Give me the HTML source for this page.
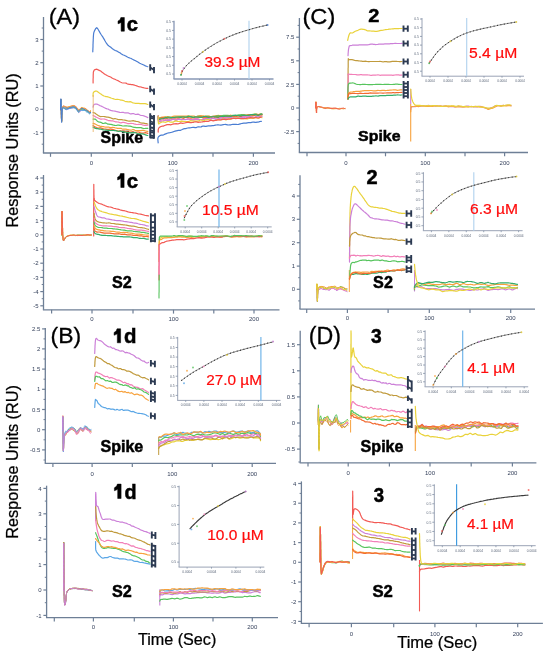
<!DOCTYPE html>
<html><head><meta charset="utf-8"><title>SPR</title>
<style>html,body{margin:0;padding:0;background:#fff;}body{width:550px;height:658px;overflow:hidden;}svg{display:block;filter:blur(0.3px);}</style>
</head><body>
<svg width="550" height="658" viewBox="0 0 550 658" font-family="'Liberation Sans', sans-serif">
<rect width="550" height="658" fill="#fff"/>
<text transform="translate(17.50,227.51) rotate(-90) scale(0.9895,1)" font-size="16.52" fill="#000" stroke="#000" stroke-width="0.25">Response Units (RU)</text>
<text transform="translate(18.10,538.80) rotate(-90) scale(1.0025,1)" font-size="16.23" fill="#000" stroke="#000" stroke-width="0.25">Response Units (RU)</text>
<text transform="translate(137.88,645.20) scale(0.9971,1)" font-size="16.23" font-weight="normal" fill="#000" stroke="#000" stroke-width="0.25">Time (Sec)</text>
<text transform="translate(397.17,648.40) scale(1.0075,1)" font-size="16.38" font-weight="normal" fill="#000" stroke="#000" stroke-width="0.25">Time (Sec)</text>
<text transform="translate(48.69,23.70) scale(1.0250,1)" font-size="22.90" font-weight="normal" fill="#000" stroke="#000" stroke-width="0.3">(A)</text>
<text transform="translate(302.48,23.50) scale(1.0807,1)" font-size="21.86" font-weight="normal" fill="#000" stroke="#000" stroke-width="0.3">(C)</text>
<text transform="translate(50.62,343.40) scale(1.0162,1)" font-size="22.61" font-weight="normal" fill="#000" stroke="#000" stroke-width="0.3">(B)</text>
<text transform="translate(308.81,344.20) scale(1.0080,1)" font-size="23.04" font-weight="normal" fill="#000" stroke="#000" stroke-width="0.3">(D)</text>
<line x1="43.5" y1="17" x2="43.5" y2="153" stroke="#6e7f96" stroke-width="1.3"/>
<line x1="42.9" y1="153" x2="275" y2="153" stroke="#6e7f96" stroke-width="1.3"/>
<line x1="40.3" y1="39.5" x2="43.5" y2="39.5" stroke="#6e7f96" stroke-width="1.2"/>
<text x="38.5" y="41.6" font-size="6" fill="#36425c" font-weight="normal" text-anchor="end">3</text>
<line x1="40.3" y1="62.7" x2="43.5" y2="62.7" stroke="#6e7f96" stroke-width="1.2"/>
<text x="38.5" y="64.8" font-size="6" fill="#36425c" font-weight="normal" text-anchor="end">2</text>
<line x1="40.3" y1="86" x2="43.5" y2="86" stroke="#6e7f96" stroke-width="1.2"/>
<text x="38.5" y="88.1" font-size="6" fill="#36425c" font-weight="normal" text-anchor="end">1</text>
<line x1="40.3" y1="109.3" x2="43.5" y2="109.3" stroke="#6e7f96" stroke-width="1.2"/>
<text x="38.5" y="111.39999999999999" font-size="6" fill="#36425c" font-weight="normal" text-anchor="end">0</text>
<line x1="40.3" y1="132.5" x2="43.5" y2="132.5" stroke="#6e7f96" stroke-width="1.2"/>
<text x="38.5" y="134.6" font-size="6" fill="#36425c" font-weight="normal" text-anchor="end">-1</text>
<line x1="41.7" y1="28" x2="43.5" y2="28" stroke="#6e7f96" stroke-width="1.0"/>
<line x1="41.7" y1="51.1" x2="43.5" y2="51.1" stroke="#6e7f96" stroke-width="1.0"/>
<line x1="41.7" y1="74.4" x2="43.5" y2="74.4" stroke="#6e7f96" stroke-width="1.0"/>
<line x1="41.7" y1="97.6" x2="43.5" y2="97.6" stroke="#6e7f96" stroke-width="1.0"/>
<line x1="41.7" y1="120.9" x2="43.5" y2="120.9" stroke="#6e7f96" stroke-width="1.0"/>
<line x1="41.7" y1="144.2" x2="43.5" y2="144.2" stroke="#6e7f96" stroke-width="1.0"/>
<line x1="50.5" y1="153" x2="50.5" y2="156.8" stroke="#6e7f96" stroke-width="1.2"/>
<line x1="91.3" y1="153" x2="91.3" y2="156.8" stroke="#6e7f96" stroke-width="1.2"/>
<line x1="132.4" y1="153" x2="132.4" y2="156.8" stroke="#6e7f96" stroke-width="1.2"/>
<line x1="172.7" y1="153" x2="172.7" y2="156.8" stroke="#6e7f96" stroke-width="1.2"/>
<line x1="213" y1="153" x2="213" y2="156.8" stroke="#6e7f96" stroke-width="1.2"/>
<line x1="253.4" y1="153" x2="253.4" y2="156.8" stroke="#6e7f96" stroke-width="1.2"/>
<text x="91.3" y="164.8" font-size="6" fill="#36425c" font-weight="normal" text-anchor="middle">0</text>
<text x="172.7" y="164.8" font-size="6" fill="#36425c" font-weight="normal" text-anchor="middle">100</text>
<text x="253.4" y="164.8" font-size="6" fill="#36425c" font-weight="normal" text-anchor="middle">200</text>
<path d="M121.14,17.50L124.37,17.50L124.37,31.20L121.14,31.20L121.14,22.43Q119.77,23.25 118.00,23.80L118.00,21.06Q120.74,19.97 120.86,17.50Z" fill="#000" stroke="#000" stroke-width="0.5" stroke-linejoin="round"/>
<text transform="translate(126.69,31.20) scale(1.0323,1)" font-size="19.57" font-weight="bold" fill="#000" stroke="#000" stroke-width="0.5">c</text>
<text transform="translate(100.62,142.60) scale(0.9883,1)" font-size="16.11" font-weight="bold" fill="#000" stroke="#000" stroke-width="0.5">Spike</text>
<polyline points="60.5,110.5 60.5,109.8 60.6,108.7 60.6,107.3 60.7,105.7 60.7,104.2 60.8,102.7 60.8,101.5 60.9,100.6 60.9,100.2 61.0,100.4 61.0,100.8 61.1,101.4 61.1,102.1 61.1,103.0 61.1,104.0 61.2,105.2 61.2,106.4 61.2,107.7 61.2,109.1 61.3,110.5 61.3,111.9 61.3,113.2 61.3,114.6 61.4,115.9 61.4,117.1 61.4,118.2 61.5,119.2 61.5,120.1 61.5,120.8 61.6,121.3 61.6,121.6 61.7,121.8 61.7,121.4 61.7,120.6 61.8,119.6 61.8,118.3 61.9,116.8 61.9,115.2 62.0,113.6 62.1,112.1 62.2,110.8 62.3,109.7 62.5,108.9 63.5,107.7 64.7,108.6 66.0,109.8 67.0,109.5 68.0,109.2 69.0,108.6 70.0,108.3 71.0,108.3 72.1,108.0 73.1,107.8 74.0,107.6 75.1,107.9 76.1,109.0 77.0,109.8 77.7,110.9 78.2,112.0 78.8,112.7 79.4,112.3 80.1,111.3 81.0,110.5 81.9,110.1 82.9,109.8 83.9,110.0 85.0,110.2 85.9,110.5 86.9,111.0 87.9,111.8 88.8,112.8 89.5,113.3 90.6,112.7" fill="none" stroke="#cc80d8" stroke-width="1.0" stroke-linejoin="round" stroke-linecap="round"/>
<polyline points="60.5,109.7 60.5,108.9 60.6,107.8 60.6,106.3 60.7,104.7 60.7,103.1 60.8,101.6 60.8,100.4 60.9,99.5 60.9,99.1 61.0,99.3 61.0,99.7 61.0,100.3 61.1,101.0 61.1,101.9 61.1,102.9 61.1,104.0 61.2,105.2 61.2,106.5 61.2,107.8 61.2,109.2 61.3,110.6 61.3,111.9 61.3,113.3 61.4,114.6 61.4,115.9 61.4,117.1 61.4,118.2 61.5,119.2 61.5,120.0 61.5,120.7 61.6,121.2 61.6,121.5 61.7,121.6 61.7,121.3 61.7,120.6 61.8,119.7 61.8,118.5 61.8,117.1 61.9,115.6 62.0,114.1 62.0,112.7 62.1,111.3 62.2,110.1 62.3,109.1 62.5,108.4 63.5,107.6 64.7,108.6 66.0,109.0 67.0,108.3 68.0,108.0 69.0,108.2 70.0,108.2 71.0,107.4 72.1,107.1 73.1,107.6 74.0,107.7 75.1,107.9 76.1,109.0 77.0,109.6 77.7,110.5 78.2,111.6 78.8,112.1 79.4,111.3 80.1,109.9 81.0,109.5 81.9,109.6 82.9,109.8 83.9,109.7 85.0,110.2 85.9,110.7 86.9,111.2 87.9,111.5 88.8,112.7 89.5,113.2 90.6,112.6" fill="none" stroke="#57c45e" stroke-width="1.0" stroke-linejoin="round" stroke-linecap="round"/>
<polyline points="60.5,109.7 60.5,108.9 60.6,107.8 60.6,106.4 60.7,104.8 60.7,103.3 60.8,101.8 60.8,100.6 60.9,99.7 60.9,99.3 61.0,99.5 61.0,99.9 61.1,100.5 61.1,101.2 61.1,102.1 61.1,103.2 61.2,104.3 61.2,105.6 61.2,106.9 61.2,108.2 61.3,109.6 61.3,111.0 61.3,112.4 61.3,113.8 61.4,115.1 61.4,116.3 61.4,117.4 61.5,118.4 61.5,119.2 61.5,119.9 61.6,120.4 61.6,120.6 61.6,120.7 61.7,120.4 61.7,119.7 61.8,118.8 61.8,117.6 61.8,116.3 61.9,114.9 61.9,113.5 62.0,112.0 62.0,110.7 62.1,109.4 62.2,108.3 62.4,107.4 62.5,106.8 63.5,106.0 64.7,106.6 66.0,107.2 67.0,107.3 68.0,107.5 69.0,107.3 70.0,106.9 71.0,106.6 72.1,105.8 73.1,105.8 74.0,105.8 75.1,106.1 76.1,106.8 77.0,107.7 77.7,108.7 78.2,109.7 78.8,110.3 79.4,110.2 80.1,109.4 81.0,108.5 81.9,108.3 82.9,108.4 83.9,108.6 85.0,108.3 85.9,108.8 86.9,109.7 87.9,110.7 88.8,111.4 89.5,111.9 90.6,111.5" fill="none" stroke="#f25a55" stroke-width="1.0" stroke-linejoin="round" stroke-linecap="round"/>
<polyline points="60.5,110.1 60.5,109.4 60.6,108.2 60.6,106.8 60.7,105.2 60.7,103.5 60.8,102.0 60.8,100.8 60.9,99.9 60.9,99.5 61.0,99.7 61.0,100.1 61.0,100.6 61.1,101.3 61.1,102.2 61.1,103.2 61.1,104.3 61.2,105.6 61.2,106.8 61.2,108.2 61.2,109.6 61.3,111.0 61.3,112.3 61.3,113.7 61.4,115.0 61.4,116.3 61.4,117.5 61.4,118.5 61.5,119.5 61.5,120.3 61.5,121.0 61.6,121.5 61.6,121.8 61.6,121.8 61.7,121.5 61.7,120.9 61.8,120.0 61.8,118.9 61.8,117.5 61.9,116.1 61.9,114.7 62.0,113.2 62.0,111.8 62.1,110.5 62.2,109.4 62.4,108.5 62.5,107.8 63.5,107.1 64.7,107.9 66.0,108.3 67.0,108.3 68.0,107.3 69.0,107.0 70.0,107.1 71.0,107.2 72.1,106.7 73.1,106.6 74.0,106.4 75.1,106.4 76.1,107.6 77.0,108.3 77.7,109.3 78.2,110.4 78.8,111.1 79.4,110.5 80.1,109.3 81.0,108.1 81.9,107.9 82.9,108.1 83.9,108.4 85.0,109.4 85.9,109.9 86.9,110.3 87.9,110.6 88.8,111.8 89.5,112.1 90.6,111.2" fill="none" stroke="#e9d23a" stroke-width="1.0" stroke-linejoin="round" stroke-linecap="round"/>
<polyline points="60.5,110.4 60.5,109.5 60.6,108.3 60.6,106.7 60.7,105.0 60.7,103.4 60.8,101.9 60.9,100.9 60.9,100.4 61.0,100.6 61.0,101.0 61.1,101.6 61.1,102.3 61.1,103.3 61.1,104.4 61.2,105.6 61.2,106.9 61.2,108.3 61.2,109.7 61.3,111.1 61.3,112.6 61.3,114.0 61.4,115.3 61.4,116.6 61.4,117.7 61.5,118.8 61.5,119.7 61.5,120.4 61.6,120.9 61.6,121.2 61.6,121.2 61.7,120.9 61.7,120.2 61.8,119.3 61.8,118.1 61.8,116.8 61.9,115.4 61.9,114.0 62.0,112.5 62.0,111.1 62.1,109.7 62.2,108.6 62.4,107.6 62.5,107.0 63.5,105.9 64.7,106.3 66.0,106.9 67.0,107.3 68.0,106.9 69.0,106.7 70.0,106.5 71.0,105.9 72.1,106.0 73.1,105.5 74.0,105.6 75.1,106.4 76.1,107.2 77.0,107.8 77.7,108.7 78.2,109.8 78.8,110.4 79.4,109.9 80.1,108.8 81.0,107.6 81.9,107.5 82.9,107.8 83.9,108.3 85.0,108.1 85.9,108.9 86.9,109.8 87.9,110.5 88.8,111.3 89.5,111.5 90.6,110.6" fill="none" stroke="#f7a23d" stroke-width="1.0" stroke-linejoin="round" stroke-linecap="round"/>
<polyline points="60.5,109.8 60.5,109.0 60.6,107.7 60.6,106.1 60.7,104.4 60.7,102.8 60.8,101.3 60.9,100.3 60.9,99.7 61.0,99.9 61.0,100.3 61.1,100.9 61.1,101.6 61.1,102.6 61.1,103.7 61.2,104.8 61.2,106.1 61.2,107.5 61.2,108.9 61.3,110.3 61.3,111.7 61.3,113.1 61.4,114.4 61.4,115.7 61.4,116.8 61.5,117.9 61.5,118.8 61.5,119.5 61.6,120.1 61.6,120.4 61.7,120.5 61.7,120.1 61.8,119.2 61.8,118.0 61.8,116.6 61.9,115.1 62.0,113.5 62.1,112.1 62.2,110.8 62.3,109.7 62.5,109.1 63.5,108.5 64.7,108.8 66.0,109.7 67.0,109.4 68.0,108.8 69.0,108.7 70.0,108.5 71.0,107.9 72.1,108.0 73.1,107.6 74.0,107.5 75.1,108.1 76.1,109.3 77.0,110.4 77.7,111.4 78.2,112.1 78.8,112.3 79.4,111.7 80.1,110.7 81.0,110.2 81.9,110.4 82.9,110.6 83.9,110.4 85.0,110.6 85.9,111.5 86.9,112.1 87.9,112.2 88.8,113.5 89.5,113.9 90.6,112.9" fill="none" stroke="#5aa6e6" stroke-width="1.0" stroke-linejoin="round" stroke-linecap="round"/>
<polyline points="60.5,109.7 60.5,109.0 60.6,107.9 60.6,106.6 60.6,105.1 60.7,103.6 60.7,102.2 60.8,100.8 60.8,99.8 60.9,99.0 60.9,98.7 61.0,99.0 61.0,99.4 61.0,99.9 61.1,100.7 61.1,101.5 61.1,102.5 61.1,103.6 61.2,104.8 61.2,106.1 61.2,107.4 61.2,108.8 61.3,110.2 61.3,111.6 61.3,113.0 61.3,114.3 61.4,115.7 61.4,116.9 61.4,118.1 61.4,119.2 61.5,120.1 61.5,120.9 61.5,121.6 61.6,122.1 61.6,122.4 61.6,122.6 61.7,122.3 61.7,121.7 61.8,120.8 61.8,119.7 61.8,118.4 61.9,116.9 61.9,115.4 62.0,113.9 62.0,112.4 62.1,111.0 62.2,109.8 62.4,108.8 62.5,108.0 63.5,106.9 64.7,108.0 66.0,108.0 67.0,108.0 68.0,108.4 69.0,107.9 70.0,107.3 71.0,107.4 72.1,106.9 73.1,106.7 74.0,106.8 75.1,107.2 76.1,107.8 77.0,109.2 77.7,110.2 78.2,110.9 78.8,111.0 79.4,110.5 80.1,109.5 81.0,108.5 81.9,108.4 82.9,108.7 83.9,109.0 85.0,109.9 85.9,110.1 86.9,110.4 87.9,111.0 88.8,111.8 89.5,112.5 90.6,112.4" fill="none" stroke="#4a7dd2" stroke-width="1.0" stroke-linejoin="round" stroke-linecap="round"/>
<polyline points="92.8,51.8 92.8,51.1 92.8,50.3 92.9,49.4 92.9,48.3 93.0,47.1 93.0,45.8 93.0,44.6 93.1,43.3 93.1,42.1 93.2,40.9 93.2,39.8 93.3,38.8 93.3,38.0 93.4,36.3 93.5,35.0 93.6,34.0 93.7,33.2 93.9,32.4 94.4,31.0 95.0,29.9 95.7,28.4 96.7,27.7 97.3,28.2 97.9,29.0 98.6,30.2 99.4,31.6 100.1,32.9 100.6,33.7 101.1,34.5 101.7,35.3 102.2,36.1 102.8,36.9 103.3,37.9 103.9,38.9 104.5,39.9 105.1,41.0 105.7,42.0 106.4,43.1 107.1,44.1 107.7,45.0 108.4,45.6 109.2,46.2 110.0,46.7 110.8,47.3 111.6,48.0 112.5,48.7 113.5,49.4 114.3,49.9 115.3,50.5 116.3,50.9 117.3,51.3 118.3,51.9 119.3,52.5 120.3,53.1 121.1,53.7 122.3,54.4 123.3,55.0 124.2,55.3 125.1,55.7 126.2,56.3 127.0,56.8 127.9,57.3 128.8,57.6 129.7,58.0 130.7,58.3 131.6,58.8 132.5,59.3 133.4,59.7 134.2,60.1 135.1,60.5 136.0,61.0 136.9,61.5 137.9,62.1 138.9,62.7 139.8,63.3 140.9,63.8 142.0,64.2 143.2,64.7 144.3,65.3 145.4,65.9 146.4,66.2 147.2,66.5 147.8,66.7" fill="none" stroke="#4a7dd2" stroke-width="1.2" stroke-linejoin="round" stroke-linecap="round"/>
<polyline points="93.1,83.0 93.1,82.3 93.1,81.3 93.1,80.2 93.1,79.0 93.2,77.7 93.2,76.3 93.2,75.0 93.3,73.9 93.3,72.8 93.4,72.0 94.1,70.2 95.0,69.6 96.9,69.2 97.7,69.6 98.7,70.1 99.8,70.6 101.0,71.3 101.8,72.0 102.6,72.6 103.5,73.3 104.4,73.9 105.3,74.5 106.2,75.0 107.1,75.5 108.1,76.0 109.0,76.4 110.0,76.8 111.0,77.2 112.0,77.9 113.0,78.5 113.9,78.9 114.9,79.3 115.9,79.8 116.9,80.2 117.9,80.6 118.9,81.2 119.8,81.8 120.9,82.3 121.9,82.7 122.9,83.0 123.9,83.0 125.0,83.0 126.0,83.1 127.1,83.7 128.1,84.2 129.2,84.3 130.2,84.4 131.4,84.6 132.5,84.7 133.5,84.9 134.6,85.2 135.6,85.5 136.7,85.9 137.8,86.3 138.9,86.6 140.0,86.8 141.0,87.0 142.1,87.4 143.2,87.7 144.4,88.0 145.4,88.2 146.4,88.3 147.2,88.3 147.8,88.4" fill="none" stroke="#f25a55" stroke-width="1.2" stroke-linejoin="round" stroke-linecap="round"/>
<polyline points="93.1,96.3 93.1,95.2 93.1,93.7 93.4,92.5 94.2,91.7 95.3,91.1 96.3,91.0 97.2,91.3 98.0,92.1 99.0,92.8 99.7,93.2 100.4,93.7 101.3,94.3 102.2,95.0 103.3,95.6 104.1,96.0 105.0,96.3 105.9,96.6 106.9,96.7 107.9,96.9 108.9,97.2 110.0,97.6 111.0,98.0 111.9,98.3 112.9,98.6 113.8,98.9 114.8,99.2 115.7,99.5 116.7,99.4 117.7,99.4 118.8,99.5 119.8,99.8 120.8,100.1 121.8,100.2 122.8,100.3 123.8,100.7 124.9,101.2 125.9,101.6 127.0,101.7 128.0,101.9 129.0,101.8 130.0,101.7 131.2,101.9 132.3,102.6 133.4,103.0 134.5,103.2 135.6,103.3 136.7,103.3 137.8,103.3 138.9,103.4 140.1,103.6 141.3,103.6 142.6,103.6 143.9,103.6 145.1,103.7 146.2,103.9 147.1,104.2 147.8,104.5" fill="none" stroke="#e9d23a" stroke-width="1.2" stroke-linejoin="round" stroke-linecap="round"/>
<polyline points="93.1,107.1 93.4,105.8 94.0,104.5 95.3,104.0 96.9,104.1 97.8,104.5 98.8,105.0 99.8,105.6 101.0,106.0 101.8,106.4 102.6,106.8 103.5,107.2 104.5,107.8 105.7,108.4 107.1,108.8 107.9,109.0 108.7,109.4 109.6,109.9 110.6,110.4 111.6,110.6 112.7,110.8 113.7,111.0 114.8,111.2 115.9,111.4 116.9,111.7 117.9,111.9 118.9,112.1 119.8,112.4 120.9,112.5 122.0,112.4 123.1,112.3 124.1,112.6 125.1,112.8 126.1,112.9 127.1,112.9 128.1,112.9 129.0,113.3 130.0,113.8 131.2,113.9 132.3,113.6 133.4,113.5 134.5,114.0 135.6,114.5 136.7,114.3 137.8,114.1 138.9,114.4 139.9,115.0 141.0,115.4 142.2,115.5 143.3,115.7 144.5,116.1 145.5,116.5 146.4,116.9 147.2,117.3 147.8,117.6" fill="none" stroke="#cc80d8" stroke-width="1.2" stroke-linejoin="round" stroke-linecap="round"/>
<polyline points="93.1,112.5 95.0,113.1 95.7,113.7 96.5,114.3 97.5,115.0 98.6,115.7 100.0,116.4 100.8,116.6 101.7,116.5 102.6,116.5 103.6,116.5 104.7,116.7 105.8,116.9 106.8,117.1 107.9,117.2 109.0,117.4 110.0,117.6 111.0,118.0 111.9,118.4 112.8,118.8 113.8,118.8 114.7,118.7 115.6,118.7 116.6,119.0 117.7,119.4 118.8,119.6 120.0,119.5 120.9,119.6 121.8,119.7 122.7,119.9 123.7,120.0 124.7,120.2 125.7,120.4 126.8,120.7 127.9,121.0 128.9,121.1 130.0,121.1 131.0,121.0 132.1,120.8 133.1,120.7 134.1,120.9 135.0,121.2 136.2,121.4 137.4,121.5 138.7,121.8 139.9,122.5 141.1,122.9 142.3,123.1 143.5,123.2 144.6,123.4 145.6,123.6 146.4,123.7 147.2,123.9 147.8,124.0" fill="none" stroke="#c09a3c" stroke-width="1.2" stroke-linejoin="round" stroke-linecap="round"/>
<polyline points="93.1,115.5 95.0,116.4 95.7,116.9 96.5,117.3 97.5,117.7 98.6,118.3 100.0,118.9 100.8,119.2 101.7,119.1 102.6,119.0 103.6,119.0 104.7,119.2 105.8,119.5 106.8,119.9 107.9,120.3 109.0,120.6 110.0,120.7 111.0,120.8 111.9,120.9 112.8,120.9 113.8,121.2 114.7,121.5 115.6,121.9 116.6,121.9 117.7,122.0 118.8,122.2 120.0,122.6 120.9,122.8 121.8,122.6 122.7,122.4 123.7,122.4 124.7,122.6 125.7,122.8 126.8,123.2 127.9,123.7 128.9,123.6 130.0,123.5 131.0,123.4 132.1,123.5 133.1,123.5 134.1,123.9 135.0,124.2 136.2,124.4 137.4,124.5 138.7,124.4 139.9,124.3 141.1,124.4 142.3,124.8 143.5,125.1 144.6,125.3 145.6,125.4 146.4,125.3 147.2,125.2 147.8,125.2" fill="none" stroke="#f27fb8" stroke-width="1.2" stroke-linejoin="round" stroke-linecap="round"/>
<polyline points="93.1,119.1 93.7,119.1 95.0,119.2 95.7,119.4 96.5,120.3 97.5,121.3 98.6,122.0 100.0,122.2 100.8,122.3 101.7,122.8 102.6,123.4 103.6,123.5 104.7,123.1 105.8,122.9 106.8,123.5 107.9,124.1 109.0,124.2 110.0,124.3 111.0,124.4 111.9,124.6 112.8,124.9 113.8,125.1 114.7,125.3 115.6,125.5 116.6,125.3 117.7,125.0 118.8,125.1 120.0,125.3 120.9,125.5 121.8,125.7 122.7,126.0 123.7,126.0 124.7,125.9 125.7,125.8 126.8,125.9 127.9,126.0 128.9,126.1 130.0,126.2 131.0,126.4 132.1,126.8 133.1,127.2 134.1,127.3 135.0,127.4 136.2,127.6 137.4,127.7 138.7,127.7 139.9,127.5 141.1,127.6 142.3,128.2 143.5,128.5 144.6,128.5 145.6,128.4 146.4,128.4 147.2,128.4 147.8,128.4" fill="none" stroke="#57c45e" stroke-width="1.2" stroke-linejoin="round" stroke-linecap="round"/>
<polyline points="93.1,123.4 95.0,123.9 95.7,124.3 96.5,124.7 97.5,125.2 98.6,125.7 100.0,126.1 100.8,126.3 101.7,126.4 102.6,126.6 103.6,126.7 104.7,127.0 105.8,127.2 106.8,127.1 107.9,127.0 109.0,127.2 110.0,127.6 111.0,127.7 111.9,127.5 112.8,127.4 113.8,127.5 114.7,127.7 115.6,128.0 116.6,128.1 117.7,128.3 118.8,128.3 120.0,128.3 120.9,128.4 121.8,128.8 122.7,129.1 123.7,129.2 124.7,129.1 125.7,129.0 126.8,129.3 127.9,129.7 128.9,129.9 130.0,130.1 131.0,130.1 132.1,129.8 133.1,129.5 134.1,129.9 135.0,130.3 136.2,130.6 137.4,130.6 138.7,130.7 139.9,130.7 141.1,130.6 142.3,130.4 143.5,130.4 144.6,130.7 145.6,131.0 146.4,131.2 147.2,131.3 147.8,131.4" fill="none" stroke="#f7a23d" stroke-width="1.2" stroke-linejoin="round" stroke-linecap="round"/>
<polyline points="93.1,125.5 93.7,126.0 95.0,126.8 95.7,127.1 96.5,127.5 97.5,127.9 98.6,128.1 100.0,127.9 100.8,127.9 101.7,128.3 102.6,128.7 103.6,128.9 104.7,129.0 105.8,129.1 106.8,129.3 107.9,129.4 109.0,129.3 110.0,129.2 111.0,129.2 111.9,129.3 112.8,129.4 113.8,129.7 114.7,130.0 115.6,130.3 116.6,130.6 117.7,131.0 118.8,131.0 120.0,130.8 120.9,130.8 121.8,131.0 122.7,131.2 123.7,131.2 124.7,131.2 125.7,131.2 126.8,131.6 127.9,131.9 128.9,132.1 130.0,132.2 131.0,132.2 132.1,131.9 133.1,131.7 134.1,132.1 135.0,132.4 136.2,132.4 137.4,132.0 138.7,132.0 139.9,132.6 141.1,132.9 142.3,133.1 143.5,133.1 144.6,132.8 145.6,132.6 146.4,132.9 147.2,133.1 147.8,133.4" fill="none" stroke="#f26b32" stroke-width="1.2" stroke-linejoin="round" stroke-linecap="round"/>
<polyline points="93.1,127.1 95.0,128.1 95.7,128.4 96.5,128.6 97.5,128.7 98.6,128.9 100.0,129.1 100.8,129.2 101.7,129.4 102.6,129.7 103.6,129.9 104.7,130.0 105.8,130.1 106.8,130.2 107.9,130.3 109.0,130.4 110.0,130.5 111.0,130.5 111.9,130.5 112.8,130.5 113.8,130.5 114.7,130.6 115.6,130.6 116.6,130.9 117.7,131.2 118.8,131.3 120.0,131.2 120.9,131.2 121.8,131.5 122.7,131.7 123.7,131.9 124.7,132.1 125.7,132.2 126.8,132.4 127.9,132.6 128.9,132.7 130.0,132.9 131.0,132.9 132.1,132.7 133.1,132.4 134.1,132.6 135.0,132.7 136.2,133.0 137.4,133.5 138.7,133.8 139.9,133.9 141.1,133.9 142.3,133.9 143.5,134.1 144.6,134.5 145.6,134.9 146.4,135.2 147.2,135.4 147.8,135.5" fill="none" stroke="#35ad6a" stroke-width="1.2" stroke-linejoin="round" stroke-linecap="round"/>
<line x1="93.2" y1="95" x2="93.2" y2="132" stroke="#e8b060" stroke-width="0.8"/>
<path d="M150.2,64.3V70.7M154.0,66.9V73.2" stroke="#2c3a52" stroke-width="1.9" fill="none"/>
<line x1="150.2" y1="67.5" x2="154.0" y2="70.1" stroke="#2c3a52" stroke-width="1.8"/>
<path d="M150.2,85.8V92.2M154.0,88.4V94.8" stroke="#2c3a52" stroke-width="1.9" fill="none"/>
<line x1="150.2" y1="89.0" x2="154.0" y2="91.6" stroke="#2c3a52" stroke-width="1.8"/>
<path d="M150.2,101.4V107.8M154.0,104.0V110.3" stroke="#2c3a52" stroke-width="1.9" fill="none"/>
<line x1="150.2" y1="104.6" x2="154.0" y2="107.2" stroke="#2c3a52" stroke-width="1.8"/>
<path d="M150.2,113.2V138.3M154.0,115.1V138.7" stroke="#2c3a52" stroke-width="1.9" fill="none"/>
<line x1="150.2" y1="115.5" x2="154.0" y2="117.5" stroke="#2c3a52" stroke-width="1.8"/>
<line x1="150.2" y1="117.8" x2="154.0" y2="118.5" stroke="#2c3a52" stroke-width="1.8"/>
<line x1="150.2" y1="121.5" x2="154.0" y2="122.5" stroke="#2c3a52" stroke-width="1.8"/>
<line x1="150.2" y1="123.8" x2="154.0" y2="124.0" stroke="#2c3a52" stroke-width="1.8"/>
<line x1="150.2" y1="127.5" x2="154.0" y2="128.0" stroke="#2c3a52" stroke-width="1.8"/>
<line x1="150.2" y1="130.5" x2="154.0" y2="131.0" stroke="#2c3a52" stroke-width="1.8"/>
<line x1="150.2" y1="132.3" x2="154.0" y2="132.5" stroke="#2c3a52" stroke-width="1.8"/>
<line x1="150.2" y1="135.5" x2="154.0" y2="136.0" stroke="#2c3a52" stroke-width="1.8"/>
<line x1="150.2" y1="137.5" x2="154.0" y2="137.8" stroke="#2c3a52" stroke-width="1.8"/>
<polyline points="158.2,116.3 158.2,117.3 158.6,118.3 158.9,118.2 159.5,117.8 162.0,117.2 162.6,117.1 163.3,117.0 164.1,116.9 164.9,116.9 165.8,116.9 166.7,116.8 167.7,116.7 168.7,116.8 169.8,117.2 170.9,117.4 172.0,116.9 173.1,116.4 174.3,116.2 175.5,116.1 176.7,116.1 177.9,116.2 179.1,116.2 180.3,116.2 181.5,116.2 182.7,116.2 183.6,116.2 184.4,116.2 185.3,116.1 186.2,116.1 187.0,116.0 187.8,115.9 188.7,115.9 189.5,116.0 190.4,116.1 191.3,116.2 192.1,116.1 193.0,116.1 193.9,116.2 194.9,116.4 195.8,116.5 196.8,116.3 197.8,116.0 198.8,115.9 199.9,115.8 201.0,115.7 202.1,115.8 203.3,115.9 204.6,116.1 205.8,116.3 207.2,116.2 208.6,116.1 210.0,116.4 210.8,116.5 211.6,116.5 212.4,116.5 213.3,116.5 214.2,116.3 215.2,116.0 216.2,115.7 217.2,115.5 218.2,115.3 219.2,115.6 220.3,116.0 221.4,116.2 222.5,116.2 223.6,116.0 224.7,115.7 225.9,115.5 227.0,115.7 228.2,115.8 229.4,115.5 230.6,115.2 231.8,115.5 232.9,115.9 234.1,116.0 235.3,115.8 236.5,115.8 237.7,115.7 238.9,115.7 240.1,115.8 241.2,115.6 242.4,115.0 243.5,114.6 244.7,114.8 245.8,115.0 246.9,115.1 248.0,115.2 249.0,115.2 250.1,115.2 251.1,115.1 252.1,114.8 253.0,114.5 254.0,114.3 254.9,114.1 255.8,114.0 256.6,114.2 257.4,114.4 258.2,114.6 258.9,114.4 259.6,114.1 260.3,113.9 260.9,113.8 261.5,114.0 262.0,114.2" fill="none" stroke="#f7a23d" stroke-width="1.2" stroke-linejoin="round" stroke-linecap="round"/>
<polyline points="158.2,116.6 158.2,118.0 158.6,119.1 158.9,119.0 159.5,118.4 162.0,117.9 162.6,117.9 163.3,117.9 164.1,117.9 164.9,117.9 165.8,117.9 166.7,117.5 167.7,117.1 168.7,117.0 169.8,117.2 170.9,117.4 172.0,117.6 173.1,117.7 174.3,117.7 175.5,117.7 176.7,117.4 177.9,117.2 179.1,116.9 180.3,116.5 181.5,116.5 182.7,116.7 183.6,116.9 184.4,117.2 185.3,117.5 186.2,117.4 187.0,116.9 187.8,116.4 188.7,116.2 189.5,116.4 190.4,116.5 191.3,116.7 192.1,117.1 193.0,117.4 193.9,117.2 194.9,116.9 195.8,116.6 196.8,116.5 197.8,116.3 198.8,116.3 199.9,116.3 201.0,116.5 202.1,116.9 203.3,117.2 204.6,116.7 205.8,116.3 207.2,116.4 208.6,116.4 210.0,116.6 210.8,116.6 211.6,116.7 212.4,116.8 213.3,116.8 214.2,116.6 215.2,116.4 216.2,116.1 217.2,115.8 218.2,115.5 219.2,115.8 220.3,116.1 221.4,115.9 222.5,115.5 223.6,115.3 224.7,115.3 225.9,115.3 227.0,115.3 228.2,115.3 229.4,115.7 230.6,116.0 231.8,115.7 232.9,115.4 234.1,115.5 235.3,115.7 236.5,115.5 237.7,115.1 238.9,114.8 240.1,114.8 241.2,114.7 242.4,114.6 243.5,114.6 244.7,115.1 245.8,115.5 246.9,115.5 248.0,115.6 249.0,115.2 250.1,114.8 251.1,114.5 252.1,114.5 253.0,114.4 254.0,114.3 254.9,114.1 255.8,114.0 256.6,114.3 257.4,114.6 258.2,114.9 258.9,114.7 259.6,114.5 260.3,114.3 260.9,114.2 261.5,114.1 262.0,114.0" fill="none" stroke="#57c45e" stroke-width="1.2" stroke-linejoin="round" stroke-linecap="round"/>
<polyline points="158.2,115.5 158.2,116.4 158.2,117.7 158.6,118.6 158.9,118.6 159.5,118.3 162.0,118.3 162.6,118.2 163.3,118.1 164.1,118.0 164.9,117.9 165.8,117.8 166.7,117.6 167.7,117.4 168.7,117.4 169.8,117.8 170.9,118.1 172.0,118.1 173.1,118.1 174.3,117.8 175.5,117.6 176.7,117.5 177.9,117.4 179.1,117.3 180.3,117.0 181.5,116.8 182.7,116.6 183.6,116.6 184.4,116.8 185.3,117.0 186.2,117.1 187.0,117.2 187.8,117.3 188.7,117.2 189.5,116.9 190.4,116.6 191.3,116.8 192.1,117.2 193.0,117.6 193.9,117.4 194.9,117.0 195.8,116.7 196.8,116.7 197.8,116.7 198.8,116.6 199.9,116.4 201.0,116.5 202.1,117.2 203.3,117.8 204.6,117.5 205.8,117.3 207.2,117.4 208.6,117.4 210.0,117.1 210.8,116.9 211.6,116.6 212.4,116.3 213.3,116.0 214.2,116.1 215.2,116.3 216.2,116.4 217.2,116.4 218.2,116.5 219.2,116.2 220.3,115.9 221.4,116.2 222.5,116.7 223.6,116.9 224.7,116.4 225.9,116.0 227.0,115.8 228.2,115.6 229.4,116.1 230.6,116.5 231.8,116.0 232.9,115.5 234.1,115.8 235.3,116.4 236.5,116.3 237.7,115.8 238.9,115.7 240.1,115.7 241.2,115.6 242.4,115.4 243.5,115.3 244.7,115.4 245.8,115.4 246.9,115.2 248.0,114.9 249.0,114.7 250.1,114.6 251.1,114.7 252.1,115.2 253.0,115.7 254.0,115.4 254.9,115.0 255.8,114.6 256.6,114.9 257.4,115.2 258.2,115.4 258.9,115.1 259.6,114.8 260.3,114.5 260.9,114.5 261.5,114.7 262.0,115.0" fill="none" stroke="#c09a3c" stroke-width="1.2" stroke-linejoin="round" stroke-linecap="round"/>
<polyline points="158.2,116.7 158.2,117.8 158.2,119.3 158.6,120.0 158.9,119.9 159.5,119.0 162.0,117.8 162.6,117.7 163.3,117.7 164.1,118.2 164.9,118.6 165.8,119.0 166.7,118.5 167.7,118.0 168.7,117.6 169.8,117.6 170.9,117.5 172.0,117.9 173.1,118.2 174.3,118.0 175.5,117.7 176.7,118.0 177.9,118.4 179.1,118.1 180.3,117.6 181.5,117.7 182.7,118.2 183.6,118.3 184.4,117.9 185.3,117.5 186.2,117.5 187.0,117.6 187.8,117.7 188.7,117.9 189.5,118.0 190.4,118.2 191.3,118.2 192.1,118.0 193.0,117.9 193.9,118.0 194.9,118.1 195.8,118.2 196.8,118.0 197.8,117.9 198.8,117.5 199.9,117.1 201.0,116.9 202.1,117.4 203.3,118.0 204.6,117.7 205.8,117.4 207.2,117.1 208.6,116.9 210.0,116.7 210.8,116.7 211.6,117.0 212.4,117.3 213.3,117.6 214.2,117.4 215.2,117.2 216.2,117.2 217.2,117.4 218.2,117.6 219.2,117.4 220.3,117.3 221.4,117.3 222.5,117.4 223.6,117.3 224.7,117.0 225.9,116.7 227.0,116.7 228.2,116.8 229.4,116.7 230.6,116.6 231.8,116.3 232.9,116.0 234.1,116.3 235.3,116.8 236.5,116.5 237.7,116.0 238.9,116.0 240.1,116.3 241.2,116.5 242.4,116.5 243.5,116.5 244.7,116.3 245.8,116.0 246.9,115.6 248.0,115.2 249.0,115.4 250.1,115.8 251.1,116.0 252.1,115.9 253.0,115.8 254.0,115.5 254.9,115.1 255.8,114.8 256.6,114.7 257.4,114.6 258.2,114.5 258.9,114.7 259.6,114.9 260.3,115.1 260.9,115.1 261.5,114.9 262.0,114.7" fill="none" stroke="#f26b32" stroke-width="1.2" stroke-linejoin="round" stroke-linecap="round"/>
<polyline points="158.2,116.7 158.2,117.7 158.2,119.0 158.6,119.9 158.9,119.9 159.5,119.4 162.0,118.9 162.6,118.8 163.3,118.7 164.1,118.2 164.9,117.8 165.8,117.3 166.7,117.6 167.7,117.9 168.7,117.9 169.8,117.8 170.9,117.7 172.0,117.7 173.1,117.7 174.3,117.4 175.5,117.1 176.7,117.0 177.9,117.0 179.1,117.2 180.3,117.3 181.5,117.2 182.7,117.0 183.6,117.0 184.4,117.1 185.3,117.2 186.2,117.1 187.0,116.9 187.8,116.6 188.7,116.5 189.5,116.5 190.4,116.6 191.3,116.8 192.1,117.1 193.0,117.5 193.9,117.4 194.9,117.2 195.8,117.0 196.8,117.1 197.8,117.1 198.8,117.2 199.9,117.3 201.0,117.4 202.1,117.1 203.3,116.7 204.6,116.5 205.8,116.3 207.2,116.9 208.6,117.3 210.0,117.0 210.8,116.9 211.6,116.9 212.4,116.9 213.3,116.9 214.2,116.9 215.2,116.8 216.2,116.9 217.2,117.1 218.2,117.2 219.2,116.8 220.3,116.4 221.4,116.3 222.5,116.6 223.6,116.6 224.7,116.3 225.9,116.0 227.0,116.1 228.2,116.2 229.4,116.2 230.6,116.3 231.8,116.0 232.9,115.7 234.1,115.4 235.3,115.2 236.5,115.3 237.7,115.5 238.9,115.7 240.1,115.9 241.2,115.9 242.4,115.7 243.5,115.6 244.7,115.4 245.8,115.3 246.9,115.4 248.0,115.5 249.0,115.2 250.1,114.9 251.1,114.6 252.1,114.6 253.0,114.6 254.0,114.6 254.9,114.6 255.8,114.7 256.6,114.9 257.4,115.2 258.2,115.4 258.9,115.0 259.6,114.7 260.3,114.4 260.9,114.2 261.5,114.2 262.0,114.1" fill="none" stroke="#35ad6a" stroke-width="1.2" stroke-linejoin="round" stroke-linecap="round"/>
<polyline points="158.2,116.3 158.2,117.1 158.2,118.3 158.2,119.5 158.3,120.7 158.6,121.4 158.9,121.5 159.5,121.0 162.0,120.0 162.6,119.7 163.3,119.5 164.1,119.8 164.9,120.2 165.8,120.5 166.7,120.0 167.7,119.5 168.7,119.3 169.8,119.6 170.9,119.8 172.0,119.3 173.1,118.9 174.3,119.3 175.5,119.7 176.7,119.4 177.9,118.9 179.1,119.1 180.3,119.5 181.5,119.6 182.7,119.6 183.6,119.5 184.4,119.5 185.3,119.5 186.2,119.4 187.0,119.3 187.8,119.1 188.7,119.1 189.5,119.3 190.4,119.5 191.3,119.7 192.1,119.7 193.0,119.8 193.9,119.4 194.9,118.8 195.8,118.4 196.8,118.6 197.8,118.8 198.8,119.1 199.9,119.4 201.0,119.5 202.1,119.4 203.3,119.2 204.6,118.9 205.8,118.6 207.2,118.5 208.6,118.5 210.0,119.0 210.8,119.3 211.6,118.8 212.4,118.3 213.3,117.9 214.2,118.2 215.2,118.6 216.2,118.8 217.2,118.8 218.2,118.8 219.2,118.4 220.3,117.8 221.4,117.7 222.5,117.8 223.6,117.8 224.7,117.7 225.9,117.7 227.0,117.8 228.2,118.0 229.4,117.8 230.6,117.6 231.8,117.9 232.9,118.3 234.1,118.3 235.3,118.3 236.5,117.9 237.7,117.4 238.9,117.4 240.1,117.8 241.2,117.7 242.4,117.1 243.5,116.6 244.7,116.6 245.8,116.6 246.9,116.9 248.0,117.3 249.0,117.4 250.1,117.4 251.1,117.4 252.1,117.4 253.0,117.4 254.0,117.4 254.9,117.5 255.8,117.5 256.6,117.4 257.4,117.3 258.2,117.2 258.9,116.9 259.6,116.6 260.3,116.4 260.9,116.2 261.5,116.4 262.0,116.5" fill="none" stroke="#f27fb8" stroke-width="1.2" stroke-linejoin="round" stroke-linecap="round"/>
<polyline points="158.2,115.8 158.2,116.7 158.2,117.9 158.2,119.3 158.3,120.6 158.6,121.4 158.9,121.7 159.5,121.3 162.0,121.1 162.6,121.0 163.3,120.9 164.1,120.5 164.9,120.2 165.8,119.9 166.7,120.2 167.7,120.6 168.7,120.6 169.8,120.4 170.9,120.2 172.0,119.7 173.1,119.3 174.3,119.8 175.5,120.4 176.7,120.1 177.9,119.5 179.1,119.4 180.3,119.4 181.5,119.4 182.7,119.5 183.6,119.5 184.4,119.6 185.3,119.6 186.2,119.5 187.0,119.3 187.8,119.0 188.7,119.0 189.5,119.3 190.4,119.6 191.3,119.8 192.1,119.8 193.0,119.9 193.9,119.8 194.9,119.6 195.8,119.4 196.8,119.5 197.8,119.7 198.8,119.7 199.9,119.5 201.0,119.5 202.1,119.6 203.3,119.6 204.6,119.1 205.8,118.6 207.2,118.7 208.6,118.8 210.0,118.9 210.8,118.9 211.6,118.6 212.4,118.4 213.3,118.3 214.2,118.8 215.2,119.2 216.2,119.4 217.2,119.1 218.2,118.9 219.2,118.5 220.3,118.1 221.4,118.1 222.5,118.4 223.6,118.5 224.7,118.3 225.9,118.2 227.0,118.0 228.2,117.7 229.4,117.7 230.6,117.6 231.8,117.8 232.9,117.9 234.1,117.7 235.3,117.3 236.5,117.5 237.7,117.8 238.9,117.9 240.1,117.8 241.2,117.6 242.4,117.2 243.5,117.2 244.7,117.6 245.8,118.1 246.9,117.4 248.0,116.8 249.0,116.7 250.1,116.7 251.1,116.9 252.1,117.3 253.0,117.6 254.0,117.3 254.9,117.0 255.8,116.6 256.6,116.7 257.4,116.8 258.2,116.8 258.9,116.9 259.6,116.9 260.3,116.9 260.9,116.9 261.5,116.9 262.0,116.8" fill="none" stroke="#cc80d8" stroke-width="1.2" stroke-linejoin="round" stroke-linecap="round"/>
<polyline points="158.2,116.4 158.2,117.1 158.2,118.2 158.2,119.5 158.2,120.9 158.3,122.1 158.4,123.1 158.6,123.8 158.9,124.0 159.5,123.1 162.0,122.0 162.6,122.0 163.3,121.9 164.1,122.1 164.9,122.2 165.8,122.3 166.7,121.9 167.7,121.5 168.7,121.5 169.8,121.9 170.9,122.2 172.0,122.2 173.1,122.1 174.3,121.5 175.5,120.9 176.7,121.1 177.9,121.5 179.1,121.5 180.3,121.3 181.5,121.2 182.7,121.3 183.6,121.4 184.4,121.5 185.3,121.6 186.2,121.7 187.0,121.7 187.8,121.6 188.7,121.4 189.5,121.1 190.4,120.7 191.3,120.8 192.1,121.0 193.0,121.2 193.9,121.2 194.9,121.1 195.8,121.1 196.8,121.2 197.8,121.2 198.8,120.9 199.9,120.2 201.0,119.8 202.1,120.5 203.3,121.0 204.6,120.4 205.8,119.8 207.2,119.6 208.6,119.6 210.0,120.0 210.8,120.2 211.6,120.3 212.4,120.4 213.3,120.4 214.2,120.5 215.2,120.5 216.2,120.3 217.2,119.9 218.2,119.5 219.2,119.7 220.3,120.0 221.4,119.7 222.5,119.1 223.6,118.9 224.7,119.5 225.9,120.0 227.0,119.4 228.2,118.8 229.4,119.0 230.6,119.1 231.8,118.8 232.9,118.4 234.1,118.2 235.3,118.1 236.5,118.0 237.7,117.9 238.9,118.1 240.1,118.5 241.2,118.7 242.4,118.6 243.5,118.6 244.7,118.7 245.8,118.8 246.9,118.8 248.0,118.8 249.0,118.5 250.1,118.1 251.1,118.0 252.1,118.2 253.0,118.5 254.0,118.1 254.9,117.7 255.8,117.4 256.6,117.7 257.4,118.0 258.2,118.3 258.9,118.0 259.6,117.6 260.3,117.3 260.9,117.2 261.5,117.5 262.0,117.7" fill="none" stroke="#e9d23a" stroke-width="1.2" stroke-linejoin="round" stroke-linecap="round"/>
<polyline points="158.2,132.1 158.2,131.2 158.2,129.8 158.5,128.7 159.0,127.8 159.8,127.1 160.9,126.5 161.6,126.3 162.4,126.2 163.3,126.1 164.6,125.5 166.4,124.9 167.1,124.7 167.9,124.6 168.8,124.6 169.7,124.7 170.7,124.9 171.7,124.5 172.8,124.2 173.9,123.9 175.0,123.8 176.1,123.7 177.2,123.8 178.4,123.8 179.5,123.4 180.6,122.9 181.7,123.1 182.7,123.3 183.7,123.2 184.8,123.0 185.8,122.7 186.9,122.4 188.0,122.2 189.1,122.4 190.2,122.7 191.2,122.7 192.3,122.5 193.3,122.3 194.4,122.0 195.4,121.8 196.4,121.9 197.3,122.1 198.2,122.3 199.1,122.2 200.4,122.1 201.5,122.0 202.5,121.8 203.4,121.7 204.3,121.6 205.2,121.5 206.2,121.4 207.3,121.4 208.6,121.3 210.0,120.6 210.8,120.3 211.6,120.5 212.4,120.7 213.2,120.9 214.1,120.7 215.0,120.5 215.9,120.3 216.8,120.1 217.8,119.8 218.7,119.8 219.7,119.8 220.8,119.8 221.8,119.6 222.9,119.4 224.0,119.4 225.2,119.4 226.3,119.4 227.5,119.4 228.7,119.2 230.0,119.1 230.8,118.9 231.7,118.7 232.7,118.5 233.7,118.4 234.7,118.5 235.8,118.6 236.9,118.5 238.0,118.4 239.1,118.5 240.3,118.6 241.4,118.7 242.6,118.7 243.8,118.7 245.0,118.5 246.2,118.4 247.3,118.2 248.5,118.0 249.6,117.8 250.7,117.6 251.8,117.8 252.9,118.0 253.9,117.9 254.9,117.7 255.9,117.5 256.8,117.8 257.6,118.0 258.4,118.0 259.2,117.8 259.9,117.5 260.5,117.3 261.0,117.3" fill="none" stroke="#f25a55" stroke-width="1.2" stroke-linejoin="round" stroke-linecap="round"/>
<polyline points="158.2,142.8 158.1,142.1 158.0,141.2 157.9,140.0 157.8,138.8 158.0,137.7 158.5,136.8 159.1,136.3 159.7,135.8 160.5,135.4 161.4,135.2 162.5,135.1 163.7,134.8 165.0,134.1 166.4,133.6 167.2,133.3 168.0,133.0 168.9,132.8 169.9,132.7 170.9,132.5 171.9,132.2 172.9,131.9 174.0,131.5 175.1,131.1 176.2,130.8 177.3,130.6 178.4,130.4 179.5,130.4 180.6,130.3 181.7,129.8 182.7,129.3 183.7,128.9 184.7,128.7 185.8,128.6 186.8,128.3 187.8,128.0 188.8,127.9 189.9,127.8 190.9,127.7 191.9,127.5 192.9,127.3 194.0,127.4 195.0,127.6 196.0,127.6 197.0,127.2 198.1,126.8 199.1,126.9 200.1,127.0 201.1,126.9 202.1,126.4 203.1,126.0 204.0,126.1 205.0,126.3 206.0,126.4 207.0,126.2 208.0,125.9 209.0,125.8 210.0,125.8 211.0,125.8 212.1,125.7 213.2,125.6 214.3,125.4 215.5,125.1 216.4,125.0 217.4,124.9 218.3,124.9 219.3,125.0 220.3,125.1 221.3,125.1 222.3,124.8 223.3,124.6 224.3,124.5 225.4,124.4 226.4,124.6 227.5,124.8 228.6,125.0 229.7,124.9 230.7,124.8 231.8,124.5 232.9,124.3 234.0,124.3 235.1,124.3 236.2,124.4 237.3,124.5 238.3,124.5 239.3,124.1 240.4,123.8 241.5,123.5 242.6,123.3 243.7,123.2 244.9,123.2 246.1,123.2 247.2,122.9 248.4,122.7 249.6,122.6 250.7,122.6 251.8,122.3 253.0,122.0 254.0,122.1 255.1,122.3 256.1,122.3 257.0,122.2 257.9,122.1 258.8,121.9 259.5,121.7 260.2,121.5 260.9,121.3 261.4,121.3" fill="none" stroke="#4a7dd2" stroke-width="1.2" stroke-linejoin="round" stroke-linecap="round"/>
<line x1="174" y1="20.7" x2="174" y2="79" stroke="#8797b5" stroke-width="1.3"/>
<line x1="173.5" y1="79" x2="273.5" y2="79" stroke="#8797b5" stroke-width="1.3"/>
<line x1="172" y1="74.0" x2="174" y2="74.0" stroke="#7f8ea3" stroke-width="0.8"/>
<text x="171" y="75.3" font-size="3.4" fill="#5a6578" font-weight="normal" text-anchor="end">0.5</text>
<line x1="172" y1="65.28333333333333" x2="174" y2="65.28333333333333" stroke="#7f8ea3" stroke-width="0.8"/>
<text x="171" y="66.58333333333333" font-size="3.4" fill="#5a6578" font-weight="normal" text-anchor="end">0.5</text>
<line x1="172" y1="56.56666666666666" x2="174" y2="56.56666666666666" stroke="#7f8ea3" stroke-width="0.8"/>
<text x="171" y="57.86666666666666" font-size="3.4" fill="#5a6578" font-weight="normal" text-anchor="end">0.5</text>
<line x1="172" y1="47.85000000000001" x2="174" y2="47.85000000000001" stroke="#7f8ea3" stroke-width="0.8"/>
<text x="171" y="49.150000000000006" font-size="3.4" fill="#5a6578" font-weight="normal" text-anchor="end">0.5</text>
<line x1="172" y1="39.13333333333333" x2="174" y2="39.13333333333333" stroke="#7f8ea3" stroke-width="0.8"/>
<text x="171" y="40.43333333333333" font-size="3.4" fill="#5a6578" font-weight="normal" text-anchor="end">0.5</text>
<line x1="172" y1="30.416666666666664" x2="174" y2="30.416666666666664" stroke="#7f8ea3" stroke-width="0.8"/>
<text x="171" y="31.716666666666665" font-size="3.4" fill="#5a6578" font-weight="normal" text-anchor="end">0.5</text>
<line x1="172" y1="21.70000000000001" x2="174" y2="21.70000000000001" stroke="#7f8ea3" stroke-width="0.8"/>
<text x="171" y="23.00000000000001" font-size="3.4" fill="#5a6578" font-weight="normal" text-anchor="end">0.5</text>
<line x1="182.0" y1="79" x2="182.0" y2="80.5" stroke="#7f8ea3" stroke-width="0.8"/>
<text x="182.0" y="85" font-size="3.2" fill="#5a6578" font-weight="normal" text-anchor="middle">0.0004</text>
<line x1="199.5" y1="79" x2="199.5" y2="80.5" stroke="#7f8ea3" stroke-width="0.8"/>
<text x="199.5" y="85" font-size="3.2" fill="#5a6578" font-weight="normal" text-anchor="middle">0.0004</text>
<line x1="217.0" y1="79" x2="217.0" y2="80.5" stroke="#7f8ea3" stroke-width="0.8"/>
<text x="217.0" y="85" font-size="3.2" fill="#5a6578" font-weight="normal" text-anchor="middle">0.0004</text>
<line x1="234.5" y1="79" x2="234.5" y2="80.5" stroke="#7f8ea3" stroke-width="0.8"/>
<text x="234.5" y="85" font-size="3.2" fill="#5a6578" font-weight="normal" text-anchor="middle">0.0004</text>
<line x1="252.0" y1="79" x2="252.0" y2="80.5" stroke="#7f8ea3" stroke-width="0.8"/>
<text x="252.0" y="85" font-size="3.2" fill="#5a6578" font-weight="normal" text-anchor="middle">0.0004</text>
<line x1="269.5" y1="79" x2="269.5" y2="80.5" stroke="#7f8ea3" stroke-width="0.8"/>
<text x="269.5" y="85" font-size="3.2" fill="#5a6578" font-weight="normal" text-anchor="middle">0.0004</text>
<line x1="249" y1="20.7" x2="249" y2="79" stroke="#b3d3ee" stroke-width="1.15"/>
<polyline points="181.0,75.0 181.2,74.3 181.5,73.4 181.9,72.3 182.4,71.1 183.0,70.0 183.5,69.2 184.2,68.4 184.8,67.5 185.6,66.6 186.3,65.7 187.2,64.9 188.0,64.0 188.7,63.3 189.4,62.7 190.1,62.0 190.9,61.3 191.7,60.7 192.5,60.0 193.3,59.4 194.2,58.7 195.0,58.0 195.8,57.4 196.5,56.8 197.3,56.1 198.0,55.5 198.8,54.9 199.6,54.3 200.4,53.6 201.3,53.0 202.1,52.3 203.0,51.7 203.8,51.2 204.5,50.6 205.3,50.0 206.1,49.5 207.0,48.9 207.8,48.3 208.6,47.8 209.5,47.2 210.4,46.6 211.2,46.1 212.1,45.5 213.0,45.0 213.9,44.5 214.8,43.9 215.7,43.4 216.7,42.9 217.6,42.3 218.6,41.8 219.6,41.3 220.5,40.8 221.5,40.3 222.5,39.8 223.4,39.3 224.4,38.8 225.4,38.3 226.3,37.9 227.3,37.4 228.2,37.0 229.1,36.6 230.1,36.2 231.1,35.8 232.0,35.4 233.0,35.0 234.0,34.6 235.0,34.2 236.0,33.8 237.0,33.5 238.0,33.1 239.0,32.8 240.0,32.4 241.1,32.1 242.1,31.8 243.2,31.4 244.2,31.1 245.2,30.8 246.2,30.5 247.2,30.2 248.1,30.0 249.0,29.7 250.2,29.4 251.3,29.0 252.3,28.7 253.2,28.5 254.2,28.2 255.1,28.0 256.0,27.7 257.0,27.5 258.0,27.2 259.1,26.9 260.3,26.6 261.5,26.4 262.8,26.1 264.0,25.8 265.1,25.6 266.1,25.3 267.0,25.1 267.6,25.0" fill="none" stroke="#858585" stroke-width="1.0" stroke-linejoin="round" stroke-linecap="round"/>
<polyline points="181.0,75.0 181.2,74.3 181.5,73.4 181.9,72.3 182.4,71.1 183.0,70.0 183.5,69.2 184.2,68.4 184.8,67.5 185.6,66.6 186.3,65.7 187.2,64.9 188.0,64.0 188.7,63.3 189.4,62.7 190.1,62.0 190.9,61.3 191.7,60.7 192.5,60.0 193.3,59.4 194.2,58.7 195.0,58.0 195.8,57.4 196.5,56.8 197.3,56.1 198.0,55.5 198.8,54.9 199.6,54.3 200.4,53.6 201.3,53.0 202.1,52.3 203.0,51.7 203.8,51.2 204.5,50.6 205.3,50.0 206.1,49.5 207.0,48.9 207.8,48.3 208.6,47.8 209.5,47.2 210.4,46.6 211.2,46.1 212.1,45.5 213.0,45.0 213.9,44.5 214.8,43.9 215.7,43.4 216.7,42.9 217.6,42.3 218.6,41.8 219.6,41.3 220.5,40.8 221.5,40.3 222.5,39.8 223.4,39.3 224.4,38.8 225.4,38.3 226.3,37.9 227.3,37.4 228.2,37.0 229.1,36.6 230.1,36.2 231.1,35.8 232.0,35.4 233.0,35.0 234.0,34.6 235.0,34.2 236.0,33.8 237.0,33.5 238.0,33.1 239.0,32.8 240.0,32.4 241.1,32.1 242.1,31.8 243.2,31.4 244.2,31.1 245.2,30.8 246.2,30.5 247.2,30.2 248.1,30.0 249.0,29.7 250.2,29.4 251.3,29.0 252.3,28.7 253.2,28.5 254.2,28.2 255.1,28.0 256.0,27.7 257.0,27.5 258.0,27.2 259.1,26.9 260.3,26.6 261.5,26.4 262.8,26.1 264.0,25.8 265.1,25.6 266.1,25.3 267.0,25.1 267.6,25.0" fill="none" stroke="#2a2a2a" stroke-width="1.1" stroke-dasharray="0.9 2.6"/>
<circle cx="181" cy="75" r="0.95" fill="#57c45e" fill-opacity="0.8"/>
<circle cx="181.5" cy="73" r="0.95" fill="#f7a23d" fill-opacity="0.8"/>
<circle cx="182" cy="71" r="0.95" fill="#f25a55" fill-opacity="0.8"/>
<circle cx="183.5" cy="68" r="0.95" fill="#cc80d8" fill-opacity="0.8"/>
<circle cx="203" cy="51.7" r="0.95" fill="#e9d23a" fill-opacity="0.8"/>
<circle cx="224.4" cy="38.8" r="0.95" fill="#f25a55" fill-opacity="0.8"/>
<circle cx="267.6" cy="25" r="0.95" fill="#4a7dd2" fill-opacity="0.8"/>
<text transform="translate(204.38,66.50) scale(1.1009,1)" font-size="14.00" font-weight="normal" fill="#ff0c0c" stroke="#ff0c0c" stroke-width="0.2">39.3 µM</text>
<line x1="43.5" y1="175" x2="43.5" y2="309.8" stroke="#6e7f96" stroke-width="1.3"/>
<line x1="42.9" y1="309.8" x2="279.5" y2="309.8" stroke="#6e7f96" stroke-width="1.3"/>
<line x1="40.3" y1="178" x2="43.5" y2="178" stroke="#6e7f96" stroke-width="1.2"/>
<text x="38.5" y="180.1" font-size="6" fill="#36425c" font-weight="normal" text-anchor="end">4</text>
<line x1="40.3" y1="192.2" x2="43.5" y2="192.2" stroke="#6e7f96" stroke-width="1.2"/>
<text x="38.5" y="194.29999999999998" font-size="6" fill="#36425c" font-weight="normal" text-anchor="end">3</text>
<line x1="40.3" y1="206.4" x2="43.5" y2="206.4" stroke="#6e7f96" stroke-width="1.2"/>
<text x="38.5" y="208.5" font-size="6" fill="#36425c" font-weight="normal" text-anchor="end">2</text>
<line x1="40.3" y1="220.6" x2="43.5" y2="220.6" stroke="#6e7f96" stroke-width="1.2"/>
<text x="38.5" y="222.7" font-size="6" fill="#36425c" font-weight="normal" text-anchor="end">1</text>
<line x1="40.3" y1="234.8" x2="43.5" y2="234.8" stroke="#6e7f96" stroke-width="1.2"/>
<text x="38.5" y="236.9" font-size="6" fill="#36425c" font-weight="normal" text-anchor="end">0</text>
<line x1="40.3" y1="249" x2="43.5" y2="249" stroke="#6e7f96" stroke-width="1.2"/>
<text x="38.5" y="251.1" font-size="6" fill="#36425c" font-weight="normal" text-anchor="end">-1</text>
<line x1="40.3" y1="263.2" x2="43.5" y2="263.2" stroke="#6e7f96" stroke-width="1.2"/>
<text x="38.5" y="265.3" font-size="6" fill="#36425c" font-weight="normal" text-anchor="end">-2</text>
<line x1="40.3" y1="277.4" x2="43.5" y2="277.4" stroke="#6e7f96" stroke-width="1.2"/>
<text x="38.5" y="279.5" font-size="6" fill="#36425c" font-weight="normal" text-anchor="end">-3</text>
<line x1="40.3" y1="291.6" x2="43.5" y2="291.6" stroke="#6e7f96" stroke-width="1.2"/>
<text x="38.5" y="293.70000000000005" font-size="6" fill="#36425c" font-weight="normal" text-anchor="end">-4</text>
<line x1="40.3" y1="305.8" x2="43.5" y2="305.8" stroke="#6e7f96" stroke-width="1.2"/>
<text x="38.5" y="307.90000000000003" font-size="6" fill="#36425c" font-weight="normal" text-anchor="end">-5</text>
<line x1="41.7" y1="185.1" x2="43.5" y2="185.1" stroke="#6e7f96" stroke-width="1.0"/>
<line x1="41.7" y1="199.3" x2="43.5" y2="199.3" stroke="#6e7f96" stroke-width="1.0"/>
<line x1="41.7" y1="213.5" x2="43.5" y2="213.5" stroke="#6e7f96" stroke-width="1.0"/>
<line x1="41.7" y1="227.7" x2="43.5" y2="227.7" stroke="#6e7f96" stroke-width="1.0"/>
<line x1="41.7" y1="241.9" x2="43.5" y2="241.9" stroke="#6e7f96" stroke-width="1.0"/>
<line x1="41.7" y1="256.1" x2="43.5" y2="256.1" stroke="#6e7f96" stroke-width="1.0"/>
<line x1="41.7" y1="270.3" x2="43.5" y2="270.3" stroke="#6e7f96" stroke-width="1.0"/>
<line x1="41.7" y1="284.5" x2="43.5" y2="284.5" stroke="#6e7f96" stroke-width="1.0"/>
<line x1="41.7" y1="298.7" x2="43.5" y2="298.7" stroke="#6e7f96" stroke-width="1.0"/>
<line x1="51.6" y1="309.8" x2="51.6" y2="313.6" stroke="#6e7f96" stroke-width="1.2"/>
<line x1="92" y1="309.8" x2="92" y2="313.6" stroke="#6e7f96" stroke-width="1.2"/>
<line x1="133" y1="309.8" x2="133" y2="313.6" stroke="#6e7f96" stroke-width="1.2"/>
<line x1="173.5" y1="309.8" x2="173.5" y2="313.6" stroke="#6e7f96" stroke-width="1.2"/>
<line x1="213.8" y1="309.8" x2="213.8" y2="313.6" stroke="#6e7f96" stroke-width="1.2"/>
<line x1="254" y1="309.8" x2="254" y2="313.6" stroke="#6e7f96" stroke-width="1.2"/>
<text x="92" y="321.3" font-size="6" fill="#36425c" font-weight="normal" text-anchor="middle">0</text>
<text x="173.5" y="321.3" font-size="6" fill="#36425c" font-weight="normal" text-anchor="middle">100</text>
<text x="254" y="321.3" font-size="6" fill="#36425c" font-weight="normal" text-anchor="middle">200</text>
<path d="M120.81,173.50L124.11,173.50L124.11,187.50L120.81,187.50L120.81,178.54Q119.41,179.38 117.60,179.94L117.60,177.14Q120.40,176.02 120.53,173.50Z" fill="#000" stroke="#000" stroke-width="0.5" stroke-linejoin="round"/>
<text transform="translate(126.68,187.50) scale(1.0204,1)" font-size="20.00" font-weight="bold" fill="#000" stroke="#000" stroke-width="0.5">c</text>
<text transform="translate(112.01,287.60) scale(0.9986,1)" font-size="16.20" font-weight="bold" fill="#000" stroke="#000" stroke-width="0.5">S2</text>
<polyline points="61.7,235.4 61.7,234.8 61.7,234.1 61.7,233.1 61.7,232.1 61.7,230.9 61.7,229.7 61.8,228.4 61.8,227.0 61.8,225.6 61.8,224.1 61.8,222.7 61.8,221.2 61.8,219.8 61.8,218.5 61.8,217.2 61.9,216.0 61.9,214.9 61.9,213.9 61.9,213.1 61.9,212.4 62.0,211.9 62.0,211.6 62.0,211.5 62.0,211.6 62.0,211.9 62.1,212.4 62.1,213.0 62.1,213.8 62.2,214.7 62.2,215.7 62.2,216.8 62.3,218.0 62.3,219.3 62.3,220.6 62.4,221.9 62.4,223.3 62.4,224.7 62.5,226.1 62.5,227.5 62.6,228.8 62.6,230.1 62.6,231.3 62.7,232.4 62.7,233.5 62.7,234.4 62.8,235.3 62.8,235.9 63.0,238.3 63.1,239.6 63.3,240.3 63.4,240.6 63.6,240.9 64.5,239.5 64.9,238.8 65.3,237.9 66.0,237.1 66.7,236.5 67.5,235.9 68.5,235.6 70.0,235.5 70.8,235.4 71.6,235.3 72.5,235.2 73.5,235.2 74.5,235.4 75.6,235.6 76.7,235.3 77.8,234.9 78.9,235.1 80.0,235.1 81.0,235.0 82.1,235.0 83.3,235.0 84.5,235.2 85.7,235.5 86.9,235.2 88.0,234.9 89.0,235.0 89.9,235.1 90.7,235.0 91.3,235.0" fill="none" stroke="#57c45e" stroke-width="1.0" stroke-linejoin="round" stroke-linecap="round"/>
<polyline points="61.7,235.0 61.7,234.4 61.7,233.7 61.7,232.8 61.7,231.7 61.7,230.6 61.7,229.4 61.8,228.1 61.8,226.7 61.8,225.3 61.8,223.9 61.8,222.4 61.8,221.0 61.8,219.7 61.8,218.3 61.8,217.1 61.9,215.9 61.9,214.8 61.9,213.9 61.9,213.0 61.9,212.4 62.0,211.9 62.0,211.6 62.0,211.5 62.0,211.6 62.0,211.9 62.1,212.4 62.1,213.0 62.1,213.8 62.2,214.7 62.2,215.7 62.2,216.8 62.3,218.0 62.3,219.3 62.3,220.6 62.4,221.9 62.4,223.3 62.4,224.7 62.5,226.1 62.5,227.4 62.6,228.8 62.6,230.1 62.6,231.3 62.7,232.4 62.7,233.5 62.7,234.4 62.8,235.2 62.8,235.9 63.0,238.3 63.1,239.6 63.3,240.3 63.4,240.6 63.6,240.8 64.5,239.2 64.9,238.4 65.3,237.4 66.0,236.6 66.7,236.3 67.5,236.1 68.5,235.7 70.0,235.3 70.8,235.2 71.6,235.2 72.5,235.2 73.5,235.2 74.5,235.3 75.6,235.4 76.7,235.5 77.8,235.6 78.9,235.4 80.0,235.2 81.0,235.4 82.1,235.5 83.3,235.5 84.5,235.3 85.7,234.9 86.9,234.8 88.0,234.7 89.0,234.7 89.9,234.8 90.7,235.0 91.3,235.2" fill="none" stroke="#e9d23a" stroke-width="1.0" stroke-linejoin="round" stroke-linecap="round"/>
<polyline points="61.7,234.8 61.7,234.2 61.7,233.4 61.7,232.5 61.7,231.5 61.7,230.3 61.7,229.1 61.8,227.8 61.8,226.4 61.8,225.0 61.8,223.6 61.8,222.1 61.8,220.7 61.8,219.3 61.8,218.0 61.8,216.7 61.9,215.5 61.9,214.5 61.9,213.5 61.9,212.7 61.9,212.0 62.0,211.5 62.0,211.2 62.0,211.1 62.0,211.2 62.0,211.5 62.1,212.0 62.1,212.6 62.1,213.4 62.2,214.3 62.2,215.3 62.2,216.4 62.3,217.6 62.3,218.9 62.3,220.2 62.4,221.6 62.4,223.0 62.4,224.4 62.5,225.8 62.5,227.1 62.6,228.5 62.6,229.8 62.6,231.0 62.7,232.1 62.7,233.2 62.7,234.1 62.8,235.0 62.8,235.7 63.0,238.0 63.1,239.4 63.3,240.1 63.4,240.4 63.6,240.7 64.5,239.3 64.9,238.5 65.3,237.6 66.0,236.8 66.7,236.5 67.5,236.2 68.5,235.7 70.0,235.2 70.8,235.1 71.6,235.1 72.5,235.1 73.5,235.1 74.5,235.2 75.6,235.4 76.7,235.2 77.8,235.0 78.9,235.2 80.0,235.4 81.0,235.3 82.1,235.2 83.3,234.9 84.5,234.9 85.7,235.1 86.9,235.1 88.0,235.0 89.0,235.0 89.9,235.0 90.7,235.2 91.3,235.3" fill="none" stroke="#f7a23d" stroke-width="1.0" stroke-linejoin="round" stroke-linecap="round"/>
<polyline points="61.7,234.5 61.7,233.9 61.7,233.1 61.7,232.2 61.7,231.2 61.7,230.1 61.7,228.8 61.8,227.5 61.8,226.2 61.8,224.8 61.8,223.4 61.8,222.0 61.8,220.6 61.8,219.2 61.8,217.9 61.8,216.7 61.9,215.5 61.9,214.4 61.9,213.5 61.9,212.7 61.9,212.0 62.0,211.5 62.0,211.3 62.0,211.2 62.0,211.3 62.0,211.6 62.1,212.1 62.1,212.7 62.1,213.5 62.2,214.4 62.2,215.4 62.2,216.5 62.3,217.7 62.3,219.0 62.3,220.3 62.4,221.7 62.4,223.1 62.4,224.5 62.5,225.8 62.5,227.2 62.6,228.5 62.6,229.8 62.6,231.1 62.7,232.2 62.7,233.3 62.7,234.2 62.8,235.0 62.8,235.7 63.0,238.1 63.1,239.5 63.3,240.2 63.4,240.5 63.6,240.8 64.5,239.3 64.9,238.5 65.3,237.5 66.0,236.8 66.7,236.5 67.5,236.3 68.5,235.9 70.0,235.5 70.8,235.5 71.6,235.5 72.5,235.3 73.5,235.0 74.5,235.1 75.6,235.3 76.7,235.4 77.8,235.5 78.9,235.3 80.0,235.3 81.0,235.4 82.1,235.5 83.3,235.4 84.5,235.3 85.7,235.0 86.9,234.8 88.0,234.7 89.0,235.0 89.9,235.2 90.7,235.0 91.3,234.8" fill="none" stroke="#f25a55" stroke-width="1.0" stroke-linejoin="round" stroke-linecap="round"/>
<polyline points="93.7,236.0 93.7,235.5 93.7,234.9 93.7,234.3 93.7,233.5 93.7,232.8 93.7,232.0 93.7,231.1 93.7,230.2 93.7,229.2 93.7,228.2 93.7,227.2 93.7,226.1 93.7,225.0 93.7,223.8 93.7,222.7 93.7,221.5 93.7,220.3 93.7,219.0 93.7,217.8 93.7,216.5 93.7,215.3 93.7,214.0 93.7,212.7 93.7,211.4 93.7,210.1 93.7,208.8 93.7,207.6 93.7,206.3 93.7,205.0 93.7,203.8 93.7,202.5 93.7,201.3 93.7,200.1 93.7,199.0 93.8,197.8 93.8,196.7 93.8,195.6 93.8,194.6 93.8,193.6 93.8,192.6 93.8,191.7 93.8,190.8 93.8,190.0 93.8,189.2 93.8,188.5 93.8,187.8 93.8,187.2 93.8,186.6 93.8,186.2 93.8,185.8 93.8,184.6 93.8,184.3 93.8,184.7 93.8,185.6 93.8,186.9 93.8,188.6 93.9,190.4 93.9,192.4 93.9,194.2 94.0,195.9 94.0,197.2 94.1,198.2 94.5,200.0 95.1,200.8 96.0,201.6 96.7,202.1 97.4,202.6 98.3,203.1 99.4,203.5 100.8,203.8 101.5,204.0 102.2,204.4 103.0,204.8 103.9,205.1 104.7,205.5 105.7,205.9 106.6,206.3 107.7,206.6 108.7,206.9 109.9,207.0 111.1,207.2 112.3,207.6 113.1,208.0 114.0,208.3 114.9,208.5 115.8,208.7 116.8,209.0 117.8,209.2 118.8,209.4 119.9,209.8 120.9,210.2 122.0,210.4 123.0,210.6 124.1,210.7 125.2,211.0 126.2,211.2 127.3,211.6 128.3,212.0 129.3,212.2 130.3,212.3 131.3,212.5 132.4,212.6 133.5,212.8 134.7,213.0 135.8,213.2 137.0,213.5 138.2,213.8 139.4,214.0 140.5,214.1 141.6,214.3 142.7,214.7 143.8,215.0 144.8,215.3 145.7,215.5 146.5,215.6 147.3,215.7 147.9,215.8 148.5,215.9" fill="none" stroke="#f25a55" stroke-width="1.2" stroke-linejoin="round" stroke-linecap="round"/>
<polyline points="94.1,202.0 94.4,202.7 94.7,203.6 95.1,204.6 95.5,205.8 96.0,206.9 96.5,207.9 97.0,208.7 97.7,209.6 98.4,210.1 99.3,210.6 100.8,211.2 101.5,211.4 102.2,211.7 103.0,212.0 103.8,212.2 104.7,212.4 105.6,212.6 106.6,212.8 107.6,213.2 108.7,213.7 109.9,214.0 111.1,214.1 112.3,214.3 113.1,214.5 114.0,214.7 114.9,214.8 115.8,214.9 116.8,215.1 117.8,215.4 118.8,215.7 119.9,215.9 120.9,216.0 122.0,216.1 123.0,216.4 124.1,216.6 125.2,216.9 126.2,217.2 127.3,217.5 128.3,217.7 129.3,218.0 130.3,218.2 131.3,218.4 132.4,218.5 133.5,218.5 134.7,218.7 135.8,218.9 137.0,219.2 138.2,219.6 139.4,220.0 140.5,220.3 141.6,220.7 142.7,221.1 143.8,221.4 144.8,221.7 145.7,221.9 146.5,222.1 147.3,222.3 147.9,222.5 148.5,222.7" fill="none" stroke="#e9d23a" stroke-width="1.2" stroke-linejoin="round" stroke-linecap="round"/>
<polyline points="94.1,206.7 94.3,207.4 94.5,208.2 94.8,209.3 95.1,210.4 95.5,211.6 95.9,212.7 96.2,213.8 96.6,214.8 97.0,215.5 97.7,216.4 98.4,216.8 99.3,217.0 100.8,217.4 101.5,217.7 102.3,217.8 103.2,217.8 104.1,217.9 105.1,218.3 106.1,218.8 107.2,219.0 108.4,219.1 109.6,219.3 110.9,219.6 112.3,219.9 113.1,220.0 114.0,220.1 114.9,220.3 115.8,220.5 116.8,220.6 117.8,220.6 118.8,220.5 119.9,220.6 120.9,220.8 122.0,221.0 123.0,221.2 124.1,221.5 125.2,221.6 126.2,221.7 127.3,221.8 128.3,222.0 129.3,222.2 130.3,222.3 131.3,222.3 132.4,222.6 133.5,223.0 134.7,223.2 135.8,223.2 137.0,223.3 138.2,223.8 139.4,224.2 140.5,224.4 141.6,224.5 142.7,224.7 143.8,224.8 144.8,225.1 145.7,225.5 146.5,225.9 147.3,225.9 147.9,226.0 148.5,226.0" fill="none" stroke="#cc80d8" stroke-width="1.2" stroke-linejoin="round" stroke-linecap="round"/>
<polyline points="94.1,213.3 94.2,213.9 94.3,214.8 94.4,215.9 94.6,217.0 94.9,218.2 95.3,219.4 96.0,220.5 97.0,221.3 97.7,221.6 98.4,221.9 99.2,222.1 100.1,222.3 101.0,222.5 102.0,222.7 103.1,222.8 104.2,222.8 105.3,223.0 106.5,223.1 107.6,223.0 108.8,222.8 110.0,223.0 111.1,223.4 112.3,223.5 113.2,223.5 114.2,223.6 115.1,223.8 116.1,224.1 117.1,224.2 118.1,224.2 119.1,224.3 120.1,224.4 121.2,224.6 122.2,224.7 123.2,224.8 124.3,224.9 125.3,225.0 126.3,225.2 127.4,225.4 128.4,225.6 129.4,225.8 130.3,225.9 131.3,226.1 132.4,226.2 133.5,226.2 134.7,226.3 135.8,226.7 137.0,227.0 138.2,227.3 139.4,227.5 140.5,227.6 141.6,227.7 142.7,227.8 143.8,228.0 144.8,228.2 145.7,228.5 146.5,228.8 147.3,229.0 147.9,229.2 148.5,229.3" fill="none" stroke="#c09a3c" stroke-width="1.2" stroke-linejoin="round" stroke-linecap="round"/>
<polyline points="94.1,218.3 94.3,219.0 94.4,220.0 94.6,221.2 95.0,222.3 95.8,223.3 97.0,224.1 97.7,224.4 98.4,224.8 99.2,225.1 100.1,225.3 101.0,225.5 102.0,225.7 103.1,225.8 104.2,225.9 105.3,225.9 106.5,225.8 107.6,226.0 108.8,226.1 110.0,226.2 111.1,226.2 112.3,226.3 113.2,226.5 114.2,226.7 115.1,226.7 116.1,226.7 117.1,226.8 118.1,227.1 119.1,227.4 120.1,227.5 121.2,227.6 122.2,227.6 123.2,227.7 124.3,227.7 125.3,227.9 126.3,228.0 127.4,228.3 128.4,228.5 129.4,228.7 130.3,228.7 131.3,228.8 132.4,229.0 133.5,229.4 134.7,229.6 135.8,229.8 137.0,230.0 138.2,230.1 139.4,230.2 140.5,230.1 141.6,230.1 142.7,230.3 143.8,230.4 144.8,230.6 145.7,230.8 146.5,231.0 147.3,231.2 147.9,231.3 148.5,231.4" fill="none" stroke="#f27fb8" stroke-width="1.2" stroke-linejoin="round" stroke-linecap="round"/>
<polyline points="94.1,222.1 94.3,222.8 94.5,223.8 94.8,224.9 95.6,226.0 97.0,226.8 97.7,227.1 98.4,227.3 99.2,227.5 100.1,227.5 101.0,227.5 102.0,227.6 103.1,227.9 104.2,228.1 105.3,228.1 106.5,228.1 107.6,228.3 108.8,228.5 110.0,228.5 111.1,228.5 112.3,228.6 113.2,228.8 114.2,228.9 115.1,229.0 116.1,229.1 117.1,229.2 118.1,229.3 119.1,229.5 120.1,229.7 121.2,229.9 122.2,230.0 123.2,230.1 124.3,230.2 125.3,230.4 126.3,230.7 127.4,230.8 128.4,230.8 129.4,230.8 130.3,230.8 131.3,230.8 132.4,231.0 133.5,231.3 134.7,231.5 135.8,231.6 137.0,231.7 138.2,231.8 139.4,231.9 140.5,232.2 141.6,232.4 142.7,232.4 143.8,232.4 144.8,232.6 145.7,232.8 146.5,233.0 147.3,233.2 147.9,233.3 148.5,233.4" fill="none" stroke="#57c45e" stroke-width="1.2" stroke-linejoin="round" stroke-linecap="round"/>
<polyline points="94.1,225.6 94.3,226.3 94.6,227.4 95.3,228.6 97.0,229.5 97.7,229.6 98.4,229.8 99.2,229.9 100.1,230.1 101.0,230.3 102.0,230.4 103.1,230.6 104.2,230.8 105.3,230.9 106.5,231.0 107.6,231.0 108.8,231.0 110.0,231.1 111.1,231.3 112.3,231.4 113.2,231.4 114.2,231.5 115.1,231.7 116.1,232.0 117.1,232.1 118.1,232.1 119.1,232.0 120.1,232.3 121.2,232.5 122.2,232.6 123.2,232.4 124.3,232.3 125.3,232.4 126.3,232.5 127.4,232.7 128.4,232.9 129.4,233.0 130.3,233.1 131.3,233.2 132.4,233.4 133.5,233.7 134.7,233.9 135.8,234.0 137.0,234.2 138.2,234.2 139.4,234.2 140.5,234.3 141.6,234.3 142.7,234.6 143.8,234.8 144.8,235.0 145.7,235.0 146.5,235.0 147.3,235.1 147.9,235.1 148.5,235.2" fill="none" stroke="#f7a23d" stroke-width="1.2" stroke-linejoin="round" stroke-linecap="round"/>
<polyline points="94.1,228.7 94.3,229.3 94.6,230.2 95.3,231.3 97.0,232.1 97.7,232.1 98.4,232.0 99.2,232.0 100.1,232.2 101.0,232.4 102.0,232.6 103.1,232.9 104.2,233.2 105.3,233.2 106.5,233.2 107.6,233.1 108.8,233.0 110.0,233.1 111.1,233.3 112.3,233.5 113.2,233.7 114.2,233.9 115.1,233.9 116.1,233.8 117.1,233.8 118.1,233.8 119.1,233.7 120.1,234.0 121.2,234.4 122.2,234.4 123.2,234.3 124.3,234.2 125.3,234.4 126.3,234.6 127.4,234.8 128.4,234.8 129.4,234.9 130.3,234.9 131.3,235.0 132.4,235.2 133.5,235.5 134.7,235.5 135.8,235.4 137.0,235.4 138.2,235.7 139.4,235.9 140.5,235.9 141.6,235.8 142.7,236.2 143.8,236.6 144.8,236.6 145.7,236.5 146.5,236.4 147.3,236.6 147.9,236.7 148.5,236.8" fill="none" stroke="#f26b32" stroke-width="1.2" stroke-linejoin="round" stroke-linecap="round"/>
<polyline points="94.1,231.4 94.3,232.0 94.6,232.8 95.3,233.6 97.0,234.2 97.7,234.3 98.4,234.4 99.2,234.6 100.1,234.9 101.0,235.1 102.0,235.3 103.1,235.3 104.2,235.3 105.3,235.4 106.5,235.5 107.6,235.6 108.8,235.6 110.0,235.6 111.1,235.6 112.3,235.8 113.2,236.0 114.2,236.1 115.1,236.1 116.1,236.2 117.1,236.3 118.1,236.4 119.1,236.5 120.1,236.6 121.2,236.6 122.2,236.7 123.2,236.8 124.3,236.9 125.3,236.9 126.3,236.9 127.4,236.9 128.4,236.9 129.4,236.9 130.3,237.0 131.3,237.1 132.4,237.3 133.5,237.6 134.7,237.7 135.8,237.6 137.0,237.7 138.2,238.0 139.4,238.3 140.5,238.4 141.6,238.5 142.7,238.4 143.8,238.4 144.8,238.6 145.7,238.9 146.5,239.2 147.3,239.1 147.9,239.1 148.5,239.0" fill="none" stroke="#35ad6a" stroke-width="1.2" stroke-linejoin="round" stroke-linecap="round"/>
<path d="M150.9,213.2V242.3M155.0,213.2V242.3" stroke="#2c3a52" stroke-width="1.9" fill="none"/>
<line x1="150.9" y1="215.5" x2="155.0" y2="215.5" stroke="#2c3a52" stroke-width="1.8"/>
<line x1="150.9" y1="222.1" x2="155.0" y2="222.1" stroke="#2c3a52" stroke-width="1.8"/>
<line x1="150.9" y1="227.6" x2="155.0" y2="227.6" stroke="#2c3a52" stroke-width="1.8"/>
<line x1="150.9" y1="231.4" x2="155.0" y2="231.4" stroke="#2c3a52" stroke-width="1.8"/>
<line x1="150.9" y1="234.8" x2="155.0" y2="234.8" stroke="#2c3a52" stroke-width="1.8"/>
<line x1="150.9" y1="238.6" x2="155.0" y2="238.6" stroke="#2c3a52" stroke-width="1.8"/>
<line x1="150.9" y1="241.0" x2="155.0" y2="241.0" stroke="#2c3a52" stroke-width="1.8"/>
<polyline points="159.0,250.1 159.0,249.5 159.0,248.6 159.0,247.6 159.0,246.4 159.1,245.2 159.1,244.0 159.1,242.9 159.2,241.9 159.3,241.1 159.5,239.5 159.8,238.6 161.0,237.6 161.6,237.3 162.1,237.2 162.7,237.1 163.3,237.0 164.2,236.9 165.2,236.8 166.4,236.7 168.0,236.9 170.0,237.0 170.7,237.0 171.3,236.9 172.0,237.0 172.7,237.0 173.4,237.0 174.1,237.0 174.9,236.8 175.7,236.5 176.4,236.3 177.3,236.3 178.1,236.4 179.0,236.5 179.8,236.4 180.7,236.3 181.7,236.2 182.7,236.2 183.7,236.3 184.7,236.4 185.8,236.5 186.9,236.5 188.0,236.3 189.2,236.1 190.4,236.2 191.6,236.3 192.9,236.5 194.2,236.7 195.6,236.6 197.0,236.5 198.5,236.3 200.0,236.4 200.8,236.5 201.5,236.6 202.4,236.6 203.2,236.7 204.1,236.7 205.0,236.4 205.9,236.1 206.9,236.1 207.9,236.4 208.9,236.7 209.9,236.7 210.9,236.6 212.0,236.5 213.1,236.4 214.2,236.2 215.3,236.1 216.4,236.0 217.5,236.3 218.7,236.7 219.8,236.6 221.0,236.3 222.2,236.1 223.3,236.0 224.5,235.9 225.7,235.9 226.9,236.0 228.1,236.3 229.3,236.6 230.5,236.5 231.7,236.4 232.9,236.4 234.1,236.5 235.2,236.5 236.4,236.4 237.6,236.3 238.7,236.2 239.9,236.4 241.0,236.6 242.2,236.5 243.3,236.2 244.4,236.0 245.5,236.1 246.5,236.2 247.6,236.3 248.6,236.4 249.6,236.4 250.6,236.3 251.6,236.2 252.5,236.3 253.4,236.4 254.3,236.4 255.2,236.3 256.0,236.2 256.8,236.1 257.6,236.2 258.3,236.2 259.0,236.2 259.7,236.0 260.3,235.9 260.9,235.7 261.5,235.6 262.0,235.6" fill="none" stroke="#e9d23a" stroke-width="1.2" stroke-linejoin="round" stroke-linecap="round"/>
<polyline points="159.0,261.5 159.0,261.0 159.0,260.3 159.0,259.4 159.0,258.5 159.0,257.5 159.0,256.4 159.0,255.3 159.0,254.1 159.0,252.9 159.0,251.7 159.1,250.4 159.1,249.2 159.1,248.1 159.1,246.9 159.1,245.9 159.2,244.9 159.2,244.0 159.3,243.3 159.3,242.6 159.5,240.3 159.8,239.7 161.0,239.6 161.6,239.4 162.1,239.0 162.7,238.6 163.3,238.2 164.2,237.9 165.2,237.8 166.4,237.8 168.0,237.7 170.0,237.7 170.7,237.7 171.3,237.7 172.0,237.6 172.7,237.5 173.4,237.4 174.1,237.3 174.9,237.2 175.7,237.2 176.4,237.2 177.3,237.1 178.1,236.9 179.0,236.7 179.8,236.8 180.7,237.0 181.7,237.1 182.7,237.1 183.7,237.0 184.7,237.1 185.8,237.3 186.9,237.4 188.0,237.3 189.2,237.2 190.4,237.2 191.6,237.3 192.9,237.1 194.2,237.0 195.6,236.8 197.0,236.8 198.5,237.2 200.0,237.3 200.8,237.3 201.5,237.3 202.4,237.1 203.2,237.0 204.1,236.8 205.0,236.7 205.9,236.6 206.9,236.6 207.9,236.7 208.9,236.9 209.9,236.9 210.9,236.9 212.0,236.9 213.1,237.0 214.2,237.1 215.3,237.0 216.4,237.0 217.5,236.9 218.7,236.8 219.8,236.9 221.0,236.9 222.2,236.8 223.3,236.7 224.5,236.6 225.7,236.4 226.9,236.3 228.1,236.3 229.3,236.4 230.5,236.8 231.7,237.2 232.9,237.1 234.1,237.0 235.2,236.8 236.4,236.5 237.6,236.7 238.7,237.0 239.9,236.9 241.0,236.7 242.2,236.6 243.3,236.4 244.4,236.3 245.5,236.7 246.5,237.0 247.6,236.8 248.6,236.7 249.6,236.8 250.6,236.9 251.6,237.0 252.5,236.9 253.4,236.8 254.3,236.7 255.2,236.5 256.0,236.3 256.8,236.2 257.6,236.4 258.3,236.5 259.0,236.6 259.7,236.7 260.3,236.7 260.9,236.8 261.5,236.8 262.0,236.8" fill="none" stroke="#f7a23d" stroke-width="1.2" stroke-linejoin="round" stroke-linecap="round"/>
<polyline points="159.0,279.9 159.0,279.4 159.0,278.7 159.0,278.0 159.0,277.2 159.0,276.4 159.0,275.4 159.0,274.5 159.0,273.4 159.0,272.4 159.0,271.2 159.0,270.1 159.0,268.9 159.0,267.7 159.0,266.5 159.1,265.3 159.1,264.1 159.1,262.8 159.1,261.6 159.1,260.4 159.1,259.2 159.1,258.1 159.1,257.0 159.1,255.9 159.1,254.9 159.1,253.9 159.1,252.9 159.2,252.1 159.2,251.3 159.2,250.6 159.2,249.9 159.2,247.5 159.1,246.0 159.0,245.2 159.0,244.8 159.3,244.5 160.0,244.0 160.5,243.6 161.1,243.2 161.7,242.9 162.4,242.7 163.2,242.6 164.1,242.4 165.2,241.8 166.6,241.2 168.1,241.0 170.0,240.6 170.7,240.5 171.4,240.3 172.2,240.2 173.0,240.2 173.8,240.1 174.7,240.0 175.6,239.8 176.6,239.7 177.5,239.6 178.5,239.6 179.5,239.6 180.6,239.6 181.6,239.7 182.7,239.7 183.8,239.8 184.8,239.7 185.9,239.5 187.0,239.2 188.1,239.0 189.3,238.8 190.4,238.7 191.5,238.6 192.6,238.6 193.7,238.7 194.8,238.5 195.8,238.2 196.9,238.0 198.0,237.8 199.0,237.7 200.0,237.9 201.0,238.1 202.0,238.2 203.0,238.0 204.0,237.8 205.0,237.6 206.0,237.3 207.0,237.1 207.9,237.0 208.9,237.0 209.9,236.9 210.9,236.9 211.9,237.0 212.9,237.2 213.9,237.5 214.9,237.2 215.9,236.8 216.9,236.6 217.9,236.8 218.9,237.0 219.9,237.1 220.9,237.2 221.9,237.1 222.9,236.7 223.9,236.3 224.9,236.3 225.9,236.4 226.9,236.5 227.9,236.5 229.0,236.5 230.0,236.7 231.0,236.8 232.0,236.7 233.1,236.4 234.1,236.1 235.2,236.1 236.3,236.2 237.5,236.2 238.6,236.1 239.8,236.1 240.9,236.0 242.1,236.1 243.3,236.4 244.4,236.6 245.6,236.7 246.7,236.7 247.9,236.5 249.0,236.3 250.1,236.2 251.2,236.0 252.3,236.2 253.3,236.5 254.3,236.7 255.3,236.7 256.2,236.7 257.1,236.7 258.0,236.7 258.8,236.6 259.5,236.6 260.2,236.5 260.9,236.4 261.5,236.3 262.0,236.4" fill="none" stroke="#f25a55" stroke-width="1.2" stroke-linejoin="round" stroke-linecap="round"/>
<polyline points="159.0,275.0 159.0,274.4 159.0,273.8 159.0,273.0 159.1,272.1 159.1,271.1 159.1,270.1 159.1,269.0 159.1,267.9 159.1,266.7 159.2,265.5 159.2,264.4 159.2,263.2 159.2,262.0 159.2,261.1 159.2,260.1 159.2,259.0 159.2,257.9 159.2,256.8 159.2,255.6 159.2,254.4 159.2,253.3 159.2,252.1 159.2,251.0 159.2,249.9 159.2,248.9 159.2,247.9 159.2,247.0 159.2,246.2 159.2,245.6 159.2,245.0" fill="none" stroke="#f27fb8" stroke-width="1.1" stroke-linejoin="round" stroke-linecap="round"/>
<polyline points="159.0,298.0 159.0,297.4 159.0,296.8 159.0,296.0 159.0,295.1 159.0,294.1 159.0,293.1 159.1,292.0 159.1,290.8 159.1,289.6 159.1,288.4 159.1,287.1 159.1,285.9 159.1,284.6 159.1,283.4 159.1,282.2 159.1,281.0 159.2,279.9 159.2,278.9 159.2,277.9 159.2,277.0 159.2,276.2 159.2,275.6 159.2,275.0" fill="none" stroke="#57c45e" stroke-width="1.1" stroke-linejoin="round" stroke-linecap="round"/>
<polyline points="159.2,239.9 159.3,238.8 159.4,237.4 160.0,236.4 160.3,236.1 160.3,236.0 160.6,236.1 162.0,236.1 165.0,236.1 165.6,236.1 166.2,236.1 166.8,236.0 167.5,236.1 168.2,236.1 168.9,236.2 169.6,236.1 170.4,236.1 171.2,236.1 172.0,236.0 172.9,235.9 173.7,235.7 174.6,235.7 175.5,235.9 176.5,236.0 177.4,235.9 178.4,235.7 179.4,235.6 180.5,235.6 181.5,235.7 182.6,235.7 183.7,235.8 184.8,236.0 186.0,236.3 187.2,236.4 188.3,236.2 189.6,236.0 190.8,236.1 192.0,236.1 193.3,236.3 194.6,236.4 195.9,236.4 197.3,236.3 198.6,236.1 200.0,236.0 200.8,235.8 201.6,235.7 202.5,235.8 203.4,235.9 204.3,236.0 205.2,235.9 206.2,235.9 207.1,235.9 208.1,236.2 209.1,236.4 210.2,236.1 211.2,235.7 212.3,235.6 213.4,235.7 214.5,235.9 215.6,236.0 216.7,236.1 217.9,236.1 219.0,236.0 220.2,236.0 221.4,236.0 222.5,236.0 223.7,236.1 224.9,236.0 226.1,235.8 227.3,235.8 228.4,236.1 229.6,236.3 230.8,236.3 232.0,236.2 233.2,235.8 234.4,235.4 235.5,235.6 236.7,235.7 237.9,235.7 239.0,235.7 240.1,235.7 241.3,235.7 242.4,235.8 243.5,235.9 244.6,235.9 245.6,235.7 246.7,235.6 247.7,235.8 248.7,235.9 249.7,236.0 250.7,236.1 251.7,236.2 252.6,236.2 253.5,236.2 254.4,236.2 255.2,236.2 256.0,236.2 256.8,236.1 257.6,235.9 258.3,235.7 259.0,235.6 259.7,235.6 260.3,235.8 260.9,235.9 261.5,236.0 262.0,236.0" fill="none" stroke="#57c45e" stroke-width="1.2" stroke-linejoin="round" stroke-linecap="round"/>
<line x1="177.2" y1="169.5" x2="177.2" y2="226.9" stroke="#9aa3b5" stroke-width="1.0"/>
<line x1="176.7" y1="226.9" x2="271.7" y2="226.9" stroke="#9aa3b5" stroke-width="1.0"/>
<line x1="175.2" y1="221.9" x2="177.2" y2="221.9" stroke="#7f8ea3" stroke-width="0.8"/>
<text x="174.2" y="223.20000000000002" font-size="3.4" fill="#5a6578" font-weight="normal" text-anchor="end">0.5</text>
<line x1="175.2" y1="213.33333333333334" x2="177.2" y2="213.33333333333334" stroke="#7f8ea3" stroke-width="0.8"/>
<text x="174.2" y="214.63333333333335" font-size="3.4" fill="#5a6578" font-weight="normal" text-anchor="end">0.5</text>
<line x1="175.2" y1="204.76666666666668" x2="177.2" y2="204.76666666666668" stroke="#7f8ea3" stroke-width="0.8"/>
<text x="174.2" y="206.0666666666667" font-size="3.4" fill="#5a6578" font-weight="normal" text-anchor="end">0.5</text>
<line x1="175.2" y1="196.2" x2="177.2" y2="196.2" stroke="#7f8ea3" stroke-width="0.8"/>
<text x="174.2" y="197.5" font-size="3.4" fill="#5a6578" font-weight="normal" text-anchor="end">0.5</text>
<line x1="175.2" y1="187.63333333333333" x2="177.2" y2="187.63333333333333" stroke="#7f8ea3" stroke-width="0.8"/>
<text x="174.2" y="188.93333333333334" font-size="3.4" fill="#5a6578" font-weight="normal" text-anchor="end">0.5</text>
<line x1="175.2" y1="179.06666666666666" x2="177.2" y2="179.06666666666666" stroke="#7f8ea3" stroke-width="0.8"/>
<text x="174.2" y="180.36666666666667" font-size="3.4" fill="#5a6578" font-weight="normal" text-anchor="end">0.5</text>
<line x1="175.2" y1="170.5" x2="177.2" y2="170.5" stroke="#7f8ea3" stroke-width="0.8"/>
<text x="174.2" y="171.8" font-size="3.4" fill="#5a6578" font-weight="normal" text-anchor="end">0.5</text>
<line x1="185.2" y1="226.9" x2="185.2" y2="228.4" stroke="#7f8ea3" stroke-width="0.8"/>
<text x="185.2" y="232.9" font-size="3.2" fill="#5a6578" font-weight="normal" text-anchor="middle">0.0004</text>
<line x1="201.7" y1="226.9" x2="201.7" y2="228.4" stroke="#7f8ea3" stroke-width="0.8"/>
<text x="201.7" y="232.9" font-size="3.2" fill="#5a6578" font-weight="normal" text-anchor="middle">0.0004</text>
<line x1="218.2" y1="226.9" x2="218.2" y2="228.4" stroke="#7f8ea3" stroke-width="0.8"/>
<text x="218.2" y="232.9" font-size="3.2" fill="#5a6578" font-weight="normal" text-anchor="middle">0.0004</text>
<line x1="234.7" y1="226.9" x2="234.7" y2="228.4" stroke="#7f8ea3" stroke-width="0.8"/>
<text x="234.7" y="232.9" font-size="3.2" fill="#5a6578" font-weight="normal" text-anchor="middle">0.0004</text>
<line x1="251.2" y1="226.9" x2="251.2" y2="228.4" stroke="#7f8ea3" stroke-width="0.8"/>
<text x="251.2" y="232.9" font-size="3.2" fill="#5a6578" font-weight="normal" text-anchor="middle">0.0004</text>
<line x1="267.7" y1="226.9" x2="267.7" y2="228.4" stroke="#7f8ea3" stroke-width="0.8"/>
<text x="267.7" y="232.9" font-size="3.2" fill="#5a6578" font-weight="normal" text-anchor="middle">0.0004</text>
<line x1="219" y1="169.5" x2="219" y2="226.9" stroke="#6cb2e8" stroke-width="1.15"/>
<polyline points="184.3,218.0 184.6,217.4 185.0,216.7 185.4,215.8 185.9,214.8 186.4,213.8 187.0,212.6 187.6,211.5 188.2,210.4 188.8,209.4 189.4,208.4 190.0,207.5 190.6,206.6 191.3,205.8 192.0,205.1 192.6,204.4 193.3,203.7 194.1,203.0 194.8,202.3 195.6,201.6 196.4,200.9 197.3,200.2 198.0,199.6 198.8,199.0 199.5,198.4 200.3,197.8 201.2,197.2 202.0,196.6 202.8,195.9 203.7,195.3 204.6,194.7 205.4,194.2 206.3,193.6 207.2,193.0 208.0,192.5 208.9,191.9 209.8,191.4 210.7,190.9 211.6,190.4 212.5,189.9 213.4,189.4 214.3,189.0 215.2,188.5 216.2,188.0 217.1,187.6 218.0,187.1 219.0,186.7 219.9,186.3 220.8,185.9 221.7,185.5 222.6,185.1 223.5,184.7 224.4,184.3 225.3,183.9 226.2,183.5 227.2,183.1 228.1,182.8 229.1,182.4 230.0,182.0 231.0,181.7 231.9,181.4 232.9,181.1 233.8,180.8 234.8,180.5 235.8,180.2 236.8,179.9 237.8,179.6 238.8,179.3 239.8,179.0 240.8,178.7 241.8,178.5 242.8,178.2 243.7,178.0 244.6,177.7 245.7,177.4 246.8,177.1 247.8,176.8 248.9,176.5 249.9,176.2 250.9,176.0 251.9,175.7 252.9,175.4 253.9,175.2 254.9,174.9 256.0,174.7 257.0,174.5 258.1,174.2 259.3,174.0 260.5,173.8 261.6,173.5 262.8,173.3 263.9,173.1 265.0,172.9 266.0,172.7 266.9,172.6 267.6,172.4 268.2,172.3" fill="none" stroke="#858585" stroke-width="1.0" stroke-linejoin="round" stroke-linecap="round"/>
<polyline points="184.3,218.0 184.6,217.4 185.0,216.7 185.4,215.8 185.9,214.8 186.4,213.8 187.0,212.6 187.6,211.5 188.2,210.4 188.8,209.4 189.4,208.4 190.0,207.5 190.6,206.6 191.3,205.8 192.0,205.1 192.6,204.4 193.3,203.7 194.1,203.0 194.8,202.3 195.6,201.6 196.4,200.9 197.3,200.2 198.0,199.6 198.8,199.0 199.5,198.4 200.3,197.8 201.2,197.2 202.0,196.6 202.8,195.9 203.7,195.3 204.6,194.7 205.4,194.2 206.3,193.6 207.2,193.0 208.0,192.5 208.9,191.9 209.8,191.4 210.7,190.9 211.6,190.4 212.5,189.9 213.4,189.4 214.3,189.0 215.2,188.5 216.2,188.0 217.1,187.6 218.0,187.1 219.0,186.7 219.9,186.3 220.8,185.9 221.7,185.5 222.6,185.1 223.5,184.7 224.4,184.3 225.3,183.9 226.2,183.5 227.2,183.1 228.1,182.8 229.1,182.4 230.0,182.0 231.0,181.7 231.9,181.4 232.9,181.1 233.8,180.8 234.8,180.5 235.8,180.2 236.8,179.9 237.8,179.6 238.8,179.3 239.8,179.0 240.8,178.7 241.8,178.5 242.8,178.2 243.7,178.0 244.6,177.7 245.7,177.4 246.8,177.1 247.8,176.8 248.9,176.5 249.9,176.2 250.9,176.0 251.9,175.7 252.9,175.4 253.9,175.2 254.9,174.9 256.0,174.7 257.0,174.5 258.1,174.2 259.3,174.0 260.5,173.8 261.6,173.5 262.8,173.3 263.9,173.1 265.0,172.9 266.0,172.7 266.9,172.6 267.6,172.4 268.2,172.3" fill="none" stroke="#2a2a2a" stroke-width="1.1" stroke-dasharray="0.9 2.6"/>
<circle cx="184.3" cy="220" r="0.95" fill="#57c45e" fill-opacity="0.8"/>
<circle cx="184.5" cy="216" r="0.95" fill="#f25a55" fill-opacity="0.8"/>
<circle cx="185" cy="211" r="0.95" fill="#f7a23d" fill-opacity="0.8"/>
<circle cx="187" cy="206" r="0.95" fill="#57c45e" fill-opacity="0.8"/>
<circle cx="219" cy="186.7" r="0.95" fill="#cc80d8" fill-opacity="0.8"/>
<circle cx="225" cy="184" r="0.95" fill="#e9d23a" fill-opacity="0.8"/>
<circle cx="268.2" cy="172.3" r="0.95" fill="#f25a55" fill-opacity="0.8"/>
<text transform="translate(201.95,215.10) scale(1.0825,1)" font-size="14.43" font-weight="normal" fill="#ff0c0c" stroke="#ff0c0c" stroke-width="0.2">10.5 µM</text>
<line x1="299.4" y1="18" x2="299.4" y2="152.5" stroke="#6e7f96" stroke-width="1.3"/>
<line x1="298.79999999999995" y1="152.5" x2="528" y2="152.5" stroke="#6e7f96" stroke-width="1.3"/>
<line x1="296.2" y1="37.2" x2="299.4" y2="37.2" stroke="#6e7f96" stroke-width="1.2"/>
<text x="294.4" y="39.300000000000004" font-size="6" fill="#36425c" font-weight="normal" text-anchor="end">7.5</text>
<line x1="296.2" y1="60.8" x2="299.4" y2="60.8" stroke="#6e7f96" stroke-width="1.2"/>
<text x="294.4" y="62.9" font-size="6" fill="#36425c" font-weight="normal" text-anchor="end">5</text>
<line x1="296.2" y1="84.4" x2="299.4" y2="84.4" stroke="#6e7f96" stroke-width="1.2"/>
<text x="294.4" y="86.5" font-size="6" fill="#36425c" font-weight="normal" text-anchor="end">2.5</text>
<line x1="296.2" y1="108" x2="299.4" y2="108" stroke="#6e7f96" stroke-width="1.2"/>
<text x="294.4" y="110.1" font-size="6" fill="#36425c" font-weight="normal" text-anchor="end">0</text>
<line x1="296.2" y1="131.6" x2="299.4" y2="131.6" stroke="#6e7f96" stroke-width="1.2"/>
<text x="294.4" y="133.7" font-size="6" fill="#36425c" font-weight="normal" text-anchor="end">-2.5</text>
<line x1="297.59999999999997" y1="25.4" x2="299.4" y2="25.4" stroke="#6e7f96" stroke-width="1.0"/>
<line x1="297.59999999999997" y1="49" x2="299.4" y2="49" stroke="#6e7f96" stroke-width="1.0"/>
<line x1="297.59999999999997" y1="72.6" x2="299.4" y2="72.6" stroke="#6e7f96" stroke-width="1.0"/>
<line x1="297.59999999999997" y1="96.2" x2="299.4" y2="96.2" stroke="#6e7f96" stroke-width="1.0"/>
<line x1="297.59999999999997" y1="119.8" x2="299.4" y2="119.8" stroke="#6e7f96" stroke-width="1.0"/>
<line x1="297.59999999999997" y1="143.4" x2="299.4" y2="143.4" stroke="#6e7f96" stroke-width="1.0"/>
<line x1="307" y1="152.5" x2="307" y2="156.3" stroke="#6e7f96" stroke-width="1.2"/>
<line x1="346" y1="152.5" x2="346" y2="156.3" stroke="#6e7f96" stroke-width="1.2"/>
<line x1="385.5" y1="152.5" x2="385.5" y2="156.3" stroke="#6e7f96" stroke-width="1.2"/>
<line x1="425.3" y1="152.5" x2="425.3" y2="156.3" stroke="#6e7f96" stroke-width="1.2"/>
<line x1="465" y1="152.5" x2="465" y2="156.3" stroke="#6e7f96" stroke-width="1.2"/>
<line x1="504.6" y1="152.5" x2="504.6" y2="156.3" stroke="#6e7f96" stroke-width="1.2"/>
<text x="346" y="164.8" font-size="6" fill="#36425c" font-weight="normal" text-anchor="middle">0</text>
<text x="425.3" y="164.8" font-size="6" fill="#36425c" font-weight="normal" text-anchor="middle">100</text>
<text x="504.6" y="164.8" font-size="6" fill="#36425c" font-weight="normal" text-anchor="middle">200</text>
<text transform="translate(368.20,21.60) scale(1.0526,1)" font-size="19.00" font-weight="bold" fill="#000" stroke="#000" stroke-width="0.5">2</text>
<text transform="translate(358.12,141.40) scale(1.0212,1)" font-size="15.56" font-weight="bold" fill="#000" stroke="#000" stroke-width="0.5">Spike</text>
<polyline points="315.7,108.1 315.7,107.2 315.8,105.9 315.8,104.3 315.9,103.0 315.9,102.1 316.0,102.0 316.0,102.4 316.1,103.2 316.1,104.2 316.1,105.4 316.2,106.7 316.2,108.1 316.3,109.5 316.3,110.7 316.4,111.7 316.4,112.4 316.5,112.9 316.6,112.7 316.6,111.8 316.6,110.5 316.7,108.9 317.0,107.5 317.5,106.6 318.2,106.5 319.1,106.8 320.1,107.1 321.3,107.1 322.5,107.6 323.7,108.3 325.0,107.9 325.9,107.8 326.8,108.2 327.8,108.5 328.8,108.2 329.8,108.0 330.9,108.5 331.9,108.9 333.0,108.9 334.0,108.8 335.0,108.4 336.0,108.2 337.2,108.5 338.3,108.6 339.5,108.3 340.6,108.4 341.7,108.5 342.7,108.7 343.6,108.9 344.4,108.6 345.0,108.4" fill="none" stroke="#e9d23a" stroke-width="1.0" stroke-linejoin="round" stroke-linecap="round"/>
<polyline points="315.7,107.5 315.7,106.6 315.8,105.3 315.8,103.8 315.9,102.5 315.9,101.6 316.0,101.5 316.0,102.0 316.1,102.8 316.1,103.8 316.1,105.0 316.2,106.4 316.2,107.8 316.3,109.1 316.3,110.4 316.4,111.4 316.4,112.2 316.5,112.6 316.6,112.6 316.6,111.7 316.6,110.3 316.7,108.8 317.0,107.5 317.5,106.9 318.2,106.6 319.1,106.4 320.1,106.7 321.3,107.4 322.5,107.7 323.7,107.8 325.0,107.7 325.9,107.5 326.8,107.6 327.8,107.7 328.8,108.2 329.8,108.5 330.9,108.2 331.9,108.1 333.0,108.5 334.0,108.7 335.0,108.7 336.0,108.7 337.2,108.6 338.3,108.7 339.5,108.9 340.6,108.8 341.7,108.6 342.7,108.6 343.6,108.6 344.4,108.5 345.0,108.5" fill="none" stroke="#f7a23d" stroke-width="1.0" stroke-linejoin="round" stroke-linecap="round"/>
<polyline points="315.7,108.0 315.7,107.1 315.8,105.8 315.8,104.3 315.9,102.9 315.9,102.1 316.0,102.0 316.0,102.4 316.1,103.1 316.1,104.2 316.1,105.4 316.2,106.7 316.2,108.1 316.3,109.5 316.3,110.7 316.4,111.7 316.4,112.5 316.5,112.9 316.6,112.8 316.6,111.9 316.6,110.5 316.7,109.0 317.0,107.6 317.5,106.7 318.2,106.6 319.1,106.8 320.1,107.0 321.3,107.0 322.5,107.3 323.7,107.8 325.0,108.4 325.9,108.5 326.8,108.1 327.8,107.7 328.8,107.9 329.8,108.1 330.9,108.4 331.9,108.5 333.0,108.2 334.0,108.0 335.0,108.1 336.0,108.2 337.2,108.7 338.3,109.0 339.5,109.1 340.6,108.7 341.7,108.3 342.7,108.2 343.6,108.1 344.4,108.5 345.0,108.7" fill="none" stroke="#f25a55" stroke-width="1.0" stroke-linejoin="round" stroke-linecap="round"/>
<polyline points="348.0,98.8 348.0,98.3 348.0,97.7 348.0,97.0 348.0,96.3 348.0,95.4 348.0,94.6 348.0,93.6 348.0,92.7 348.0,91.6 348.0,90.6 348.0,89.5 348.0,88.3 348.1,87.2 348.1,86.0 348.1,84.8 348.1,83.6 348.1,82.3 348.1,81.1 348.1,79.9 348.1,78.6 348.1,77.4 348.1,76.2 348.1,74.9 348.1,73.7 348.1,72.6 348.1,71.4 348.1,70.3 348.1,69.2 348.1,68.2 348.2,67.2 348.2,66.3 348.2,65.4 348.2,64.5 348.2,63.8 348.2,63.1 348.2,62.4 348.2,61.9 348.3,58.6 348.5,59.9 350.0,59.5 350.6,59.6 351.3,59.6 352.1,59.7 352.9,59.8 353.8,60.1 354.9,60.5 356.0,60.7 357.2,60.7 358.6,60.8 360.0,61.0 360.8,61.1 361.6,61.2 362.4,61.3 363.3,61.4 364.2,61.3 365.2,61.2 366.2,61.3 367.2,61.5 368.2,61.6 369.2,61.6 370.3,61.5 371.4,61.5 372.5,61.5 373.5,61.5 374.6,61.5 375.7,61.5 376.8,61.5 377.9,61.5 378.9,61.5 380.0,61.4 381.0,61.5 382.0,61.7 383.1,61.8 384.2,61.7 385.3,61.5 386.5,61.6 387.6,61.8 388.8,61.8 389.9,61.8 391.1,61.6 392.2,61.4 393.4,61.3 394.5,61.3 395.5,61.4 396.6,61.4 397.5,61.5 398.5,61.5 399.3,61.6 400.1,61.7 400.8,61.6 401.5,61.5 402.0,61.5" fill="none" stroke="#c09a3c" stroke-width="1.2" stroke-linejoin="round" stroke-linecap="round"/>
<polyline points="347.7,40.3 347.9,39.5 348.1,38.4 348.4,37.2 348.7,36.0 349.0,35.0 349.7,33.5 350.5,32.8 352.0,33.0 352.8,32.8 353.7,32.2 354.8,31.5 355.9,31.0 357.0,30.6 358.0,30.2 359.0,29.7 360.0,29.3 361.0,29.1 362.0,29.2 363.0,29.3 363.9,29.4 364.8,29.6 365.8,30.0 367.0,30.6 367.8,30.8 368.7,30.9 369.7,30.9 370.7,31.0 371.7,31.1 372.8,31.1 373.9,31.2 375.0,31.3 375.9,31.3 376.9,31.3 377.9,31.2 378.9,30.9 379.9,30.6 380.9,30.4 381.9,30.3 383.0,30.2 384.0,30.0 385.0,29.7 386.0,29.6 387.0,29.5 388.1,29.4 389.1,29.2 390.2,29.1 391.2,29.0 392.2,28.9 393.2,28.8 394.1,28.7 395.0,28.7 396.2,28.7 397.4,28.7 398.6,28.6 399.6,28.5 400.6,28.5 401.4,28.5 402.0,28.5" fill="none" stroke="#e9d23a" stroke-width="1.2" stroke-linejoin="round" stroke-linecap="round"/>
<polyline points="348.0,55.6 348.1,54.9 348.1,53.9 348.2,52.7 348.3,51.5 348.4,50.2 348.6,49.0 348.8,47.9 349.0,47.1 349.3,46.0 349.8,45.7 352.0,45.3 352.6,45.1 353.3,45.1 354.0,45.1 354.7,45.1 355.5,45.1 356.4,45.1 357.3,45.1 358.2,45.1 359.2,44.9 360.2,44.8 361.3,44.8 362.4,44.8 363.6,44.8 364.8,44.8 366.0,44.8 367.3,44.8 368.6,44.6 370.0,44.3 370.8,44.2 371.7,44.2 372.6,44.2 373.5,44.3 374.6,44.4 375.6,44.6 376.7,44.5 377.8,44.4 378.9,44.2 380.0,44.1 381.2,44.0 382.4,44.1 383.6,44.1 384.8,43.9 385.9,43.8 387.1,43.8 388.3,43.8 389.5,43.8 390.6,43.7 391.7,43.7 392.8,43.6 393.9,43.5 394.9,43.4 395.9,43.4 396.9,43.5 397.8,43.5 398.6,43.5 399.4,43.5 400.2,43.5 400.9,43.5 401.5,43.4 402.0,43.4" fill="none" stroke="#cc80d8" stroke-width="1.2" stroke-linejoin="round" stroke-linecap="round"/>
<polyline points="348.0,99.2 348.0,98.7 348.0,98.0 348.0,97.2 348.0,96.3 348.0,95.4 348.0,94.3 348.0,93.2 348.0,92.1 348.0,90.9 348.0,89.7 348.0,88.5 348.0,87.2 348.1,86.0 348.1,84.7 348.1,83.6 348.1,82.4 348.1,81.3 348.1,80.2 348.2,79.2 348.2,78.3 348.2,77.5 348.3,76.8 348.3,76.2 347.9,74.0 350.0,74.4 350.6,74.3 351.2,74.3 351.9,74.4 352.6,74.5 353.4,74.5 354.3,74.5 355.2,74.5 356.1,74.6 357.1,74.8 358.1,74.9 359.2,74.8 360.3,74.7 361.4,74.7 362.5,74.8 363.7,74.9 364.9,74.9 366.2,74.9 367.4,74.9 368.7,75.0 370.0,75.2 370.8,75.3 371.7,75.3 372.7,75.2 373.6,75.2 374.7,75.2 375.7,75.1 376.8,75.0 377.9,74.8 379.0,75.0 380.2,75.3 381.4,75.2 382.5,75.1 383.7,75.1 384.9,75.1 386.1,75.1 387.2,75.1 388.4,75.1 389.6,75.0 390.7,75.1 391.8,75.2 392.9,75.3 394.0,75.1 395.0,75.0 396.0,74.9 396.9,74.8 397.8,74.8 398.7,74.9 399.4,75.1 400.2,75.2 400.9,75.2 401.5,75.1 402.0,75.0" fill="none" stroke="#f27fb8" stroke-width="1.2" stroke-linejoin="round" stroke-linecap="round"/>
<polyline points="348.0,98.8 348.0,98.2 348.0,97.4 348.0,96.5 348.0,95.4 347.9,94.3 347.9,93.1 347.9,91.9 347.9,90.6 347.9,89.4 348.0,88.3 348.0,87.2 348.1,86.3 348.2,85.5 348.3,84.8 348.9,83.5 349.7,83.1 350.7,83.2 352.0,83.0 352.7,82.9 353.4,83.0 354.2,83.3 355.0,83.6 355.9,84.0 357.1,84.3 358.4,84.5 360.0,84.6 360.7,84.6 361.5,84.5 362.3,84.4 363.2,84.4 364.1,84.4 365.1,84.4 366.0,84.5 367.0,84.5 368.1,84.6 369.1,84.7 370.2,84.7 371.3,84.7 372.4,84.6 373.5,84.5 374.6,84.5 375.7,84.4 376.8,84.4 377.9,84.3 378.9,84.3 380.0,84.3 381.0,84.4 382.0,84.5 383.1,84.5 384.2,84.4 385.3,84.4 386.5,84.4 387.6,84.4 388.8,84.4 389.9,84.5 391.1,84.5 392.2,84.5 393.4,84.4 394.5,84.3 395.5,84.1 396.6,84.2 397.5,84.2 398.5,84.3 399.3,84.4 400.1,84.5 400.8,84.5 401.5,84.5 402.0,84.5" fill="none" stroke="#57c45e" stroke-width="1.2" stroke-linejoin="round" stroke-linecap="round"/>
<polyline points="348.0,99.3 348.0,98.6 348.0,97.5 348.0,96.3 348.1,95.1 348.2,94.0 348.5,93.2 349.3,92.5 350.4,92.2 352.0,92.0 352.7,91.9 353.4,91.7 354.1,91.6 355.0,91.5 355.9,91.4 357.1,91.3 358.4,91.3 360.0,91.3 360.7,91.2 361.5,91.1 362.3,90.9 363.2,90.8 364.1,90.7 365.1,90.7 366.0,90.6 367.0,90.7 368.1,90.7 369.1,90.6 370.2,90.5 371.3,90.5 372.4,90.7 373.5,90.8 374.6,90.8 375.7,90.9 376.8,90.6 377.9,90.4 378.9,90.5 380.0,90.6 381.0,90.6 382.0,90.4 383.1,90.3 384.2,90.4 385.3,90.6 386.5,90.5 387.6,90.4 388.8,90.3 389.9,90.2 391.1,90.1 392.2,90.0 393.4,89.9 394.5,89.9 395.5,89.9 396.6,90.1 397.5,90.3 398.5,90.2 399.3,90.1 400.1,89.9 400.8,89.9 401.5,89.9 402.0,90.0" fill="none" stroke="#f7a23d" stroke-width="1.2" stroke-linejoin="round" stroke-linecap="round"/>
<polyline points="348.0,98.7 348.0,97.9 348.0,96.8 348.2,95.7 348.5,94.8 348.5,94.1 348.9,93.8 352.0,93.4 352.6,93.3 353.3,93.3 354.0,93.3 354.8,93.4 355.6,93.5 356.5,93.5 357.4,93.6 358.4,93.6 359.4,93.4 360.4,93.2 361.5,93.3 362.6,93.5 363.7,93.5 364.8,93.4 366.0,93.3 367.1,93.4 368.3,93.4 369.4,93.1 370.6,92.9 371.7,93.1 372.8,93.2 374.0,93.2 375.0,93.1 376.1,93.1 377.1,93.1 378.1,93.1 379.1,93.0 380.0,93.0 381.1,93.0 382.3,93.1 383.5,93.2 384.7,93.0 385.8,93.0 387.0,92.9 388.2,92.9 389.4,92.9 390.5,92.8 391.6,92.8 392.8,92.7 393.8,92.7 394.9,92.8 395.9,92.7 396.8,92.7 397.7,92.6 398.6,92.6 399.4,92.5 400.2,92.5 400.8,92.4 401.5,92.4 402.0,92.3" fill="none" stroke="#f26b32" stroke-width="1.2" stroke-linejoin="round" stroke-linecap="round"/>
<polyline points="348.0,99.0 349.0,97.5 349.5,97.2 349.9,97.0 350.5,96.8 351.4,96.8 352.8,96.8 355.0,96.8 355.7,96.8 356.4,96.6 357.1,96.4 358.0,96.2 358.8,96.2 359.7,96.3 360.7,96.3 361.7,96.3 362.7,96.2 363.8,96.2 364.9,96.1 365.9,96.1 367.1,96.3 368.2,96.4 369.3,96.4 370.4,96.4 371.6,96.3 372.7,96.2 373.8,96.1 374.9,96.0 376.0,95.9 377.0,96.0 378.0,96.1 379.0,95.9 380.0,95.7 381.1,95.6 382.2,95.6 383.3,95.7 384.5,95.6 385.6,95.6 386.8,95.4 388.0,95.3 389.1,95.4 390.3,95.4 391.4,95.4 392.6,95.3 393.7,95.2 394.7,95.2 395.7,95.1 396.7,95.0 397.7,94.9 398.6,95.0 399.4,95.0 400.1,95.1 400.8,95.1 401.5,95.0 402.0,94.9" fill="none" stroke="#35ad6a" stroke-width="1.2" stroke-linejoin="round" stroke-linecap="round"/>
<path d="M403.5,25.6V31.8M407.8,25.6V31.8" stroke="#2c3a52" stroke-width="1.9" fill="none"/>
<line x1="403.5" y1="28.7" x2="407.8" y2="28.7" stroke="#2c3a52" stroke-width="1.8"/>
<path d="M403.5,40.4V46.6M407.8,40.4V46.6" stroke="#2c3a52" stroke-width="1.9" fill="none"/>
<line x1="403.5" y1="43.5" x2="407.8" y2="43.5" stroke="#2c3a52" stroke-width="1.8"/>
<path d="M403.5,58.4V64.6M407.8,58.4V64.6" stroke="#2c3a52" stroke-width="1.9" fill="none"/>
<line x1="403.5" y1="61.5" x2="407.8" y2="61.5" stroke="#2c3a52" stroke-width="1.8"/>
<path d="M403.5,71.6V77.8M407.8,71.6V77.8" stroke="#2c3a52" stroke-width="1.9" fill="none"/>
<line x1="403.5" y1="74.7" x2="407.8" y2="74.7" stroke="#2c3a52" stroke-width="1.8"/>
<path d="M403.6,81.1V98.4M407.9,81.1V98.4" stroke="#2c3a52" stroke-width="1.9" fill="none"/>
<line x1="403.6" y1="83.5" x2="407.9" y2="83.5" stroke="#2c3a52" stroke-width="1.8"/>
<line x1="403.6" y1="87.0" x2="407.9" y2="87.0" stroke="#2c3a52" stroke-width="1.8"/>
<line x1="403.6" y1="90.0" x2="407.9" y2="90.0" stroke="#2c3a52" stroke-width="1.8"/>
<line x1="403.6" y1="93.0" x2="407.9" y2="93.0" stroke="#2c3a52" stroke-width="1.8"/>
<line x1="403.6" y1="96.2" x2="407.9" y2="96.2" stroke="#2c3a52" stroke-width="1.8"/>
<line x1="410.7" y1="89" x2="410.7" y2="104" stroke="#cc80d8" stroke-width="1.1"/>
<line x1="410.7" y1="104" x2="410.7" y2="141.5" stroke="#f7a23d" stroke-width="1.1"/>
<polyline points="410.7,109.7 410.7,108.9 410.8,107.7 411.2,106.9 411.6,106.5 414.0,106.7 414.6,106.7 415.3,106.7 416.0,106.5 416.7,106.2 417.6,105.8 418.4,105.6 419.3,105.9 420.3,106.2 421.3,106.2 422.4,106.1 423.5,106.1 424.7,106.0 425.9,105.9 427.2,105.6 428.6,105.4 430.0,105.9 430.8,106.1 431.6,106.0 432.5,105.8 433.4,105.7 434.3,105.9 435.3,106.1 436.2,106.1 437.3,106.0 438.3,106.0 439.3,106.1 440.4,106.2 441.5,106.3 442.6,106.3 443.7,106.2 444.8,106.1 445.9,106.0 447.0,106.2 448.0,106.3 449.1,106.5 450.2,106.7 451.3,106.7 452.4,106.7 453.4,106.7 454.4,106.8 455.4,106.8 456.4,106.6 457.3,106.3 458.3,106.1 459.1,106.3 460.0,106.5 461.2,106.7 462.5,106.8 463.6,106.8 464.8,106.6 465.9,106.4 467.1,106.2 468.1,106.1 469.2,106.4 470.2,106.7 471.3,106.8 472.3,106.7 473.2,106.7 474.2,106.8 475.1,107.0 476.0,107.0 476.8,106.8 477.6,106.6 478.5,106.5 479.2,106.4 480.0,106.4 481.6,106.7 482.9,107.2 484.1,107.6 485.2,108.0 486.2,108.3 487.1,108.4 488.0,108.6 488.9,108.5 489.8,108.3 490.9,107.9 491.8,107.7 492.7,107.3 493.6,106.8 494.5,106.3 495.6,105.7 497.0,105.6 497.8,105.6 498.8,105.6 499.8,105.7 500.9,105.8 502.1,105.6 503.3,105.4 504.4,105.5 505.6,105.5 506.8,105.4 507.8,105.3 508.8,105.3 509.7,105.4 510.4,105.5 511.0,105.6" fill="none" stroke="#cc80d8" stroke-width="1.2" stroke-linejoin="round" stroke-linecap="round"/>
<polyline points="410.7,111.8 410.7,110.9 410.8,109.6 410.9,108.3 411.2,107.3 411.6,106.6 414.0,106.5 414.6,106.3 415.3,106.2 416.0,106.1 416.7,106.3 417.6,106.5 418.4,106.6 419.3,106.4 420.3,106.2 421.3,106.0 422.4,105.9 423.5,105.9 424.7,106.2 425.9,106.5 427.2,106.4 428.6,106.4 430.0,106.4 430.8,106.4 431.6,106.4 432.5,106.3 433.4,106.2 434.3,106.0 435.3,105.8 436.2,105.8 437.3,105.9 438.3,106.0 439.3,106.0 440.4,105.9 441.5,106.1 442.6,106.5 443.7,106.5 444.8,106.1 445.9,105.9 447.0,106.3 448.0,106.8 449.1,106.6 450.2,106.3 451.3,106.2 452.4,106.3 453.4,106.4 454.4,106.6 455.4,106.8 456.4,106.9 457.3,106.9 458.3,107.0 459.1,106.9 460.0,106.9 461.2,106.8 462.5,106.9 463.6,106.9 464.8,106.9 465.9,107.0 467.1,107.0 468.1,107.0 469.2,106.7 470.2,106.5 471.3,106.4 472.3,106.5 473.2,106.6 474.2,106.5 475.1,106.3 476.0,106.3 476.8,106.6 477.6,106.8 478.5,107.0 479.2,106.9 480.0,106.8 481.4,106.9 482.7,107.1 483.8,107.3 484.8,107.6 485.7,107.9 486.6,108.5 487.4,109.0 488.2,109.4 489.0,109.2 489.8,108.9 490.9,108.4 491.8,108.4 492.7,108.2 493.6,107.8 494.5,107.3 495.6,106.8 497.0,106.0 497.8,105.7 498.8,105.7 499.8,105.9 500.9,106.1 502.1,105.8 503.3,105.4 504.4,105.7 505.6,106.0 506.8,105.8 507.8,105.6 508.8,105.5 509.7,105.7 510.4,105.7 511.0,105.8" fill="none" stroke="#f7a23d" stroke-width="1.2" stroke-linejoin="round" stroke-linecap="round"/>
<polyline points="410.7,89.0 410.8,89.6 410.8,90.5 410.9,91.5 411.0,92.7 411.1,93.9 411.2,95.0 411.4,96.1 411.5,97.0 411.7,98.2 412.0,99.3 412.3,100.3 412.6,101.2 413.0,102.1 413.5,103.0 414.0,103.9 414.8,104.7 416.0,105.3 416.6,105.3 417.1,105.4 417.6,105.4 418.2,105.3 418.9,105.4 419.9,105.4 421.1,105.6 422.8,105.9 425.0,105.9 425.7,105.8 426.4,105.8 427.1,105.7 427.9,105.7 428.8,105.7 429.7,105.8 430.6,105.8 431.5,105.8 432.5,105.7 433.5,105.7 434.6,105.6 435.7,105.6 436.7,105.8 437.8,106.1 439.0,106.2 440.1,106.4 441.2,106.4 442.4,106.3 443.5,106.2 444.7,106.2 445.8,106.2 447.0,106.0 448.1,105.9 449.2,105.9 450.3,106.0 451.4,105.9 452.5,105.8 453.5,105.8 454.6,106.1 455.6,106.4 456.5,106.3 457.5,106.1 458.3,105.9 459.2,105.9 460.0,106.0 461.4,106.2 462.7,106.6 463.9,106.6 465.1,106.3 466.3,106.3 467.4,106.7 468.5,106.9 469.6,106.7 470.6,106.5 471.6,106.6 472.5,106.7 473.5,106.8 474.4,106.7 475.2,106.7 476.1,106.6 476.9,106.5 477.7,106.4 478.5,106.4 479.2,106.6 480.0,106.9 481.6,107.1 482.9,107.0 484.1,107.3 485.2,107.7 486.2,107.9 487.1,108.1 488.0,108.2 488.9,108.2 489.8,108.2 490.9,108.0 491.8,107.8 492.7,107.4 493.6,106.9 494.5,106.2 495.6,105.6 497.0,105.4 497.8,105.5 498.8,105.6 499.8,105.7 500.9,105.9 502.1,105.9 503.3,105.9 504.4,105.6 505.6,105.2 506.8,105.0 507.8,104.8 508.8,104.8 509.7,104.9 510.4,105.0 511.0,105.0" fill="none" stroke="#e9d23a" stroke-width="1.2" stroke-linejoin="round" stroke-linecap="round"/>
<line x1="422" y1="18" x2="422" y2="76.2" stroke="#9aa3b5" stroke-width="1.0"/>
<line x1="421.5" y1="76.2" x2="524" y2="76.2" stroke="#9aa3b5" stroke-width="1.0"/>
<line x1="420" y1="71.2" x2="422" y2="71.2" stroke="#7f8ea3" stroke-width="0.8"/>
<text x="419" y="72.5" font-size="3.4" fill="#5a6578" font-weight="normal" text-anchor="end">0.5</text>
<line x1="420" y1="62.5" x2="422" y2="62.5" stroke="#7f8ea3" stroke-width="0.8"/>
<text x="419" y="63.8" font-size="3.4" fill="#5a6578" font-weight="normal" text-anchor="end">0.5</text>
<line x1="420" y1="53.8" x2="422" y2="53.8" stroke="#7f8ea3" stroke-width="0.8"/>
<text x="419" y="55.099999999999994" font-size="3.4" fill="#5a6578" font-weight="normal" text-anchor="end">0.5</text>
<line x1="420" y1="45.099999999999994" x2="422" y2="45.099999999999994" stroke="#7f8ea3" stroke-width="0.8"/>
<text x="419" y="46.39999999999999" font-size="3.4" fill="#5a6578" font-weight="normal" text-anchor="end">0.5</text>
<line x1="420" y1="36.4" x2="422" y2="36.4" stroke="#7f8ea3" stroke-width="0.8"/>
<text x="419" y="37.699999999999996" font-size="3.4" fill="#5a6578" font-weight="normal" text-anchor="end">0.5</text>
<line x1="420" y1="27.700000000000003" x2="422" y2="27.700000000000003" stroke="#7f8ea3" stroke-width="0.8"/>
<text x="419" y="29.000000000000004" font-size="3.4" fill="#5a6578" font-weight="normal" text-anchor="end">0.5</text>
<line x1="420" y1="18.999999999999993" x2="422" y2="18.999999999999993" stroke="#7f8ea3" stroke-width="0.8"/>
<text x="419" y="20.299999999999994" font-size="3.4" fill="#5a6578" font-weight="normal" text-anchor="end">0.5</text>
<line x1="430.0" y1="76.2" x2="430.0" y2="77.7" stroke="#7f8ea3" stroke-width="0.8"/>
<text x="430.0" y="82.2" font-size="3.2" fill="#5a6578" font-weight="normal" text-anchor="middle">0.0004</text>
<line x1="448.0" y1="76.2" x2="448.0" y2="77.7" stroke="#7f8ea3" stroke-width="0.8"/>
<text x="448.0" y="82.2" font-size="3.2" fill="#5a6578" font-weight="normal" text-anchor="middle">0.0004</text>
<line x1="466.0" y1="76.2" x2="466.0" y2="77.7" stroke="#7f8ea3" stroke-width="0.8"/>
<text x="466.0" y="82.2" font-size="3.2" fill="#5a6578" font-weight="normal" text-anchor="middle">0.0004</text>
<line x1="484.0" y1="76.2" x2="484.0" y2="77.7" stroke="#7f8ea3" stroke-width="0.8"/>
<text x="484.0" y="82.2" font-size="3.2" fill="#5a6578" font-weight="normal" text-anchor="middle">0.0004</text>
<line x1="502.0" y1="76.2" x2="502.0" y2="77.7" stroke="#7f8ea3" stroke-width="0.8"/>
<text x="502.0" y="82.2" font-size="3.2" fill="#5a6578" font-weight="normal" text-anchor="middle">0.0004</text>
<line x1="520.0" y1="76.2" x2="520.0" y2="77.7" stroke="#7f8ea3" stroke-width="0.8"/>
<text x="520.0" y="82.2" font-size="3.2" fill="#5a6578" font-weight="normal" text-anchor="middle">0.0004</text>
<line x1="466.7" y1="18" x2="466.7" y2="76.2" stroke="#b3d3ee" stroke-width="1.15"/>
<polyline points="429.2,63.3 429.5,62.8 430.0,62.2 430.5,61.4 431.0,60.5 431.7,59.6 432.3,58.7 433.0,57.7 433.7,56.7 434.3,55.8 435.0,55.0 435.6,54.2 436.3,53.4 437.0,52.7 437.6,51.9 438.3,51.1 439.0,50.4 439.8,49.6 440.5,48.9 441.2,48.2 442.0,47.5 442.8,46.8 443.6,46.1 444.4,45.5 445.3,44.8 446.2,44.2 447.0,43.6 447.9,43.0 448.7,42.4 449.6,41.8 450.4,41.3 451.4,40.7 452.3,40.0 453.3,39.5 454.2,38.9 455.1,38.4 456.0,37.8 457.0,37.3 458.0,36.8 458.9,36.3 459.8,35.9 460.7,35.5 461.6,35.0 462.6,34.6 463.6,34.2 464.6,33.8 465.6,33.4 466.7,33.0 467.6,32.7 468.6,32.4 469.6,32.0 470.6,31.7 471.6,31.4 472.6,31.1 473.7,30.8 474.8,30.5 475.8,30.3 476.9,30.0 478.0,29.7 479.0,29.5 480.0,29.2 481.0,29.0 482.0,28.8 483.1,28.5 484.1,28.3 485.2,28.1 486.2,27.9 487.3,27.7 488.3,27.4 489.4,27.2 490.4,27.0 491.4,26.8 492.5,26.5 493.5,26.3 494.6,26.1 495.6,25.9 496.6,25.6 497.7,25.4 498.7,25.2 499.8,24.9 500.9,24.7 501.9,24.5 503.0,24.3 504.0,24.1 505.1,23.9 506.3,23.7 507.5,23.5 508.7,23.3 509.9,23.1 511.0,22.9 512.1,22.7 513.2,22.5 514.1,22.4 515.0,22.2 515.7,22.1 516.3,22.0" fill="none" stroke="#858585" stroke-width="1.0" stroke-linejoin="round" stroke-linecap="round"/>
<polyline points="429.2,63.3 429.5,62.8 430.0,62.2 430.5,61.4 431.0,60.5 431.7,59.6 432.3,58.7 433.0,57.7 433.7,56.7 434.3,55.8 435.0,55.0 435.6,54.2 436.3,53.4 437.0,52.7 437.6,51.9 438.3,51.1 439.0,50.4 439.8,49.6 440.5,48.9 441.2,48.2 442.0,47.5 442.8,46.8 443.6,46.1 444.4,45.5 445.3,44.8 446.2,44.2 447.0,43.6 447.9,43.0 448.7,42.4 449.6,41.8 450.4,41.3 451.4,40.7 452.3,40.0 453.3,39.5 454.2,38.9 455.1,38.4 456.0,37.8 457.0,37.3 458.0,36.8 458.9,36.3 459.8,35.9 460.7,35.5 461.6,35.0 462.6,34.6 463.6,34.2 464.6,33.8 465.6,33.4 466.7,33.0 467.6,32.7 468.6,32.4 469.6,32.0 470.6,31.7 471.6,31.4 472.6,31.1 473.7,30.8 474.8,30.5 475.8,30.3 476.9,30.0 478.0,29.7 479.0,29.5 480.0,29.2 481.0,29.0 482.0,28.8 483.1,28.5 484.1,28.3 485.2,28.1 486.2,27.9 487.3,27.7 488.3,27.4 489.4,27.2 490.4,27.0 491.4,26.8 492.5,26.5 493.5,26.3 494.6,26.1 495.6,25.9 496.6,25.6 497.7,25.4 498.7,25.2 499.8,24.9 500.9,24.7 501.9,24.5 503.0,24.3 504.0,24.1 505.1,23.9 506.3,23.7 507.5,23.5 508.7,23.3 509.9,23.1 511.0,22.9 512.1,22.7 513.2,22.5 514.1,22.4 515.0,22.2 515.7,22.1 516.3,22.0" fill="none" stroke="#2a2a2a" stroke-width="1.1" stroke-dasharray="0.9 2.6"/>
<circle cx="429.2" cy="63.3" r="0.95" fill="#57c45e" fill-opacity="0.8"/>
<circle cx="430" cy="61.5" r="0.95" fill="#f25a55" fill-opacity="0.8"/>
<circle cx="450.4" cy="41.3" r="0.95" fill="#e9d23a" fill-opacity="0.8"/>
<circle cx="516.3" cy="22" r="0.95" fill="#e9d23a" fill-opacity="0.8"/>
<text transform="translate(468.97,58.30) scale(1.0949,1)" font-size="14.35" font-weight="normal" fill="#ff0c0c" stroke="#ff0c0c" stroke-width="0.2">5.4 µM</text>
<line x1="300" y1="175.3" x2="300" y2="309.1" stroke="#6e7f96" stroke-width="1.3"/>
<line x1="299.4" y1="309.1" x2="535" y2="309.1" stroke="#6e7f96" stroke-width="1.3"/>
<line x1="296.8" y1="196" x2="300" y2="196" stroke="#6e7f96" stroke-width="1.2"/>
<text x="295" y="198.1" font-size="6" fill="#36425c" font-weight="normal" text-anchor="end">4</text>
<line x1="296.8" y1="219.3" x2="300" y2="219.3" stroke="#6e7f96" stroke-width="1.2"/>
<text x="295" y="221.4" font-size="6" fill="#36425c" font-weight="normal" text-anchor="end">3</text>
<line x1="296.8" y1="242.7" x2="300" y2="242.7" stroke="#6e7f96" stroke-width="1.2"/>
<text x="295" y="244.79999999999998" font-size="6" fill="#36425c" font-weight="normal" text-anchor="end">2</text>
<line x1="296.8" y1="266.1" x2="300" y2="266.1" stroke="#6e7f96" stroke-width="1.2"/>
<text x="295" y="268.20000000000005" font-size="6" fill="#36425c" font-weight="normal" text-anchor="end">1</text>
<line x1="296.8" y1="289.3" x2="300" y2="289.3" stroke="#6e7f96" stroke-width="1.2"/>
<text x="295" y="291.40000000000003" font-size="6" fill="#36425c" font-weight="normal" text-anchor="end">0</text>
<line x1="298.2" y1="184.4" x2="300" y2="184.4" stroke="#6e7f96" stroke-width="1.0"/>
<line x1="298.2" y1="207.7" x2="300" y2="207.7" stroke="#6e7f96" stroke-width="1.0"/>
<line x1="298.2" y1="231" x2="300" y2="231" stroke="#6e7f96" stroke-width="1.0"/>
<line x1="298.2" y1="254.4" x2="300" y2="254.4" stroke="#6e7f96" stroke-width="1.0"/>
<line x1="298.2" y1="277.7" x2="300" y2="277.7" stroke="#6e7f96" stroke-width="1.0"/>
<line x1="298.2" y1="300.9" x2="300" y2="300.9" stroke="#6e7f96" stroke-width="1.0"/>
<line x1="306.7" y1="309.1" x2="306.7" y2="312.90000000000003" stroke="#6e7f96" stroke-width="1.2"/>
<line x1="347.4" y1="309.1" x2="347.4" y2="312.90000000000003" stroke="#6e7f96" stroke-width="1.2"/>
<line x1="388.1" y1="309.1" x2="388.1" y2="312.90000000000003" stroke="#6e7f96" stroke-width="1.2"/>
<line x1="429.3" y1="309.1" x2="429.3" y2="312.90000000000003" stroke="#6e7f96" stroke-width="1.2"/>
<line x1="470" y1="309.1" x2="470" y2="312.90000000000003" stroke="#6e7f96" stroke-width="1.2"/>
<line x1="510.7" y1="309.1" x2="510.7" y2="312.90000000000003" stroke="#6e7f96" stroke-width="1.2"/>
<text x="347.4" y="319.8" font-size="6" fill="#36425c" font-weight="normal" text-anchor="middle">0</text>
<text x="429.3" y="319.8" font-size="6" fill="#36425c" font-weight="normal" text-anchor="middle">100</text>
<text x="510.7" y="319.8" font-size="6" fill="#36425c" font-weight="normal" text-anchor="middle">200</text>
<text transform="translate(366.50,183.80) scale(0.9722,1)" font-size="20.57" font-weight="bold" fill="#000" stroke="#000" stroke-width="0.5">2</text>
<text transform="translate(373.11,288.20) scale(1.0073,1)" font-size="16.06" font-weight="bold" fill="#000" stroke="#000" stroke-width="0.5">S2</text>
<polyline points="316.8,289.7 316.8,288.3 316.9,286.3 316.9,284.8 317.0,285.0 317.0,285.5 317.0,286.2 317.1,287.0 317.1,288.0 317.1,289.2 317.1,290.4 317.1,291.7 317.2,293.1 317.2,294.4 317.2,295.7 317.2,297.0 317.2,298.2 317.3,299.2 317.3,300.1 317.3,300.8 317.4,301.4 317.4,301.6 317.4,301.6 317.5,301.1 317.5,300.3 317.5,299.1 317.6,297.8 317.6,296.3 317.7,294.8 317.8,293.3 317.9,291.9 318.0,290.7 318.2,290.0 318.9,289.6 319.9,289.2 321.0,288.5 322.0,288.8 323.0,289.5 324.0,289.5 325.0,289.5 326.0,289.9 327.0,289.4 328.0,290.0 329.0,290.3 330.0,290.0 331.0,288.7 332.1,288.3 333.1,288.4 334.0,288.7 335.1,289.3 336.0,290.3 337.0,290.5 338.0,289.9 338.9,289.4 340.0,288.5 341.0,288.6 342.0,289.0 343.0,289.5 344.0,290.4 345.2,290.9 346.3,291.3 347.0,291.7" fill="none" stroke="#cc80d8" stroke-width="1.0" stroke-linejoin="round" stroke-linecap="round"/>
<polyline points="316.8,288.9 316.8,287.6 316.9,285.6 316.9,284.1 317.0,284.4 317.0,284.9 317.0,285.6 317.1,286.4 317.1,287.5 317.1,288.7 317.1,289.9 317.1,291.3 317.2,292.6 317.2,294.0 317.2,295.3 317.2,296.6 317.2,297.8 317.3,298.8 317.3,299.8 317.3,300.5 317.4,301.0 317.4,301.3 317.4,301.3 317.5,300.8 317.5,299.9 317.5,298.7 317.6,297.3 317.6,295.8 317.7,294.3 317.8,292.8 317.9,291.4 318.0,290.3 318.2,289.5 318.9,289.0 319.9,288.6 321.0,288.1 322.0,287.6 323.0,288.6 324.0,288.6 325.0,288.5 326.0,288.8 327.0,288.6 328.0,289.0 329.0,289.3 330.0,289.3 331.0,288.8 332.1,288.0 333.1,288.2 334.0,288.7 335.1,289.2 336.0,289.3 337.0,289.5 338.0,289.2 338.9,289.0 340.0,289.0 341.0,289.2 342.0,289.5 343.0,289.9 344.0,290.2 345.2,289.9 346.3,290.5 347.0,290.9" fill="none" stroke="#f27fb8" stroke-width="1.0" stroke-linejoin="round" stroke-linecap="round"/>
<polyline points="316.8,289.0 316.8,287.7 316.9,285.7 316.9,284.2 317.0,284.5 317.0,285.0 317.0,285.7 317.1,286.6 317.1,287.7 317.1,288.9 317.1,290.1 317.1,291.5 317.2,292.9 317.2,294.2 317.2,295.6 317.2,296.9 317.2,298.1 317.3,299.1 317.3,300.1 317.3,300.8 317.4,301.3 317.4,301.6 317.4,301.5 317.5,301.1 317.5,300.2 317.5,299.1 317.6,297.8 317.6,296.4 317.6,294.9 317.7,293.4 317.8,292.0 317.9,290.7 318.0,289.7 318.2,288.9 318.9,287.4 319.9,287.3 321.0,287.5 322.0,286.4 323.0,287.7 324.0,288.2 325.0,288.4 326.0,288.7 327.0,288.7 328.0,287.9 329.0,287.8 330.0,288.2 331.0,287.7 332.1,286.9 333.1,287.0 334.0,287.4 335.1,287.4 336.0,288.5 337.0,288.5 338.0,287.9 338.9,287.9 340.0,286.6 341.0,286.6 342.0,287.1 343.0,287.6 344.0,288.0 345.2,289.1 346.3,289.2 347.0,289.2" fill="none" stroke="#57c45e" stroke-width="1.0" stroke-linejoin="round" stroke-linecap="round"/>
<polyline points="316.8,288.9 316.8,287.5 316.9,285.5 316.9,284.1 317.0,284.3 317.0,284.8 317.0,285.5 317.1,286.4 317.1,287.5 317.1,288.7 317.1,290.0 317.1,291.3 317.2,292.7 317.2,294.1 317.2,295.4 317.2,296.7 317.2,297.9 317.3,298.9 317.3,299.8 317.3,300.5 317.4,301.0 317.4,301.3 317.4,301.2 317.5,300.7 317.5,300.0 317.5,299.0 317.5,297.7 317.6,296.4 317.6,294.9 317.7,293.4 317.7,292.0 317.8,290.6 317.9,289.4 318.0,288.4 318.2,287.7 318.9,287.0 319.9,286.6 321.0,286.4 322.0,286.5 323.0,286.7 324.0,286.8 325.0,287.2 326.0,287.8 327.0,288.1 328.0,287.2 329.0,286.8 330.0,287.0 331.0,286.4 332.1,286.6 333.1,286.5 334.0,286.3 335.1,286.1 336.0,286.9 337.0,287.7 338.0,287.8 338.9,287.5 340.0,287.0 341.0,287.2 342.0,287.2 343.0,287.1 344.0,287.7 345.2,288.5 346.3,288.7 347.0,288.7" fill="none" stroke="#f7a23d" stroke-width="1.0" stroke-linejoin="round" stroke-linecap="round"/>
<polyline points="316.8,288.3 316.8,287.0 316.9,285.0 316.9,283.6 317.0,283.9 317.0,284.4 317.0,285.1 317.1,286.0 317.1,287.1 317.1,288.3 317.1,289.6 317.1,290.9 317.2,292.3 317.2,293.7 317.2,295.0 317.2,296.3 317.2,297.5 317.3,298.6 317.3,299.5 317.3,300.3 317.4,300.8 317.4,301.1 317.4,301.1 317.5,300.6 317.5,299.8 317.5,298.7 317.6,297.5 317.6,296.1 317.6,294.6 317.7,293.2 317.8,291.8 317.9,290.6 318.0,289.6 318.2,288.9 318.9,287.5 319.9,287.1 321.0,287.3 322.0,287.1 323.0,288.0 324.0,288.3 325.0,288.5 326.0,288.9 327.0,289.1 328.0,288.6 329.0,288.1 330.0,287.9 331.0,287.2 332.1,287.7 333.1,287.2 334.0,286.7 335.1,287.6 336.0,288.1 337.0,289.0 338.0,288.9 338.9,287.8 340.0,287.5 341.0,287.7 342.0,288.3 343.0,289.2 344.0,289.8 345.2,289.4 346.3,290.1 347.0,290.5" fill="none" stroke="#e9d23a" stroke-width="1.0" stroke-linejoin="round" stroke-linecap="round"/>
<line x1="349.3" y1="292" x2="349.3" y2="270" stroke="#f7a23d" stroke-width="1.0"/>
<polyline points="349.5,257.7 349.5,257.2 349.5,256.6 349.5,256.0 349.5,255.3 349.5,254.5 349.5,253.8 349.5,252.9 349.6,252.0 349.6,251.1 349.6,250.2 349.6,249.2 349.6,248.1 349.6,247.1 349.6,246.0 349.6,244.9 349.6,243.8 349.6,242.6 349.6,241.5 349.7,240.3 349.7,239.1 349.7,237.9 349.7,236.7 349.7,235.5 349.7,234.3 349.7,233.1 349.7,231.9 349.8,230.7 349.8,229.6 349.8,228.4 349.8,227.3 349.8,226.1 349.8,225.0 349.8,223.9 349.9,222.8 349.9,221.8 349.9,220.8 349.9,219.8 349.9,218.9 349.9,218.0 349.9,217.1 350.0,216.3 350.0,215.5 350.0,214.8 350.0,213.1 350.1,211.6 350.1,210.2 350.2,208.9 350.2,207.7 350.3,206.6 350.4,205.6 350.4,204.7 350.5,203.9 350.5,203.0 350.6,202.3 350.7,201.6 350.7,200.8 350.8,200.1 350.9,199.4 350.9,198.7 351.0,198.0 351.1,196.6 351.3,195.4 351.4,194.3 351.6,193.2 351.8,192.3 352.0,191.4 352.1,190.6 352.3,189.9 352.5,189.2 353.1,187.5 353.7,186.6 354.4,186.3 355.1,186.6 355.9,187.6 357.0,188.9 357.5,189.7 358.1,190.6 358.7,191.5 359.4,192.5 360.0,193.4 360.7,194.3 361.4,195.1 362.0,196.0 362.6,196.9 363.3,197.8 364.0,198.8 364.6,199.8 365.3,200.8 365.9,201.7 366.5,202.5 367.0,203.3 367.8,204.3 368.5,205.1 369.2,205.8 370.0,206.3 370.8,206.6 371.6,206.8 372.5,206.9 373.6,207.1 375.0,207.3 375.8,207.4 376.7,207.5 377.6,207.6 378.6,207.9 379.7,208.1 380.8,208.1 381.8,208.2 382.9,208.4 384.0,208.5 385.0,208.8 386.0,209.1 387.0,209.4 388.0,209.7 389.0,210.1 390.0,210.5 391.0,210.9 392.0,211.4 393.0,211.5 394.0,211.6 395.0,211.8 396.0,212.2 397.2,212.5 398.3,212.8 399.5,213.1 400.6,213.2 401.7,213.3 402.7,213.3 403.6,213.3 404.4,213.3 405.0,213.4" fill="none" stroke="#e9d23a" stroke-width="1.2" stroke-linejoin="round" stroke-linecap="round"/>
<polyline points="349.5,262.1 349.5,261.6 349.5,261.0 349.5,260.3 349.5,259.6 349.5,258.8 349.5,258.0 349.5,257.1 349.6,256.2 349.6,255.2 349.6,254.2 349.6,253.1 349.6,252.0 349.6,250.9 349.6,249.8 349.6,248.6 349.6,247.5 349.6,246.3 349.7,245.1 349.7,243.9 349.7,242.7 349.7,241.4 349.7,240.2 349.7,239.0 349.7,237.9 349.7,236.7 349.8,235.5 349.8,234.4 349.8,233.3 349.8,232.2 349.8,231.2 349.9,230.2 349.9,229.2 349.9,228.3 349.9,227.5 349.9,226.6 350.0,225.9 350.0,225.2 350.1,223.4 350.2,221.8 350.3,220.4 350.4,219.2 350.5,218.1 350.6,217.2 350.7,216.4 350.8,215.6 351.0,214.9 351.1,214.3 351.2,213.6 351.4,213.0 351.5,212.2 351.8,210.7 352.1,209.4 352.5,208.3 352.8,207.3 353.2,206.5 353.5,205.7 354.4,204.0 355.6,203.8 356.2,204.2 356.8,204.7 357.4,205.4 358.2,206.1 359.0,206.9 360.0,207.8 360.7,208.5 361.4,209.3 362.3,210.1 363.1,210.8 364.0,211.6 364.9,212.3 365.8,213.0 366.6,213.7 367.3,214.4 368.0,215.0 368.9,216.0 369.5,216.7 369.9,217.2 370.7,217.6 372.0,217.9 372.7,218.2 373.5,218.5 374.4,218.8 375.4,218.8 376.5,218.9 377.6,219.0 378.7,219.2 379.8,219.4 380.9,219.6 382.0,219.8 383.1,219.9 384.1,220.0 385.0,220.1 386.1,220.1 387.2,220.1 388.2,220.4 389.2,220.7 390.2,220.8 391.1,220.8 392.1,220.8 393.0,221.0 394.0,221.3 395.0,221.5 396.0,221.7 397.2,221.9 398.3,222.4 399.5,222.8 400.6,223.1 401.7,223.3 402.7,223.5 403.6,223.8 404.4,224.0 405.0,224.3" fill="none" stroke="#cc80d8" stroke-width="1.2" stroke-linejoin="round" stroke-linecap="round"/>
<polyline points="349.5,246.2 349.5,245.5 349.6,244.6 349.6,243.5 349.6,242.4 349.7,241.1 349.8,240.0 349.9,238.9 350.0,238.0 350.4,236.6 350.8,235.5 351.4,234.7 352.0,234.0 352.9,233.2 354.0,232.8 355.0,232.4 356.0,232.5 356.9,233.6 358.0,234.4 358.7,234.6 359.4,234.7 360.3,235.0 362.0,235.0 362.7,235.2 363.5,235.6 364.3,235.9 365.3,235.9 366.3,236.3 367.3,236.6 368.4,236.6 369.4,236.8 370.6,237.2 371.7,237.4 372.8,237.6 373.9,237.7 375.0,237.9 375.9,238.0 376.9,238.1 377.9,238.0 378.9,238.0 379.9,238.1 380.9,238.2 381.9,238.4 382.9,238.7 383.9,238.8 384.9,238.8 385.9,238.9 387.0,239.0 388.0,239.1 389.0,239.2 390.0,239.1 391.0,238.7 392.1,239.0 393.2,239.3 394.4,239.6 395.6,239.4 396.7,239.8 397.9,240.3 399.0,240.4 400.1,240.3 401.1,240.2 402.1,240.2 403.0,240.3 403.8,240.4 404.4,240.5 405.0,240.6" fill="none" stroke="#c09a3c" stroke-width="1.2" stroke-linejoin="round" stroke-linecap="round"/>
<polyline points="349.5,258.5 349.7,257.2 351.0,255.4 351.6,255.3 352.3,255.3 353.0,255.3 353.9,255.1 354.8,255.3 355.9,256.1 357.1,255.4 358.5,255.5 360.0,255.8 360.7,255.7 361.5,255.8 362.4,255.9 363.2,255.7 364.1,255.6 365.0,255.6 366.0,255.6 367.0,255.6 368.0,255.4 369.0,255.3 370.0,255.5 371.1,255.6 372.2,255.7 373.3,256.1 374.4,256.0 375.5,255.7 376.6,255.5 377.7,255.4 378.9,255.5 380.0,255.9 380.9,256.3 381.9,256.3 382.9,255.6 384.0,255.8 385.1,256.1 386.2,256.4 387.3,256.0 388.5,256.1 389.7,256.6 390.8,256.7 392.0,256.7 393.2,256.5 394.3,255.9 395.5,256.6 396.6,256.6 397.6,256.2 398.7,256.6 399.7,256.8 400.6,256.8 401.5,256.7 402.4,256.6 403.1,256.7 403.8,256.9 404.5,256.9 405.0,256.9" fill="none" stroke="#f27fb8" stroke-width="1.2" stroke-linejoin="round" stroke-linecap="round"/>
<polyline points="349.5,278.8 349.5,278.2 349.6,277.4 349.7,276.4 349.8,275.3 349.8,274.2 349.9,273.0 350.0,271.9 350.1,270.8 350.2,269.9 350.3,268.7 350.4,267.6 350.5,266.5 350.6,265.6 350.8,264.8 351.0,264.1 351.6,263.0 353.0,262.3 353.6,262.5 354.3,262.7 355.0,262.3 355.8,261.9 356.9,261.8 358.3,261.2 360.0,260.5 360.7,260.4 361.5,260.3 362.2,260.1 363.1,260.2 364.0,260.2 364.9,260.0 365.8,260.1 366.8,260.6 367.8,260.5 368.9,260.3 369.9,260.7 371.0,260.8 372.1,260.7 373.2,260.3 374.3,260.1 375.5,260.1 376.6,260.2 377.7,260.0 378.9,260.2 380.0,260.6 380.9,260.4 381.9,260.2 382.9,260.2 384.0,260.7 385.1,261.0 386.2,260.7 387.3,261.2 388.5,261.4 389.7,261.5 390.8,261.3 392.0,261.0 393.2,260.9 394.3,260.8 395.5,261.0 396.6,261.4 397.6,261.8 398.7,261.7 399.7,261.6 400.6,261.5 401.5,261.4 402.4,261.3 403.1,261.5 403.8,261.7 404.5,261.8 405.0,261.9" fill="none" stroke="#57c45e" stroke-width="1.2" stroke-linejoin="round" stroke-linecap="round"/>
<polyline points="349.5,278.5 349.7,277.7 350.0,276.5 350.4,275.3 351.0,274.6 351.7,274.3 352.5,274.3 353.5,274.4 355.0,273.8 355.7,273.6 356.5,273.7 357.4,273.9 358.3,273.9 359.3,273.8 360.4,274.0 361.4,274.3 362.6,274.3 363.8,274.3 365.0,274.1 365.8,274.1 366.7,274.3 367.5,274.4 368.4,274.2 369.3,274.0 370.2,273.7 371.1,273.4 372.0,273.2 373.0,273.1 374.1,273.1 375.2,273.1 376.3,273.1 377.5,273.0 378.7,272.5 380.0,272.3 380.8,272.5 381.7,272.6 382.7,272.3 383.7,272.1 384.8,272.2 385.9,272.1 387.0,271.5 388.1,271.2 389.3,271.3 390.5,271.0 391.7,270.7 392.8,270.9 394.0,270.8 395.2,270.6 396.3,270.5 397.4,270.4 398.5,270.2 399.5,270.1 400.5,270.3 401.4,270.6 402.3,270.4 403.1,270.2 403.8,270.0 404.5,269.9 405.0,269.7" fill="none" stroke="#35ad6a" stroke-width="1.2" stroke-linejoin="round" stroke-linecap="round"/>
<polyline points="349.5,278.3 349.7,277.4 350.0,276.2 350.4,274.9 351.0,273.9 351.7,273.3 352.5,272.7 353.5,272.3 355.0,272.0 355.7,271.9 356.5,272.0 357.4,272.1 358.3,272.1 359.3,272.2 360.4,272.3 361.4,272.4 362.6,272.2 363.8,272.1 365.0,272.0 365.8,272.0 366.7,272.0 367.5,272.0 368.4,272.2 369.3,272.3 370.2,272.0 371.1,271.6 372.0,271.4 373.0,271.5 374.1,271.5 375.2,271.4 376.3,271.3 377.5,271.3 378.7,271.1 380.0,271.0 380.8,271.1 381.7,271.2 382.7,271.2 383.7,271.1 384.8,270.8 385.9,270.5 387.0,270.2 388.1,270.2 389.3,270.5 390.5,270.5 391.7,270.4 392.8,270.1 394.0,269.9 395.2,270.0 396.3,270.0 397.4,270.0 398.5,269.9 399.5,269.9 400.5,269.4 401.4,269.0 402.3,268.9 403.1,268.9 403.8,268.9 404.5,269.0 405.0,269.2" fill="none" stroke="#f7a23d" stroke-width="1.2" stroke-linejoin="round" stroke-linecap="round"/>
<polyline points="349.5,279.4 349.7,278.4 350.0,277.1 350.4,275.7 351.0,274.6 351.7,273.8 352.5,273.3 353.5,272.8 355.0,272.6 355.7,272.6 356.5,272.7 357.4,272.9 358.3,273.2 359.3,273.6 360.4,273.8 361.4,273.9 362.6,273.6 363.8,273.4 365.0,273.4 365.8,273.4 366.7,273.3 367.5,273.3 368.4,273.4 369.3,273.5 370.2,273.3 371.1,272.9 372.0,272.7 373.0,272.5 374.1,272.4 375.2,272.3 376.3,272.0 377.5,271.6 378.7,271.7 380.0,271.7 380.8,271.5 381.7,271.3 382.7,271.6 383.7,271.7 384.8,271.4 385.9,271.3 387.0,271.5 388.1,271.3 389.3,270.9 390.5,270.7 391.7,270.5 392.8,270.9 394.0,271.0 395.2,270.8 396.3,270.3 397.4,269.7 398.5,270.1 399.5,270.5 400.5,270.3 401.4,270.2 402.3,270.1 403.1,270.1 403.8,270.0 404.5,269.8 405.0,269.7" fill="none" stroke="#f26b32" stroke-width="1.2" stroke-linejoin="round" stroke-linecap="round"/>
<path d="M406.6,210.3V216.7M411.2,210.3V216.7" stroke="#2c3a52" stroke-width="1.9" fill="none"/>
<line x1="406.6" y1="213.5" x2="411.2" y2="213.5" stroke="#2c3a52" stroke-width="1.8"/>
<path d="M406.6,221.8V228.2M411.2,221.8V228.2" stroke="#2c3a52" stroke-width="1.9" fill="none"/>
<line x1="406.6" y1="225.0" x2="411.2" y2="225.0" stroke="#2c3a52" stroke-width="1.8"/>
<path d="M406.6,238.5V244.8M411.2,238.5V244.8" stroke="#2c3a52" stroke-width="1.9" fill="none"/>
<line x1="406.6" y1="241.7" x2="411.2" y2="241.7" stroke="#2c3a52" stroke-width="1.8"/>
<path d="M406.6,255.0V263.0M411.2,255.0V263.0" stroke="#2c3a52" stroke-width="1.9" fill="none"/>
<line x1="406.6" y1="257.5" x2="411.2" y2="257.5" stroke="#2c3a52" stroke-width="1.8"/>
<line x1="406.6" y1="260.5" x2="411.2" y2="260.5" stroke="#2c3a52" stroke-width="1.8"/>
<path d="M406.6,265.6V273.1M411.2,265.6V273.1" stroke="#2c3a52" stroke-width="1.9" fill="none"/>
<line x1="406.6" y1="268.0" x2="411.2" y2="268.0" stroke="#2c3a52" stroke-width="1.8"/>
<line x1="406.6" y1="271.3" x2="411.2" y2="271.3" stroke="#2c3a52" stroke-width="1.8"/>
<line x1="414.5" y1="270" x2="414.5" y2="291" stroke="#cc80d8" stroke-width="1.0"/>
<polyline points="414.5,290.9 414.5,290.1 414.4,288.9 414.5,287.7 415.0,286.9 415.5,286.7 416.0,286.7 416.7,286.9 418.0,287.1 420.0,286.9 420.7,286.8 421.4,286.7 422.2,287.0 423.0,287.5 423.9,287.9 424.9,288.4 425.9,288.5 426.9,288.5 428.0,288.5 429.1,288.6 430.2,288.7 431.3,288.7 432.4,288.8 433.5,288.7 434.6,288.7 435.8,288.7 436.9,288.9 437.9,289.1 439.0,289.3 440.0,289.5 441.0,289.6 442.0,289.8 442.9,289.9 443.8,289.8 444.8,289.8 445.7,289.7 446.6,289.6 447.5,289.5 448.4,289.4 449.4,289.2 450.3,289.5 451.3,289.8 452.3,290.2 453.3,290.4 454.3,290.1 455.4,289.7 456.5,289.4 457.6,289.3 458.8,289.1 460.0,289.0 460.8,289.1 461.7,289.1 462.6,289.2 463.5,289.3 464.5,289.5 465.4,289.6 466.4,289.7 467.3,289.9 468.3,290.1 469.4,290.3 470.4,290.5 471.4,290.2 472.4,289.9 473.5,289.6 474.5,289.5 475.6,289.7 476.6,289.9 477.7,290.0 478.8,289.7 479.8,289.5 480.9,289.2 481.9,289.0 483.0,288.9 484.0,288.7 485.0,288.9 486.0,289.5 487.1,290.0 488.1,290.5 489.0,290.2 490.0,290.0 491.1,289.7 492.2,289.6 493.3,289.5 494.5,289.4 495.6,289.4 496.8,289.5 498.0,289.7 499.2,289.5 500.4,289.1 501.6,288.7 502.7,288.9 503.9,289.3 505.1,289.8 506.2,289.7 507.3,289.4 508.4,289.0 509.4,288.9 510.5,289.3 511.4,289.6 512.4,290.0 513.3,289.6 514.1,289.2 514.9,288.9 515.7,288.5 516.3,288.4 517.0,288.5 517.5,288.6" fill="none" stroke="#cc80d8" stroke-width="1.2" stroke-linejoin="round" stroke-linecap="round"/>
<polyline points="414.5,289.7 414.5,288.9 414.5,287.7 415.0,286.9 415.5,286.6 416.0,286.4 416.7,286.3 418.0,286.5 420.0,285.5 420.7,285.3 421.4,284.9 422.2,285.0 423.0,285.0 423.9,285.1 424.9,285.2 425.9,285.4 426.9,285.5 428.0,285.6 429.1,285.7 430.2,285.6 431.3,285.6 432.4,285.6 433.5,285.7 434.6,285.8 435.8,286.0 436.9,286.4 437.9,286.8 439.0,287.1 440.0,287.0 441.0,286.8 442.0,286.6 442.9,286.4 443.8,286.2 444.8,286.0 445.7,285.8 446.6,286.0 447.5,286.4 448.4,286.7 449.4,287.1 450.3,286.9 451.3,286.5 452.3,286.2 453.3,286.0 454.3,286.3 455.4,286.7 456.5,287.0 457.6,286.6 458.8,286.1 460.0,285.6 460.8,285.9 461.7,286.2 462.6,286.6 463.5,286.9 464.5,286.9 465.4,286.9 466.4,286.9 467.3,286.9 468.3,287.0 469.4,287.0 470.4,287.0 471.4,287.3 472.4,287.5 473.5,287.8 474.5,287.9 475.6,287.8 476.6,287.7 477.7,287.6 478.8,287.4 479.8,287.1 480.9,286.9 481.9,287.0 483.0,287.1 484.0,287.2 485.0,287.2 486.0,287.0 487.1,286.8 488.1,286.6 489.0,286.9 490.0,287.3 491.1,287.6 492.2,287.7 493.3,287.6 494.5,287.4 495.6,287.3 496.8,287.1 498.0,286.9 499.2,287.0 500.4,287.3 501.6,287.7 502.7,287.9 503.9,288.0 505.1,288.1 506.2,287.8 507.3,287.4 508.4,287.0 509.4,286.9 510.5,287.2 511.4,287.6 512.4,287.9 513.3,287.9 514.1,287.9 514.9,287.9 515.7,287.9 516.3,287.7 517.0,287.5 517.5,287.4" fill="none" stroke="#57c45e" stroke-width="1.2" stroke-linejoin="round" stroke-linecap="round"/>
<polyline points="414.5,288.6 414.4,287.7 415.0,286.5 415.5,285.9 416.0,285.3 416.7,284.6 418.0,283.9 420.0,283.6 420.7,283.5 421.4,283.4 422.2,283.7 423.0,283.9 423.9,284.3 424.9,284.6 425.9,284.3 426.9,283.9 428.0,283.6 429.1,283.5 430.2,283.8 431.3,284.1 432.4,284.3 433.5,284.4 434.6,284.5 435.8,284.5 436.9,284.6 437.9,284.7 439.0,284.7 440.0,284.5 441.0,284.2 442.0,283.9 442.9,283.9 443.8,284.1 444.8,284.3 445.7,284.6 446.6,284.6 447.5,284.4 448.4,284.3 449.4,284.2 450.3,284.3 451.3,284.5 452.3,284.7 453.3,284.6 454.3,284.1 455.4,283.6 456.5,283.1 457.6,283.6 458.8,284.3 460.0,284.9 460.8,284.5 461.7,284.2 462.6,283.8 463.5,283.4 464.5,283.8 465.4,284.2 466.4,284.5 467.3,284.7 468.3,284.6 469.4,284.5 470.4,284.3 471.4,284.5 472.4,284.7 473.5,285.0 474.5,284.9 475.6,284.6 476.6,284.2 477.7,284.0 478.8,284.1 479.8,284.2 480.9,284.3 481.9,284.3 483.0,284.2 484.0,284.1 485.0,284.2 486.0,284.7 487.1,285.1 488.1,285.5 489.0,285.4 490.0,285.3 491.1,285.1 492.2,285.0 493.3,284.8 494.5,284.6 495.6,284.5 496.8,284.5 498.0,284.5 499.2,284.5 500.4,284.4 501.6,284.3 502.7,284.4 503.9,284.4 505.1,284.5 506.2,284.7 507.3,284.9 508.4,285.2 509.4,285.3 510.5,285.2 511.4,285.1 512.4,285.1 513.3,285.2 514.1,285.3 514.9,285.4 515.7,285.5 516.3,285.5 517.0,285.3 517.5,285.1" fill="none" stroke="#f7a23d" stroke-width="1.2" stroke-linejoin="round" stroke-linecap="round"/>
<polyline points="414.5,287.6 414.4,286.8 415.0,285.4 415.5,284.8 416.0,284.2 416.7,283.4 418.0,282.5 420.0,283.1 420.7,283.4 421.4,283.7 422.2,283.6 423.0,283.5 423.9,283.4 424.9,283.2 425.9,282.9 426.9,282.6 428.0,282.3 429.1,282.2 430.2,282.3 431.3,282.4 432.4,282.4 433.5,282.1 434.6,281.9 435.8,281.7 436.9,281.7 437.9,281.8 439.0,281.8 440.0,282.1 441.0,282.3 442.0,282.6 442.9,282.7 443.8,282.7 444.8,282.8 445.7,282.8 446.6,282.5 447.5,282.2 448.4,281.8 449.4,281.5 450.3,281.6 451.3,281.8 452.3,282.1 453.3,282.2 454.3,282.0 455.4,281.8 456.5,281.6 457.6,281.7 458.8,281.8 460.0,281.9 460.8,282.0 461.7,282.2 462.6,282.4 463.5,282.5 464.5,282.2 465.4,281.9 466.4,281.6 467.3,281.4 468.3,281.5 469.4,281.5 470.4,281.5 471.4,281.6 472.4,281.8 473.5,282.0 474.5,282.3 475.6,282.7 476.6,283.1 477.7,283.3 478.8,283.0 479.8,282.7 480.9,282.5 481.9,282.7 483.0,283.0 484.0,283.3 485.0,283.3 486.0,282.9 487.1,282.6 488.1,282.3 489.0,282.7 490.0,283.0 491.1,283.4 492.2,283.6 493.3,283.7 494.5,283.9 495.6,283.8 496.8,283.5 498.0,283.2 499.2,283.0 500.4,282.9 501.6,282.9 502.7,282.8 503.9,282.8 505.1,282.8 506.2,282.8 507.3,282.9 508.4,282.9 509.4,283.0 510.5,283.2 511.4,283.3 512.4,283.4 513.3,283.6 514.1,283.7 514.9,283.9 515.7,284.1 516.3,284.2 517.0,284.3 517.5,284.4" fill="none" stroke="#35ad6a" stroke-width="1.2" stroke-linejoin="round" stroke-linecap="round"/>
<polyline points="414.5,264.3 414.6,264.9 414.6,265.7 414.7,266.7 414.8,267.8 414.9,268.9 415.0,270.1 415.1,271.3 415.3,272.4 415.4,273.5 415.5,274.4 415.7,275.6 415.8,276.7 416.0,277.7 416.2,278.7 416.4,279.7 416.7,280.6 417.0,281.6 417.3,282.7 417.4,283.9 417.7,285.0 418.1,286.0 418.8,286.9 420.0,287.5 420.7,287.7 421.4,287.8 422.2,288.0 423.1,288.2 424.1,288.4 425.1,288.7 426.2,289.1 427.3,289.4 428.4,289.8 429.6,289.6 430.7,289.4 431.8,289.1 432.9,289.2 434.0,289.4 435.0,289.6 436.0,289.8 437.0,289.8 437.9,289.8 438.9,289.8 439.8,290.3 440.8,290.8 441.7,291.3 442.7,291.7 443.6,291.5 444.6,291.2 445.6,291.0 446.7,290.9 447.7,290.8 448.9,290.7 450.0,290.6 450.9,290.7 451.8,290.7 452.7,290.7 453.7,290.8 454.6,291.0 455.6,291.2 456.6,291.2 457.6,290.9 458.7,290.5 459.7,290.2 460.7,290.2 461.8,290.3 462.8,290.5 463.8,290.5 464.9,290.2 465.9,289.8 467.0,289.5 468.0,289.3 469.0,289.2 470.0,289.1 471.0,289.2 472.0,289.5 472.9,289.8 473.9,290.1 474.8,289.7 475.8,289.2 476.7,288.7 477.6,288.4 478.6,288.8 479.5,289.3 480.5,289.8 481.5,289.8 482.4,289.5 483.4,289.2 484.5,288.8 485.5,289.0 486.6,289.2 487.7,289.5 488.8,289.4 490.0,289.2 490.9,289.0 491.9,288.8 492.9,288.5 493.9,288.3 495.0,288.0 496.1,288.0 497.3,287.9 498.4,287.9 499.6,287.9 500.8,287.9 502.0,287.9 503.2,287.8 504.4,287.8 505.6,287.8 506.8,287.8 507.9,287.8 509.0,287.8 510.1,287.8 511.1,287.9 512.1,287.9 513.1,287.9 514.0,287.8 514.8,287.8 515.6,287.7 516.3,287.8 516.9,287.9 517.5,288.0" fill="none" stroke="#e9d23a" stroke-width="1.2" stroke-linejoin="round" stroke-linecap="round"/>
<line x1="423.4" y1="172.2" x2="423.4" y2="230.7" stroke="#9aa3b5" stroke-width="1.0"/>
<line x1="422.9" y1="230.7" x2="522.6" y2="230.7" stroke="#9aa3b5" stroke-width="1.0"/>
<line x1="421.4" y1="225.7" x2="423.4" y2="225.7" stroke="#7f8ea3" stroke-width="0.8"/>
<text x="420.4" y="227.0" font-size="3.4" fill="#5a6578" font-weight="normal" text-anchor="end">0.5</text>
<line x1="421.4" y1="216.95" x2="423.4" y2="216.95" stroke="#7f8ea3" stroke-width="0.8"/>
<text x="420.4" y="218.25" font-size="3.4" fill="#5a6578" font-weight="normal" text-anchor="end">0.5</text>
<line x1="421.4" y1="208.2" x2="423.4" y2="208.2" stroke="#7f8ea3" stroke-width="0.8"/>
<text x="420.4" y="209.5" font-size="3.4" fill="#5a6578" font-weight="normal" text-anchor="end">0.5</text>
<line x1="421.4" y1="199.45" x2="423.4" y2="199.45" stroke="#7f8ea3" stroke-width="0.8"/>
<text x="420.4" y="200.75" font-size="3.4" fill="#5a6578" font-weight="normal" text-anchor="end">0.5</text>
<line x1="421.4" y1="190.7" x2="423.4" y2="190.7" stroke="#7f8ea3" stroke-width="0.8"/>
<text x="420.4" y="192.0" font-size="3.4" fill="#5a6578" font-weight="normal" text-anchor="end">0.5</text>
<line x1="421.4" y1="181.95" x2="423.4" y2="181.95" stroke="#7f8ea3" stroke-width="0.8"/>
<text x="420.4" y="183.25" font-size="3.4" fill="#5a6578" font-weight="normal" text-anchor="end">0.5</text>
<line x1="421.4" y1="173.2" x2="423.4" y2="173.2" stroke="#7f8ea3" stroke-width="0.8"/>
<text x="420.4" y="174.5" font-size="3.4" fill="#5a6578" font-weight="normal" text-anchor="end">0.5</text>
<line x1="431.4" y1="230.7" x2="431.4" y2="232.2" stroke="#7f8ea3" stroke-width="0.8"/>
<text x="431.4" y="236.7" font-size="3.2" fill="#5a6578" font-weight="normal" text-anchor="middle">0.0004</text>
<line x1="448.84" y1="230.7" x2="448.84" y2="232.2" stroke="#7f8ea3" stroke-width="0.8"/>
<text x="448.84" y="236.7" font-size="3.2" fill="#5a6578" font-weight="normal" text-anchor="middle">0.0004</text>
<line x1="466.28" y1="230.7" x2="466.28" y2="232.2" stroke="#7f8ea3" stroke-width="0.8"/>
<text x="466.28" y="236.7" font-size="3.2" fill="#5a6578" font-weight="normal" text-anchor="middle">0.0004</text>
<line x1="483.72" y1="230.7" x2="483.72" y2="232.2" stroke="#7f8ea3" stroke-width="0.8"/>
<text x="483.72" y="236.7" font-size="3.2" fill="#5a6578" font-weight="normal" text-anchor="middle">0.0004</text>
<line x1="501.16" y1="230.7" x2="501.16" y2="232.2" stroke="#7f8ea3" stroke-width="0.8"/>
<text x="501.16" y="236.7" font-size="3.2" fill="#5a6578" font-weight="normal" text-anchor="middle">0.0004</text>
<line x1="518.6" y1="230.7" x2="518.6" y2="232.2" stroke="#7f8ea3" stroke-width="0.8"/>
<text x="518.6" y="236.7" font-size="3.2" fill="#5a6578" font-weight="normal" text-anchor="middle">0.0004</text>
<line x1="473.8" y1="172.2" x2="473.8" y2="230.7" stroke="#b3d3ee" stroke-width="1.15"/>
<polyline points="431.0,213.4 431.4,213.0 431.9,212.5 432.4,211.9 433.0,211.2 433.7,210.5 434.4,209.7 435.1,208.9 435.9,208.1 436.7,207.2 437.5,206.4 438.3,205.6 439.2,204.8 440.0,204.0 440.7,203.4 441.5,202.7 442.3,202.0 443.1,201.3 443.9,200.6 444.8,199.9 445.6,199.3 446.5,198.6 447.3,197.9 448.2,197.3 449.0,196.6 449.9,196.0 450.7,195.4 451.4,194.9 452.2,194.4 453.3,193.7 454.3,193.1 455.3,192.6 456.2,192.1 457.1,191.6 458.1,191.2 459.0,190.8 460.0,190.4 460.9,189.9 462.0,189.5 462.9,189.1 463.9,188.8 464.8,188.4 465.8,188.0 466.8,187.7 467.8,187.3 468.8,187.0 469.8,186.6 470.8,186.3 471.8,186.0 472.8,185.7 473.8,185.4 474.8,185.1 475.9,184.8 476.9,184.5 478.0,184.2 479.0,184.0 480.0,183.7 481.0,183.5 482.0,183.2 483.0,183.0 484.0,182.7 485.0,182.5 486.0,182.2 487.1,182.0 488.1,181.7 489.0,181.4 490.0,181.2 491.0,180.9 492.0,180.7 493.0,180.5 494.0,180.2 495.0,180.0 496.0,179.8 496.9,179.6 497.9,179.4 498.9,179.2 500.0,179.0 501.0,178.8 502.0,178.7 503.0,178.5 504.0,178.3 505.0,178.2 506.0,178.0 507.1,177.8 508.3,177.6 509.5,177.5 510.7,177.3 511.9,177.1 513.1,177.0 514.1,176.8 515.1,176.7 515.9,176.6 516.5,176.5" fill="none" stroke="#858585" stroke-width="1.0" stroke-linejoin="round" stroke-linecap="round"/>
<polyline points="431.0,213.4 431.4,213.0 431.9,212.5 432.4,211.9 433.0,211.2 433.7,210.5 434.4,209.7 435.1,208.9 435.9,208.1 436.7,207.2 437.5,206.4 438.3,205.6 439.2,204.8 440.0,204.0 440.7,203.4 441.5,202.7 442.3,202.0 443.1,201.3 443.9,200.6 444.8,199.9 445.6,199.3 446.5,198.6 447.3,197.9 448.2,197.3 449.0,196.6 449.9,196.0 450.7,195.4 451.4,194.9 452.2,194.4 453.3,193.7 454.3,193.1 455.3,192.6 456.2,192.1 457.1,191.6 458.1,191.2 459.0,190.8 460.0,190.4 460.9,189.9 462.0,189.5 462.9,189.1 463.9,188.8 464.8,188.4 465.8,188.0 466.8,187.7 467.8,187.3 468.8,187.0 469.8,186.6 470.8,186.3 471.8,186.0 472.8,185.7 473.8,185.4 474.8,185.1 475.9,184.8 476.9,184.5 478.0,184.2 479.0,184.0 480.0,183.7 481.0,183.5 482.0,183.2 483.0,183.0 484.0,182.7 485.0,182.5 486.0,182.2 487.1,182.0 488.1,181.7 489.0,181.4 490.0,181.2 491.0,180.9 492.0,180.7 493.0,180.5 494.0,180.2 495.0,180.0 496.0,179.8 496.9,179.6 497.9,179.4 498.9,179.2 500.0,179.0 501.0,178.8 502.0,178.7 503.0,178.5 504.0,178.3 505.0,178.2 506.0,178.0 507.1,177.8 508.3,177.6 509.5,177.5 510.7,177.3 511.9,177.1 513.1,177.0 514.1,176.8 515.1,176.7 515.9,176.6 516.5,176.5" fill="none" stroke="#2a2a2a" stroke-width="1.1" stroke-dasharray="0.9 2.6"/>
<circle cx="431" cy="213.4" r="0.95" fill="#f7a23d" fill-opacity="0.8"/>
<circle cx="432" cy="211.5" r="0.95" fill="#57c45e" fill-opacity="0.8"/>
<circle cx="437" cy="210" r="0.95" fill="#f27fb8" fill-opacity="0.8"/>
<circle cx="452.2" cy="194.4" r="0.95" fill="#e9d23a" fill-opacity="0.8"/>
<circle cx="516.5" cy="176.5" r="0.95" fill="#e9d23a" fill-opacity="0.8"/>
<text transform="translate(470.02,213.60) scale(1.1419,1)" font-size="13.71" font-weight="normal" fill="#ff0c0c" stroke="#ff0c0c" stroke-width="0.2">6.3 µM</text>
<line x1="45.3" y1="328" x2="45.3" y2="463.3" stroke="#6e7f96" stroke-width="1.3"/>
<line x1="44.699999999999996" y1="463.3" x2="276" y2="463.3" stroke="#6e7f96" stroke-width="1.3"/>
<line x1="42.099999999999994" y1="328.9" x2="45.3" y2="328.9" stroke="#6e7f96" stroke-width="1.2"/>
<text x="40.3" y="331.0" font-size="6" fill="#36425c" font-weight="normal" text-anchor="end">2.5</text>
<line x1="42.099999999999994" y1="348.9" x2="45.3" y2="348.9" stroke="#6e7f96" stroke-width="1.2"/>
<text x="40.3" y="351.0" font-size="6" fill="#36425c" font-weight="normal" text-anchor="end">2</text>
<line x1="42.099999999999994" y1="369.1" x2="45.3" y2="369.1" stroke="#6e7f96" stroke-width="1.2"/>
<text x="40.3" y="371.20000000000005" font-size="6" fill="#36425c" font-weight="normal" text-anchor="end">1.5</text>
<line x1="42.099999999999994" y1="389.3" x2="45.3" y2="389.3" stroke="#6e7f96" stroke-width="1.2"/>
<text x="40.3" y="391.40000000000003" font-size="6" fill="#36425c" font-weight="normal" text-anchor="end">1</text>
<line x1="42.099999999999994" y1="409.5" x2="45.3" y2="409.5" stroke="#6e7f96" stroke-width="1.2"/>
<text x="40.3" y="411.6" font-size="6" fill="#36425c" font-weight="normal" text-anchor="end">0.5</text>
<line x1="42.099999999999994" y1="429.7" x2="45.3" y2="429.7" stroke="#6e7f96" stroke-width="1.2"/>
<text x="40.3" y="431.8" font-size="6" fill="#36425c" font-weight="normal" text-anchor="end">0</text>
<line x1="42.099999999999994" y1="449.9" x2="45.3" y2="449.9" stroke="#6e7f96" stroke-width="1.2"/>
<text x="40.3" y="452.0" font-size="6" fill="#36425c" font-weight="normal" text-anchor="end">-0.5</text>
<line x1="43.5" y1="338.9" x2="45.3" y2="338.9" stroke="#6e7f96" stroke-width="1.0"/>
<line x1="43.5" y1="359" x2="45.3" y2="359" stroke="#6e7f96" stroke-width="1.0"/>
<line x1="43.5" y1="379.2" x2="45.3" y2="379.2" stroke="#6e7f96" stroke-width="1.0"/>
<line x1="43.5" y1="399.4" x2="45.3" y2="399.4" stroke="#6e7f96" stroke-width="1.0"/>
<line x1="43.5" y1="419.6" x2="45.3" y2="419.6" stroke="#6e7f96" stroke-width="1.0"/>
<line x1="43.5" y1="439.8" x2="45.3" y2="439.8" stroke="#6e7f96" stroke-width="1.0"/>
<line x1="43.5" y1="460" x2="45.3" y2="460" stroke="#6e7f96" stroke-width="1.0"/>
<line x1="52.9" y1="463.3" x2="52.9" y2="467.1" stroke="#6e7f96" stroke-width="1.2"/>
<line x1="92.1" y1="463.3" x2="92.1" y2="467.1" stroke="#6e7f96" stroke-width="1.2"/>
<line x1="132.3" y1="463.3" x2="132.3" y2="467.1" stroke="#6e7f96" stroke-width="1.2"/>
<line x1="172.3" y1="463.3" x2="172.3" y2="467.1" stroke="#6e7f96" stroke-width="1.2"/>
<line x1="212.3" y1="463.3" x2="212.3" y2="467.1" stroke="#6e7f96" stroke-width="1.2"/>
<line x1="252.2" y1="463.3" x2="252.2" y2="467.1" stroke="#6e7f96" stroke-width="1.2"/>
<text x="92.1" y="476.3" font-size="6" fill="#36425c" font-weight="normal" text-anchor="middle">0</text>
<text x="172.3" y="476.3" font-size="6" fill="#36425c" font-weight="normal" text-anchor="middle">100</text>
<text x="252.2" y="476.3" font-size="6" fill="#36425c" font-weight="normal" text-anchor="middle">200</text>
<path d="M117.31,328.80L120.61,328.80L120.61,342.80L117.31,342.80L117.31,333.84Q115.91,334.68 114.10,335.24L114.10,332.44Q116.90,331.32 117.03,328.80Z" fill="#000" stroke="#000" stroke-width="0.5" stroke-linejoin="round"/>
<text transform="translate(124.08,342.80) scale(1.0200,1)" font-size="20.00" font-weight="bold" fill="#000" stroke="#000" stroke-width="0.5">d</text>
<text transform="translate(100.42,451.80) scale(0.9893,1)" font-size="16.25" font-weight="bold" fill="#000" stroke="#000" stroke-width="0.5">Spike</text>
<polyline points="62.7,429.5 62.7,428.8 62.7,427.7 62.7,426.4 62.7,424.9 62.7,423.3 62.7,421.7 62.7,420.1 62.7,418.7 62.7,417.5 62.7,416.6 62.8,416.1 62.8,416.0 62.8,416.5 62.8,416.9 62.8,417.4 62.8,418.0 62.8,418.7 62.9,419.5 62.9,420.4 62.9,421.4 62.9,422.5 62.9,423.6 62.9,424.8 62.9,426.0 62.9,427.3 63.0,428.6 63.0,429.9 63.0,431.3 63.0,432.6 63.0,434.0 63.0,435.4 63.1,436.7 63.1,438.1 63.1,439.4 63.1,440.6 63.1,441.9 63.1,443.1 63.2,444.2 63.2,445.3 63.2,446.3 63.2,447.2 63.2,448.0 63.2,448.8 63.3,449.4 63.3,449.9 63.3,450.3 63.4,450.9 63.4,450.9 63.5,450.3 63.5,449.2 63.6,447.8 63.7,446.1 63.7,444.4 63.8,442.7 63.9,441.2 63.9,439.9 64.0,439.0 64.3,437.2 64.6,436.3 65.0,435.7 65.6,435.0 66.2,434.2 67.0,432.4 68.0,431.7 69.0,430.6 70.0,430.0 71.0,429.4 72.0,429.4 73.0,430.0 74.0,430.8 75.0,431.5 75.7,431.3 76.3,432.4 77.0,433.2 77.5,433.5 78.1,433.3 78.8,431.5 79.4,429.8 80.0,428.6 81.0,429.4 82.1,431.1 83.0,431.1 83.7,429.4 84.3,428.3 85.0,427.5 85.9,427.7 87.0,430.2 88.0,429.3 89.1,430.2 90.2,430.5 91.0,431.1" fill="none" stroke="#c09a3c" stroke-width="0.9" stroke-linejoin="round" stroke-linecap="round"/>
<polyline points="62.7,430.0 62.7,429.3 62.7,428.3 62.7,426.9 62.7,425.4 62.7,423.8 62.7,422.2 62.7,420.6 62.7,419.2 62.7,418.0 62.7,417.1 62.8,416.6 62.8,416.5 62.8,417.0 62.8,417.4 62.8,417.9 62.8,418.5 62.8,419.2 62.9,420.0 62.9,420.9 62.9,421.9 62.9,422.9 62.9,424.0 62.9,425.2 62.9,426.4 62.9,427.7 63.0,429.0 63.0,430.3 63.0,431.7 63.0,433.0 63.0,434.4 63.0,435.8 63.1,437.1 63.1,438.5 63.1,439.8 63.1,441.0 63.1,442.2 63.1,443.4 63.2,444.5 63.2,445.6 63.2,446.6 63.2,447.5 63.2,448.3 63.2,449.0 63.3,449.6 63.3,450.1 63.3,450.4 63.3,450.9 63.4,450.9 63.4,450.4 63.5,449.5 63.5,448.4 63.6,447.0 63.6,445.5 63.7,443.8 63.8,442.2 63.8,440.7 63.9,439.4 63.9,438.2 64.0,437.4 64.3,435.5 64.6,434.7 65.0,433.9 65.6,432.8 66.2,432.0 67.0,432.0 68.0,429.9 69.0,429.2 70.0,429.1 71.0,428.0 72.0,427.7 73.0,428.1 74.0,428.1 75.0,429.1 75.7,430.3 76.3,431.4 77.0,431.6 77.5,431.0 78.1,429.9 78.8,429.3 79.4,428.5 80.0,427.6 81.0,428.1 82.1,429.8 83.0,430.6 83.7,429.9 84.3,428.3 85.0,427.1 85.9,426.6 87.0,427.6 88.0,429.7 89.1,428.8 90.2,431.0 91.0,430.6" fill="none" stroke="#57c45e" stroke-width="0.9" stroke-linejoin="round" stroke-linecap="round"/>
<polyline points="62.7,429.1 62.7,428.4 62.7,427.4 62.7,426.1 62.7,424.6 62.7,423.0 62.7,421.4 62.7,419.8 62.7,418.4 62.7,417.2 62.7,416.3 62.8,415.8 62.8,415.7 62.8,416.2 62.8,416.6 62.8,417.1 62.8,417.7 62.8,418.4 62.9,419.2 62.9,420.1 62.9,421.1 62.9,422.2 62.9,423.3 62.9,424.5 62.9,425.7 62.9,427.0 63.0,428.3 63.0,429.7 63.0,431.0 63.0,432.4 63.0,433.8 63.0,435.1 63.1,436.5 63.1,437.8 63.1,439.2 63.1,440.4 63.1,441.7 63.1,442.9 63.2,444.0 63.2,445.1 63.2,446.1 63.2,447.0 63.2,447.8 63.2,448.6 63.3,449.2 63.3,449.7 63.3,450.1 63.4,450.7 63.4,450.7 63.5,450.2 63.5,449.3 63.6,448.0 63.6,446.6 63.7,445.0 63.7,443.4 63.8,441.8 63.9,440.3 63.9,439.1 64.0,438.3 64.3,436.4 64.6,435.4 65.0,434.7 65.6,434.4 66.2,433.9 67.0,432.9 68.0,431.9 69.0,430.8 70.0,429.1 71.0,428.6 72.0,428.4 73.0,428.3 74.0,429.2 75.0,429.4 75.7,431.0 76.3,432.8 77.0,434.1 77.5,432.7 78.1,430.8 78.8,429.5 79.4,428.4 80.0,428.1 81.0,428.6 82.1,429.7 83.0,430.3 83.7,429.4 84.3,427.7 85.0,426.6 85.9,426.7 87.0,428.3 88.0,429.0 89.1,430.4 90.2,431.2 91.0,432.0" fill="none" stroke="#f7a23d" stroke-width="0.9" stroke-linejoin="round" stroke-linecap="round"/>
<polyline points="62.7,430.0 62.7,429.3 62.7,428.2 62.7,426.9 62.7,425.4 62.7,423.8 62.7,422.2 62.7,420.6 62.7,419.2 62.7,418.0 62.7,417.1 62.8,416.6 62.8,416.6 62.8,417.1 62.8,417.4 62.8,417.9 62.8,418.6 62.8,419.3 62.9,420.1 62.9,421.0 62.9,422.0 62.9,423.0 62.9,424.1 62.9,425.3 62.9,426.5 62.9,427.8 63.0,429.1 63.0,430.5 63.0,431.8 63.0,433.2 63.0,434.5 63.0,435.9 63.1,437.3 63.1,438.6 63.1,439.9 63.1,441.2 63.1,442.5 63.1,443.7 63.2,444.8 63.2,445.9 63.2,446.9 63.2,447.8 63.2,448.6 63.2,449.4 63.3,450.0 63.3,450.5 63.3,451.0 63.4,451.7 63.4,451.7 63.5,451.1 63.5,450.1 63.6,448.8 63.7,447.3 63.7,445.6 63.8,444.0 63.9,442.4 63.9,441.0 64.0,440.0 64.3,437.7 64.6,436.2 65.0,434.9 65.6,434.3 66.2,433.6 67.0,432.3 68.0,432.5 69.0,431.0 70.0,430.1 71.0,429.8 72.0,429.0 73.0,428.6 74.0,429.8 75.0,431.2 75.7,433.3 76.3,434.5 77.0,434.4 77.5,434.1 78.1,433.2 78.8,432.4 79.4,431.2 80.0,429.7 81.0,429.8 82.1,430.5 83.0,431.4 83.7,431.2 84.3,429.0 85.0,428.0 85.9,429.5 87.0,429.5 88.0,430.9 89.1,430.7 90.2,433.3 91.0,432.8" fill="none" stroke="#f27fb8" stroke-width="0.9" stroke-linejoin="round" stroke-linecap="round"/>
<polyline points="62.7,430.6 62.7,429.9 62.7,428.8 62.7,427.5 62.7,426.0 62.7,424.4 62.7,422.8 62.7,421.2 62.7,419.8 62.7,418.6 62.7,417.7 62.8,417.1 62.8,417.1 62.8,417.6 62.8,418.0 62.8,418.5 62.8,419.1 62.8,419.8 62.9,420.6 62.9,421.5 62.9,422.5 62.9,423.6 62.9,424.7 62.9,425.9 62.9,427.1 62.9,428.4 63.0,429.7 63.0,431.0 63.0,432.4 63.0,433.8 63.0,435.1 63.0,436.5 63.1,437.9 63.1,439.2 63.1,440.5 63.1,441.8 63.1,443.0 63.1,444.2 63.2,445.4 63.2,446.4 63.2,447.4 63.2,448.3 63.2,449.1 63.2,449.8 63.3,450.4 63.3,450.9 63.3,451.3 63.3,451.8 63.4,451.7 63.4,451.2 63.5,450.4 63.5,449.2 63.6,447.8 63.6,446.2 63.7,444.6 63.8,442.9 63.8,441.4 63.9,439.9 63.9,438.6 64.0,437.6 64.3,435.1 64.6,433.6 65.0,432.2 65.6,431.2 66.2,430.9 67.0,431.8 68.0,429.8 69.0,428.3 70.0,427.9 71.0,427.2 72.0,426.9 73.0,427.6 74.0,428.2 75.0,429.2 75.7,430.8 76.3,431.7 77.0,431.4 77.5,431.1 78.1,430.4 78.8,429.7 79.4,428.9 80.0,428.0 81.0,428.0 82.1,428.1 83.0,429.0 83.7,429.1 84.3,426.6 85.0,425.6 85.9,427.1 87.0,426.6 88.0,428.2 89.1,429.4 90.2,429.8 91.0,429.5" fill="none" stroke="#5aa6e6" stroke-width="0.9" stroke-linejoin="round" stroke-linecap="round"/>
<polyline points="62.7,429.3 62.7,428.6 62.7,427.5 62.7,426.2 62.7,424.7 62.7,423.1 62.7,421.5 62.7,419.9 62.7,418.5 62.7,417.3 62.7,416.4 62.8,415.9 62.8,415.9 62.8,416.4 62.8,416.8 62.8,417.3 62.8,417.9 62.8,418.6 62.9,419.4 62.9,420.3 62.9,421.3 62.9,422.4 62.9,423.5 62.9,424.7 62.9,425.9 62.9,427.2 63.0,428.5 63.0,429.9 63.0,431.2 63.0,432.6 63.0,434.0 63.0,435.3 63.1,436.7 63.1,438.1 63.1,439.4 63.1,440.7 63.1,441.9 63.1,443.1 63.2,444.2 63.2,445.3 63.2,446.3 63.2,447.2 63.2,448.0 63.2,448.8 63.3,449.4 63.3,449.9 63.3,450.3 63.4,450.9 63.4,450.9 63.5,450.4 63.5,449.4 63.6,448.2 63.6,446.7 63.7,445.1 63.7,443.4 63.8,441.9 63.9,440.3 63.9,439.0 64.0,438.1 64.3,435.8 64.6,434.5 65.0,433.5 65.6,433.6 66.2,433.2 67.0,431.2 68.0,430.7 69.0,430.5 70.0,430.1 71.0,428.6 72.0,427.9 73.0,428.4 74.0,429.3 75.0,430.6 75.7,430.8 76.3,432.3 77.0,433.4 77.5,432.8 78.1,431.6 78.8,430.2 79.4,428.9 80.0,428.3 81.0,427.8 82.1,429.2 83.0,430.0 83.7,429.1 84.3,428.1 85.0,427.4 85.9,427.5 87.0,429.3 88.0,429.6 89.1,430.3 90.2,430.1 91.0,431.0" fill="none" stroke="#cc80d8" stroke-width="0.9" stroke-linejoin="round" stroke-linecap="round"/>
<polyline points="94.7,353.5 94.7,352.8 94.8,352.0 94.8,351.0 94.9,349.8 94.9,348.6 95.0,347.3 95.0,346.1 95.1,344.9 95.2,343.8 95.2,342.8 95.3,342.0 95.5,340.1 95.7,339.1 96.2,338.3 96.9,338.8 97.8,340.0 98.8,340.3 100.0,340.6 100.7,340.8 101.5,341.2 102.3,341.9 103.1,342.7 104.0,343.7 105.0,344.5 106.0,345.2 106.8,345.8 107.7,346.4 108.6,346.8 109.5,347.0 110.4,346.7 111.4,347.5 112.5,348.4 113.7,348.0 115.0,349.1 115.8,349.7 116.8,349.7 117.7,350.0 118.8,350.4 119.8,351.0 120.9,351.1 122.0,350.8 123.1,351.0 124.2,351.9 125.3,352.8 126.3,352.4 127.4,352.6 128.3,353.0 129.2,353.2 130.0,353.4 131.3,354.3 132.5,354.8 133.6,355.3 134.5,356.0 135.4,356.8 136.2,357.7 137.1,357.9 138.0,358.0 138.9,358.4 139.9,359.1 140.9,360.0 141.8,360.6 142.7,361.1 143.5,361.2 144.3,361.2 145.0,362.0 146.6,363.0 147.7,362.8 148.5,362.4" fill="none" stroke="#cc80d8" stroke-width="1.2" stroke-linejoin="round" stroke-linecap="round"/>
<polyline points="94.7,366.4 94.7,365.8 94.8,364.9 94.9,363.8 94.9,362.6 95.0,361.4 95.1,360.2 95.2,359.2 95.3,358.5 95.7,356.9 96.5,356.6 97.4,357.4 98.6,358.0 100.0,358.4 100.7,358.7 101.4,359.1 102.1,359.7 102.9,360.4 103.9,361.3 105.0,361.9 105.7,362.2 106.5,362.8 107.4,363.6 108.3,363.7 109.2,363.7 110.2,364.4 111.2,365.0 112.1,365.4 113.1,366.2 114.1,367.0 115.0,367.5 116.0,367.8 116.9,367.8 117.8,368.4 118.8,369.0 119.7,368.5 120.6,368.5 121.6,369.5 122.7,369.6 123.8,369.7 125.0,370.0 125.9,370.6 126.8,371.2 127.8,371.1 128.8,371.2 129.9,371.5 131.0,372.1 132.0,372.8 133.1,373.6 134.2,374.0 135.3,374.5 136.3,375.1 137.3,375.0 138.3,375.2 139.2,375.8 140.0,376.4 141.3,377.3 142.5,377.8 143.6,377.6 144.7,377.7 145.7,378.3 146.5,378.7 147.3,379.0 148.0,379.4 148.5,379.9" fill="none" stroke="#c09a3c" stroke-width="1.2" stroke-linejoin="round" stroke-linecap="round"/>
<polyline points="94.7,379.8 94.8,379.1 94.8,378.1 94.9,376.9 95.0,375.7 95.1,374.6 95.3,373.7 95.7,372.1 97.0,372.2 97.7,372.9 98.4,373.2 99.2,373.4 100.2,373.8 101.2,374.3 102.4,375.1 103.6,375.9 105.0,376.4 105.8,376.6 106.6,376.5 107.5,376.3 108.4,377.4 109.3,378.1 110.3,377.6 111.2,377.5 112.3,377.9 113.3,378.3 114.4,378.7 115.5,379.3 116.6,380.0 117.7,380.2 118.8,380.0 120.0,380.5 120.9,380.9 121.8,381.5 122.7,382.2 123.7,382.7 124.7,382.2 125.7,382.7 126.7,383.9 127.8,383.6 128.8,383.9 129.9,384.9 130.9,384.6 132.0,385.0 133.0,386.0 134.0,386.5 135.0,386.9 135.9,387.2 136.8,387.4 137.7,387.4 138.5,387.8 139.3,388.4 140.0,388.6 141.5,388.8 142.8,388.6 144.0,389.7 145.0,390.3 145.9,390.8 146.7,391.2 147.4,391.7 148.0,392.1 148.5,392.4" fill="none" stroke="#f27fb8" stroke-width="1.2" stroke-linejoin="round" stroke-linecap="round"/>
<polyline points="94.7,381.3 94.8,380.6 94.9,379.6 95.1,378.5 95.3,377.6 95.7,376.3 97.0,376.4 97.7,376.9 98.4,377.0 99.2,376.7 100.2,377.5 101.2,378.7 102.4,378.5 103.6,379.1 105.0,380.2 105.8,380.8 106.6,380.7 107.5,380.5 108.4,381.0 109.3,381.4 110.3,381.1 111.2,381.5 112.3,382.5 113.3,382.4 114.4,382.2 115.5,382.0 116.6,382.4 117.7,383.0 118.8,383.7 120.0,384.4 120.9,384.6 121.8,384.6 122.8,385.3 123.9,385.5 124.9,384.9 126.0,385.3 127.1,385.8 128.2,385.7 129.3,386.8 130.4,387.5 131.5,387.7 132.6,388.3 133.7,388.2 134.7,387.5 135.7,388.7 136.7,389.2 137.6,388.9 138.4,388.9 139.3,389.3 140.0,389.5 141.5,390.0 142.8,390.9 144.0,392.0 145.0,392.3 145.9,392.4 146.7,393.0 147.4,393.5 148.0,393.9 148.5,394.3" fill="none" stroke="#57c45e" stroke-width="1.2" stroke-linejoin="round" stroke-linecap="round"/>
<polyline points="94.7,388.5 94.8,387.7 94.9,386.6 95.1,385.4 95.3,384.5 95.7,383.3 97.0,383.3 97.7,383.9 98.4,384.3 99.2,384.7 100.2,385.1 101.2,385.7 102.4,385.9 103.6,386.4 105.0,387.2 105.8,387.8 106.6,388.1 107.5,388.3 108.4,388.0 109.3,387.9 110.3,388.2 111.2,388.3 112.3,388.4 113.3,389.3 114.4,389.7 115.5,389.2 116.6,390.1 117.7,390.9 118.8,391.4 120.0,391.6 120.9,391.5 121.8,391.3 122.8,391.9 123.9,392.1 124.9,391.6 126.0,392.3 127.1,392.8 128.2,392.3 129.3,393.0 130.4,393.2 131.5,392.7 132.6,393.5 133.7,394.2 134.7,394.8 135.7,394.4 136.7,394.1 137.6,394.2 138.4,394.6 139.3,395.1 140.0,395.2 141.5,395.2 142.8,395.9 144.0,397.1 145.0,398.1 145.9,398.9 146.7,399.3 147.4,399.7 148.0,400.0 148.5,400.2" fill="none" stroke="#f7a23d" stroke-width="1.2" stroke-linejoin="round" stroke-linecap="round"/>
<polyline points="94.7,407.3 94.8,406.7 94.8,405.7 94.9,404.5 95.0,403.3 95.1,402.1 95.2,400.9 95.4,400.0 95.5,399.4 97.0,400.8 97.4,401.6 97.8,402.6 98.2,403.4 98.9,403.9 100.0,404.9 100.7,405.8 101.5,406.5 102.3,406.9 103.3,407.2 104.2,407.6 105.3,407.7 106.4,408.2 107.6,408.9 108.8,408.5 110.0,408.9 110.9,409.3 111.8,409.2 112.8,409.2 113.8,409.4 114.8,409.9 115.9,410.0 117.0,409.3 118.0,409.7 119.1,410.1 120.2,410.1 121.2,409.5 122.2,409.4 123.2,410.4 124.1,410.4 125.0,410.0 126.2,410.2 127.3,410.2 128.3,410.2 129.2,410.6 130.1,411.0 131.0,411.6 131.9,411.7 132.9,411.4 133.9,411.8 135.0,412.4 136.0,412.7 137.0,413.0 138.2,413.3 139.3,413.4 140.6,413.5 141.8,413.6 143.0,413.8 144.1,414.2 145.2,414.5 146.2,415.0 147.1,415.7 147.9,416.0 148.5,416.2" fill="none" stroke="#5aa6e6" stroke-width="1.2" stroke-linejoin="round" stroke-linecap="round"/>
<path d="M150.9,360.0V366.4M154.9,360.8V367.2" stroke="#2c3a52" stroke-width="1.9" fill="none"/>
<line x1="150.9" y1="363.2" x2="154.9" y2="364.0" stroke="#2c3a52" stroke-width="1.8"/>
<path d="M150.9,377.8V384.2M154.9,378.6V385.0" stroke="#2c3a52" stroke-width="1.9" fill="none"/>
<line x1="150.9" y1="381.0" x2="154.9" y2="381.8" stroke="#2c3a52" stroke-width="1.8"/>
<path d="M150.9,412.4V418.8M154.9,413.2V419.6" stroke="#2c3a52" stroke-width="1.9" fill="none"/>
<line x1="150.9" y1="415.6" x2="154.9" y2="416.4" stroke="#2c3a52" stroke-width="1.8"/>
<path d="M150.9,390.6V402.0M154.9,391.2V402.6" stroke="#2c3a52" stroke-width="1.9" fill="none"/>
<line x1="150.9" y1="393.0" x2="154.9" y2="393.6" stroke="#2c3a52" stroke-width="1.8"/>
<line x1="150.9" y1="396.5" x2="154.9" y2="397.0" stroke="#2c3a52" stroke-width="1.8"/>
<line x1="150.9" y1="399.5" x2="154.9" y2="400.1" stroke="#2c3a52" stroke-width="1.8"/>
<line x1="158.7" y1="437" x2="158.7" y2="455" stroke="#c09a3c" stroke-width="1.0"/>
<polyline points="158.7,447.8 159.2,446.9 159.8,446.7 160.5,446.4 161.4,446.0 162.4,445.5 163.5,445.0 164.6,444.6 165.7,444.2 166.8,443.9 167.9,443.7 169.0,443.4 170.0,443.1 170.9,442.6 171.7,442.1 172.4,441.9 173.1,441.8 173.8,441.8 174.6,441.6 175.6,441.2 176.7,440.9 178.2,440.6 180.0,441.0 180.7,441.2 181.4,441.3 182.2,441.3 183.0,441.3 183.8,440.9 184.7,440.5 185.6,440.3 186.6,440.3 187.5,440.2 188.5,439.6 189.5,439.0 190.6,439.7 191.6,440.5 192.7,440.3 193.8,440.1 194.8,440.0 195.9,439.9 197.0,439.4 198.1,438.8 199.3,439.1 200.4,439.5 201.5,439.6 202.6,439.5 203.7,439.1 204.8,438.5 205.8,438.7 206.9,438.9 208.0,439.2 209.0,439.5 210.0,439.6 211.0,439.6 212.0,439.5 213.1,439.4 214.1,439.3 215.1,439.2 216.2,439.2 217.3,439.5 218.3,439.7 219.4,439.5 220.4,439.2 221.5,438.4 222.6,437.6 223.6,437.9 224.7,438.2 225.8,437.8 226.8,437.4 227.8,438.2 228.9,439.1 229.9,439.1 230.9,438.8 231.9,438.4 232.9,437.9 233.8,437.6 234.8,437.5 235.7,437.5 236.6,437.5 237.5,437.5 238.3,437.6 239.2,437.9 240.0,438.2 241.3,438.0 242.6,437.7 243.9,437.0 245.1,437.0 246.3,437.7 247.5,437.6 248.6,437.1 249.7,436.9 250.7,436.8 251.7,437.1 252.7,437.8 253.6,438.1 254.5,438.0 255.3,437.9 256.0,437.8 256.7,437.8 257.4,437.8 258.0,437.8 260.1,438.6 260.4,439.8 260.5,440.7" fill="none" stroke="#e9d23a" stroke-width="1.2" stroke-linejoin="round" stroke-linecap="round"/>
<polyline points="158.7,448.4 159.2,447.2 159.8,446.6 160.5,446.0 161.4,445.4 162.4,445.0 163.5,444.5 164.6,443.7 165.7,443.0 166.8,442.2 167.9,441.7 169.0,441.5 170.0,441.3 170.9,440.9 171.7,440.5 172.4,440.2 173.1,440.0 173.8,439.8 174.6,439.7 175.6,439.6 176.7,439.5 178.2,439.2 180.0,439.8 180.7,440.1 181.4,439.7 182.2,439.3 183.0,439.0 183.8,439.4 184.7,439.8 185.6,439.8 186.6,439.5 187.5,439.4 188.5,439.8 189.5,440.3 190.6,440.0 191.6,439.7 192.7,439.7 193.8,439.8 194.8,439.6 195.9,439.5 197.0,439.5 198.1,439.5 199.3,439.7 200.4,439.9 201.5,439.9 202.6,439.9 203.7,439.0 204.8,438.1 205.8,438.1 206.9,438.2 208.0,438.1 209.0,438.1 210.0,438.0 211.0,437.9 212.0,438.1 213.1,438.6 214.1,439.0 215.1,439.1 216.2,438.9 217.3,438.0 218.3,437.3 219.4,437.3 220.4,437.5 221.5,438.3 222.6,438.9 223.6,438.0 224.7,437.1 225.8,437.1 226.8,437.0 227.8,437.7 228.9,438.6 229.9,438.2 230.9,437.6 231.9,437.1 232.9,436.9 233.8,436.8 234.8,437.3 235.7,437.8 236.6,437.4 237.5,437.1 238.3,437.0 239.2,437.1 240.0,437.2 241.3,437.1 242.6,437.1 243.9,437.7 245.1,438.0 246.3,438.0 247.5,438.0 248.6,437.9 249.7,437.5 250.7,436.9 251.7,436.9 252.7,437.3 253.6,437.4 254.5,437.2 255.3,436.9 256.0,436.8 256.7,436.7 257.4,436.6 258.0,436.6 260.1,437.6 260.4,438.9 260.5,439.8" fill="none" stroke="#c09a3c" stroke-width="1.2" stroke-linejoin="round" stroke-linecap="round"/>
<polyline points="158.7,446.1 159.2,444.9 159.8,444.3 160.5,443.6 161.4,443.1 162.4,442.8 163.5,442.5 164.6,442.1 165.7,441.6 166.8,440.6 167.9,440.1 169.0,440.2 170.0,440.3 170.9,440.5 171.7,440.6 172.4,440.2 173.1,439.7 173.8,439.1 174.6,439.1 175.6,439.3 176.7,439.6 178.2,439.6 180.0,438.1 180.7,437.4 181.4,437.3 182.2,437.3 183.0,437.3 183.8,437.6 184.7,437.9 185.6,438.3 186.6,438.7 187.5,438.9 188.5,438.4 189.5,437.8 190.6,438.1 191.6,438.4 192.7,438.3 193.8,438.1 194.8,437.4 195.9,436.7 197.0,436.9 198.1,437.4 199.3,437.6 200.4,437.7 201.5,437.2 202.6,436.6 203.7,436.5 204.8,436.4 205.8,436.9 206.9,437.4 208.0,437.1 209.0,436.7 210.0,436.8 211.0,437.2 212.0,437.1 213.1,436.7 214.1,436.3 215.1,436.0 216.2,435.9 217.3,436.2 218.3,436.5 219.4,436.9 220.4,437.2 221.5,436.7 222.6,436.2 223.6,436.4 224.7,436.6 225.8,436.8 226.8,437.0 227.8,436.5 228.9,436.0 229.9,436.3 230.9,436.9 231.9,436.6 232.9,435.8 233.8,435.3 234.8,435.7 235.7,436.0 236.6,435.8 237.5,435.6 238.3,435.5 239.2,435.4 240.0,435.3 241.3,436.1 242.6,436.5 243.9,435.5 245.1,435.3 246.3,436.0 247.5,435.9 248.6,435.5 249.7,435.6 250.7,436.0 251.7,436.1 252.7,436.0 253.6,435.6 254.5,434.8 255.3,434.1 256.0,434.4 256.7,435.0 257.4,435.7 258.0,435.9 260.1,436.0 260.4,437.3 260.5,438.2" fill="none" stroke="#cc80d8" stroke-width="1.2" stroke-linejoin="round" stroke-linecap="round"/>
<polyline points="158.7,443.9 159.2,442.7 159.8,442.4 160.5,441.9 161.4,441.7 162.4,441.8 163.5,441.5 164.6,440.6 165.7,440.1 166.8,440.1 167.9,439.7 169.0,438.5 170.0,437.8 170.9,437.9 171.7,438.1 172.4,437.8 173.1,437.5 173.8,437.2 174.6,437.0 175.6,436.8 176.7,436.6 178.2,436.7 180.0,436.9 180.7,437.0 181.4,436.9 182.2,436.8 183.0,436.7 183.8,436.9 184.7,437.2 185.6,437.3 186.6,437.2 187.5,437.0 188.5,436.7 189.5,436.3 190.6,436.7 191.6,437.1 192.7,436.8 193.8,436.5 194.8,436.7 195.9,437.1 197.0,436.8 198.1,436.3 199.3,436.0 200.4,435.7 201.5,435.6 202.6,435.6 203.7,436.3 204.8,437.1 205.8,436.9 206.9,436.5 208.0,436.3 209.0,436.3 210.0,436.2 211.0,436.2 212.0,436.1 213.1,436.0 214.1,435.7 215.1,435.3 216.2,435.2 217.3,435.8 218.3,436.3 219.4,436.2 220.4,436.1 221.5,436.3 222.6,436.4 223.6,436.0 224.7,435.5 225.8,435.0 226.8,434.5 227.8,434.8 228.9,435.1 229.9,435.3 230.9,435.5 231.9,435.6 232.9,435.6 233.8,435.5 234.8,435.2 235.7,434.9 236.6,435.0 237.5,435.0 238.3,435.0 239.2,435.1 240.0,435.1 241.3,435.6 242.6,435.8 243.9,434.7 245.1,434.2 246.3,434.1 247.5,434.7 248.6,435.5 249.7,435.4 250.7,434.9 251.7,434.4 252.7,433.8 253.6,433.5 254.5,433.6 255.3,433.7 256.0,433.9 256.7,434.0 257.4,434.2 258.0,434.3 260.1,435.4 260.4,436.8 260.5,437.7" fill="none" stroke="#f27fb8" stroke-width="1.2" stroke-linejoin="round" stroke-linecap="round"/>
<polyline points="158.7,440.7 159.2,440.0 159.8,440.1 160.5,440.2 161.4,439.8 162.4,438.9 163.5,438.1 164.6,437.5 165.7,437.2 166.8,437.5 167.9,437.6 169.0,437.2 170.0,437.0 170.9,436.7 171.7,436.5 172.4,436.0 173.1,435.5 173.8,435.0 174.6,434.9 175.6,435.2 176.7,435.4 178.2,435.2 180.0,435.0 180.7,434.9 181.4,434.9 182.2,435.0 183.0,435.0 183.8,434.9 184.7,434.8 185.6,434.8 186.6,435.0 187.5,435.0 188.5,434.4 189.5,433.9 190.6,434.4 191.6,435.0 192.7,435.3 193.8,435.7 194.8,435.3 195.9,434.7 197.0,434.4 198.1,434.1 199.3,434.4 200.4,434.8 201.5,434.4 202.6,434.0 203.7,434.5 204.8,435.0 205.8,435.0 206.9,435.0 208.0,434.8 209.0,434.7 210.0,434.5 211.0,434.1 212.0,433.7 213.1,433.2 214.1,432.9 215.1,432.9 216.2,433.0 217.3,433.4 218.3,433.7 219.4,434.1 220.4,434.4 221.5,433.9 222.6,433.5 223.6,434.1 224.7,434.8 225.8,434.3 226.8,433.9 227.8,433.4 228.9,432.9 229.9,433.1 230.9,433.6 231.9,434.0 232.9,434.4 233.8,434.4 234.8,433.8 235.7,433.1 236.6,433.6 237.5,434.1 238.3,434.2 239.2,434.0 240.0,433.9 241.3,433.3 242.6,433.1 243.9,433.7 245.1,433.6 246.3,432.8 247.5,432.7 248.6,432.9 249.7,433.2 250.7,433.5 251.7,433.1 252.7,432.4 253.6,432.2 254.5,432.8 255.3,433.5 256.0,433.4 256.7,433.1 257.4,432.8 258.0,432.8 260.1,434.2 260.4,435.4 260.5,436.3" fill="none" stroke="#57c45e" stroke-width="1.2" stroke-linejoin="round" stroke-linecap="round"/>
<polyline points="158.7,437.8 159.2,437.1 159.8,437.3 160.5,437.5 161.4,437.1 162.4,436.4 163.5,435.9 164.6,436.1 165.7,436.0 166.8,435.7 167.9,435.2 169.0,434.7 170.0,434.4 170.9,434.2 171.7,434.0 172.4,433.7 173.1,433.3 173.8,432.9 174.6,433.1 175.6,433.9 176.7,434.5 178.2,434.3 180.0,433.5 180.7,433.2 181.4,432.9 182.2,432.6 183.0,432.4 183.8,432.7 184.7,433.0 185.6,433.2 186.6,433.3 187.5,433.5 188.5,433.6 189.5,433.6 190.6,433.0 191.6,432.3 192.7,432.3 193.8,432.3 194.8,432.2 195.9,432.1 197.0,432.1 198.1,432.3 199.3,432.0 200.4,431.7 201.5,432.3 202.6,433.0 203.7,432.4 204.8,431.7 205.8,431.8 206.9,432.1 208.0,431.7 209.0,431.2 210.0,431.5 211.0,432.2 212.0,432.2 213.1,431.5 214.1,431.0 215.1,431.0 216.2,431.1 217.3,431.6 218.3,432.0 219.4,432.4 220.4,432.7 221.5,432.4 222.6,432.2 223.6,432.3 224.7,432.4 225.8,432.1 226.8,431.8 227.8,432.3 228.9,432.9 229.9,432.4 230.9,431.7 231.9,431.3 232.9,431.0 233.8,431.1 234.8,431.6 235.7,432.2 236.6,432.1 237.5,432.0 238.3,431.9 239.2,431.6 240.0,431.4 241.3,431.2 242.6,431.2 243.9,431.8 245.1,431.9 246.3,431.5 247.5,431.2 248.6,431.1 249.7,431.7 250.7,432.5 251.7,432.8 252.7,432.8 253.6,432.6 254.5,431.9 255.3,431.2 256.0,431.0 256.7,430.9 257.4,430.9 258.0,431.1 260.1,433.4 260.4,434.5 260.5,435.4" fill="none" stroke="#5aa6e6" stroke-width="1.2" stroke-linejoin="round" stroke-linecap="round"/>
<polyline points="158.7,437.5 159.2,436.7 159.8,436.8 160.5,436.9 161.4,436.6 162.4,435.8 163.5,435.0 164.6,434.4 165.7,434.1 166.8,434.2 167.9,434.4 169.0,434.4 170.0,434.4 170.9,434.2 171.7,434.1 172.4,433.7 173.1,433.3 173.8,432.9 174.6,432.9 175.6,433.3 176.7,433.5 178.2,433.0 180.0,432.6 180.7,432.4 181.4,433.1 182.2,433.8 183.0,434.4 183.8,434.1 184.7,433.8 185.6,433.5 186.6,433.1 187.5,432.9 188.5,433.2 189.5,433.6 190.6,433.5 191.6,433.5 192.7,432.7 193.8,431.8 194.8,431.9 195.9,432.3 197.0,432.2 198.1,432.1 199.3,431.8 200.4,431.4 201.5,432.0 202.6,432.7 203.7,432.9 204.8,433.0 205.8,432.6 206.9,432.1 208.0,432.3 209.0,432.7 210.0,432.5 211.0,432.2 212.0,432.0 213.1,431.8 214.1,431.8 215.1,431.9 216.2,432.1 217.3,432.3 218.3,432.4 219.4,431.8 220.4,431.4 221.5,431.6 222.6,431.8 223.6,431.4 224.7,431.0 225.8,431.4 226.8,431.8 227.8,432.0 228.9,432.2 229.9,432.0 230.9,431.7 231.9,431.4 232.9,431.1 233.8,431.2 234.8,431.9 235.7,432.6 236.6,432.5 237.5,432.4 238.3,432.4 239.2,432.4 240.0,432.5 241.3,431.6 242.6,431.2 243.9,432.2 245.1,432.4 246.3,431.8 247.5,431.3 248.6,430.9 249.7,430.8 250.7,430.9 251.7,430.8 252.7,430.6 253.6,430.6 254.5,431.2 255.3,431.8 256.0,432.1 256.7,432.2 257.4,432.4 258.0,432.5 260.1,433.2 260.4,434.4 260.5,435.3" fill="none" stroke="#f7a23d" stroke-width="1.2" stroke-linejoin="round" stroke-linecap="round"/>
<line x1="177.7" y1="336.9" x2="177.7" y2="400.4" stroke="#9aa3b5" stroke-width="1.0"/>
<line x1="177.2" y1="400.4" x2="280.5" y2="400.4" stroke="#9aa3b5" stroke-width="1.0"/>
<line x1="175.7" y1="395.4" x2="177.7" y2="395.4" stroke="#7f8ea3" stroke-width="0.8"/>
<text x="174.7" y="396.7" font-size="3.4" fill="#5a6578" font-weight="normal" text-anchor="end">0.5</text>
<line x1="175.7" y1="385.81666666666666" x2="177.7" y2="385.81666666666666" stroke="#7f8ea3" stroke-width="0.8"/>
<text x="174.7" y="387.1166666666667" font-size="3.4" fill="#5a6578" font-weight="normal" text-anchor="end">0.5</text>
<line x1="175.7" y1="376.2333333333333" x2="177.7" y2="376.2333333333333" stroke="#7f8ea3" stroke-width="0.8"/>
<text x="174.7" y="377.5333333333333" font-size="3.4" fill="#5a6578" font-weight="normal" text-anchor="end">0.5</text>
<line x1="175.7" y1="366.65" x2="177.7" y2="366.65" stroke="#7f8ea3" stroke-width="0.8"/>
<text x="174.7" y="367.95" font-size="3.4" fill="#5a6578" font-weight="normal" text-anchor="end">0.5</text>
<line x1="175.7" y1="357.06666666666666" x2="177.7" y2="357.06666666666666" stroke="#7f8ea3" stroke-width="0.8"/>
<text x="174.7" y="358.3666666666667" font-size="3.4" fill="#5a6578" font-weight="normal" text-anchor="end">0.5</text>
<line x1="175.7" y1="347.4833333333333" x2="177.7" y2="347.4833333333333" stroke="#7f8ea3" stroke-width="0.8"/>
<text x="174.7" y="348.7833333333333" font-size="3.4" fill="#5a6578" font-weight="normal" text-anchor="end">0.5</text>
<line x1="175.7" y1="337.9" x2="177.7" y2="337.9" stroke="#7f8ea3" stroke-width="0.8"/>
<text x="174.7" y="339.2" font-size="3.4" fill="#5a6578" font-weight="normal" text-anchor="end">0.5</text>
<line x1="185.7" y1="400.4" x2="185.7" y2="401.9" stroke="#7f8ea3" stroke-width="0.8"/>
<text x="185.7" y="406.4" font-size="3.2" fill="#5a6578" font-weight="normal" text-anchor="middle">0.0004</text>
<line x1="203.85999999999999" y1="400.4" x2="203.85999999999999" y2="401.9" stroke="#7f8ea3" stroke-width="0.8"/>
<text x="203.85999999999999" y="406.4" font-size="3.2" fill="#5a6578" font-weight="normal" text-anchor="middle">0.0004</text>
<line x1="222.01999999999998" y1="400.4" x2="222.01999999999998" y2="401.9" stroke="#7f8ea3" stroke-width="0.8"/>
<text x="222.01999999999998" y="406.4" font-size="3.2" fill="#5a6578" font-weight="normal" text-anchor="middle">0.0004</text>
<line x1="240.18" y1="400.4" x2="240.18" y2="401.9" stroke="#7f8ea3" stroke-width="0.8"/>
<text x="240.18" y="406.4" font-size="3.2" fill="#5a6578" font-weight="normal" text-anchor="middle">0.0004</text>
<line x1="258.34000000000003" y1="400.4" x2="258.34000000000003" y2="401.9" stroke="#7f8ea3" stroke-width="0.8"/>
<text x="258.34000000000003" y="406.4" font-size="3.2" fill="#5a6578" font-weight="normal" text-anchor="middle">0.0004</text>
<line x1="276.5" y1="400.4" x2="276.5" y2="401.9" stroke="#7f8ea3" stroke-width="0.8"/>
<text x="276.5" y="406.4" font-size="3.2" fill="#5a6578" font-weight="normal" text-anchor="middle">0.0004</text>
<line x1="260.9" y1="336.9" x2="260.9" y2="400.4" stroke="#6cb2e8" stroke-width="1.15"/>
<polyline points="181.3,380.5 181.8,380.2 182.3,379.8 183.0,379.3 183.8,378.7 184.6,378.1 185.5,377.5 186.4,376.8 187.3,376.2 188.3,375.5 189.3,374.8 190.2,374.2 191.1,373.6 192.0,373.0 192.9,372.5 193.7,371.9 194.6,371.4 195.5,370.9 196.4,370.4 197.3,369.9 198.2,369.4 199.1,368.9 200.0,368.4 200.9,367.9 201.8,367.4 202.7,366.9 203.6,366.4 204.5,365.9 205.3,365.4 206.2,364.9 207.1,364.4 207.9,363.9 208.8,363.4 209.6,362.9 210.5,362.4 211.4,361.9 212.3,361.4 213.1,361.0 214.1,360.5 215.0,360.0 215.9,359.6 216.8,359.1 217.6,358.7 218.5,358.2 219.4,357.8 220.3,357.3 221.3,356.9 222.2,356.5 223.1,356.1 224.1,355.6 225.1,355.2 226.1,354.8 227.1,354.4 228.2,354.0 229.1,353.7 230.0,353.4 231.0,353.0 231.9,352.7 232.9,352.4 233.9,352.1 234.9,351.8 235.9,351.5 236.9,351.2 238.0,350.9 239.0,350.7 240.0,350.4 241.0,350.1 242.0,349.8 243.0,349.5 244.0,349.3 245.0,349.0 246.0,348.7 247.1,348.4 248.1,348.2 249.1,347.9 250.2,347.6 251.2,347.4 252.2,347.1 253.2,346.9 254.2,346.6 255.2,346.4 256.2,346.2 257.2,345.9 258.2,345.7 259.1,345.5 260.0,345.2 260.9,345.0 262.1,344.7 263.3,344.4 264.5,344.1 265.7,343.8 266.9,343.4 268.0,343.1 269.1,342.9 270.1,342.6 271.1,342.4 271.9,342.1 272.6,342.0 273.2,341.8" fill="none" stroke="#858585" stroke-width="1.0" stroke-linejoin="round" stroke-linecap="round"/>
<polyline points="181.3,380.5 181.8,380.2 182.3,379.8 183.0,379.3 183.8,378.7 184.6,378.1 185.5,377.5 186.4,376.8 187.3,376.2 188.3,375.5 189.3,374.8 190.2,374.2 191.1,373.6 192.0,373.0 192.9,372.5 193.7,371.9 194.6,371.4 195.5,370.9 196.4,370.4 197.3,369.9 198.2,369.4 199.1,368.9 200.0,368.4 200.9,367.9 201.8,367.4 202.7,366.9 203.6,366.4 204.5,365.9 205.3,365.4 206.2,364.9 207.1,364.4 207.9,363.9 208.8,363.4 209.6,362.9 210.5,362.4 211.4,361.9 212.3,361.4 213.1,361.0 214.1,360.5 215.0,360.0 215.9,359.6 216.8,359.1 217.6,358.7 218.5,358.2 219.4,357.8 220.3,357.3 221.3,356.9 222.2,356.5 223.1,356.1 224.1,355.6 225.1,355.2 226.1,354.8 227.1,354.4 228.2,354.0 229.1,353.7 230.0,353.4 231.0,353.0 231.9,352.7 232.9,352.4 233.9,352.1 234.9,351.8 235.9,351.5 236.9,351.2 238.0,350.9 239.0,350.7 240.0,350.4 241.0,350.1 242.0,349.8 243.0,349.5 244.0,349.3 245.0,349.0 246.0,348.7 247.1,348.4 248.1,348.2 249.1,347.9 250.2,347.6 251.2,347.4 252.2,347.1 253.2,346.9 254.2,346.6 255.2,346.4 256.2,346.2 257.2,345.9 258.2,345.7 259.1,345.5 260.0,345.2 260.9,345.0 262.1,344.7 263.3,344.4 264.5,344.1 265.7,343.8 266.9,343.4 268.0,343.1 269.1,342.9 270.1,342.6 271.1,342.4 271.9,342.1 272.6,342.0 273.2,341.8" fill="none" stroke="#2a2a2a" stroke-width="1.1" stroke-dasharray="0.9 2.6"/>
<circle cx="184" cy="383.3" r="0.95" fill="#5aa6e6" fill-opacity="0.8"/>
<circle cx="187" cy="370.7" r="0.95" fill="#f7a23d" fill-opacity="0.8"/>
<circle cx="193" cy="367.5" r="0.95" fill="#57c45e" fill-opacity="0.8"/>
<circle cx="203.6" cy="366.4" r="0.95" fill="#f27fb8" fill-opacity="0.8"/>
<circle cx="227" cy="355" r="0.95" fill="#e9d23a" fill-opacity="0.8"/>
<circle cx="273" cy="341.5" r="0.95" fill="#cc80d8" fill-opacity="0.8"/>
<text transform="translate(206.23,384.50) scale(1.0869,1)" font-size="14.14" font-weight="normal" fill="#ff0c0c" stroke="#ff0c0c" stroke-width="0.2">27.0 µM</text>
<line x1="300.2" y1="330.7" x2="300.2" y2="462.8" stroke="#6e7f96" stroke-width="1.3"/>
<line x1="299.59999999999997" y1="462.8" x2="536.4" y2="462.8" stroke="#6e7f96" stroke-width="1.3"/>
<line x1="297.0" y1="344.7" x2="300.2" y2="344.7" stroke="#6e7f96" stroke-width="1.2"/>
<text x="295.2" y="346.8" font-size="6" fill="#36425c" font-weight="normal" text-anchor="end">1.5</text>
<line x1="297.0" y1="370.8" x2="300.2" y2="370.8" stroke="#6e7f96" stroke-width="1.2"/>
<text x="295.2" y="372.90000000000003" font-size="6" fill="#36425c" font-weight="normal" text-anchor="end">1</text>
<line x1="297.0" y1="396.9" x2="300.2" y2="396.9" stroke="#6e7f96" stroke-width="1.2"/>
<text x="295.2" y="399.0" font-size="6" fill="#36425c" font-weight="normal" text-anchor="end">0.5</text>
<line x1="297.0" y1="423" x2="300.2" y2="423" stroke="#6e7f96" stroke-width="1.2"/>
<text x="295.2" y="425.1" font-size="6" fill="#36425c" font-weight="normal" text-anchor="end">0</text>
<line x1="297.0" y1="449.1" x2="300.2" y2="449.1" stroke="#6e7f96" stroke-width="1.2"/>
<text x="295.2" y="451.20000000000005" font-size="6" fill="#36425c" font-weight="normal" text-anchor="end">-0.5</text>
<line x1="298.4" y1="357.7" x2="300.2" y2="357.7" stroke="#6e7f96" stroke-width="1.0"/>
<line x1="298.4" y1="383.8" x2="300.2" y2="383.8" stroke="#6e7f96" stroke-width="1.0"/>
<line x1="298.4" y1="409.9" x2="300.2" y2="409.9" stroke="#6e7f96" stroke-width="1.0"/>
<line x1="298.4" y1="436" x2="300.2" y2="436" stroke="#6e7f96" stroke-width="1.0"/>
<line x1="298.4" y1="462" x2="300.2" y2="462" stroke="#6e7f96" stroke-width="1.0"/>
<line x1="308" y1="462.8" x2="308" y2="466.6" stroke="#6e7f96" stroke-width="1.2"/>
<line x1="348.2" y1="462.8" x2="348.2" y2="466.6" stroke="#6e7f96" stroke-width="1.2"/>
<line x1="389.4" y1="462.8" x2="389.4" y2="466.6" stroke="#6e7f96" stroke-width="1.2"/>
<line x1="430" y1="462.8" x2="430" y2="466.6" stroke="#6e7f96" stroke-width="1.2"/>
<line x1="471.2" y1="462.8" x2="471.2" y2="466.6" stroke="#6e7f96" stroke-width="1.2"/>
<line x1="512.4" y1="462.8" x2="512.4" y2="466.6" stroke="#6e7f96" stroke-width="1.2"/>
<text x="348.2" y="475.3" font-size="6" fill="#36425c" font-weight="normal" text-anchor="middle">0</text>
<text x="430" y="475.3" font-size="6" fill="#36425c" font-weight="normal" text-anchor="middle">100</text>
<text x="512.4" y="475.3" font-size="6" fill="#36425c" font-weight="normal" text-anchor="middle">200</text>
<text transform="translate(371.12,343.30) scale(0.9401,1)" font-size="20.42" font-weight="bold" fill="#000" stroke="#000" stroke-width="0.5">3</text>
<text transform="translate(360.62,451.80) scale(0.9893,1)" font-size="16.25" font-weight="bold" fill="#000" stroke="#000" stroke-width="0.5">Spike</text>
<polyline points="318.2,421.5 318.2,420.8 318.2,419.8 318.2,418.5 318.3,417.0 318.3,415.4 318.3,413.8 318.3,412.1 318.3,410.5 318.4,409.0 318.4,407.7 318.4,406.6 318.4,405.9 318.4,405.5 318.5,405.6 318.5,406.2 318.5,406.6 318.5,407.1 318.5,407.6 318.5,408.3 318.5,409.0 318.6,409.8 318.6,410.7 318.6,411.6 318.6,412.6 318.6,413.7 318.6,414.8 318.6,416.0 318.6,417.2 318.6,418.5 318.7,419.7 318.7,421.1 318.7,422.4 318.7,423.7 318.7,425.1 318.7,426.5 318.7,427.8 318.7,429.2 318.7,430.5 318.8,431.9 318.8,433.2 318.8,434.5 318.8,435.8 318.8,437.0 318.8,438.2 318.8,439.3 318.8,440.4 318.9,441.5 318.9,442.5 318.9,443.4 318.9,444.2 318.9,445.0 318.9,445.7 318.9,446.3 319.0,446.8 319.0,447.3 319.0,447.6 319.0,447.8 319.0,447.9 319.0,447.8 319.1,447.6 319.1,447.1 319.1,446.5 319.1,445.7 319.2,444.7 319.2,443.7 319.2,442.5 319.2,441.2 319.2,439.9 319.3,438.5 319.3,437.0 319.3,435.5 319.3,434.0 319.4,432.5 319.4,431.0 319.4,429.5 319.5,428.1 319.5,426.7 319.5,425.4 319.6,424.2 319.6,423.1 319.6,422.1 319.7,421.2 319.7,420.5 319.8,419.9 320.7,419.3 322.0,422.6 322.7,423.7 323.4,422.9 324.2,420.2 325.0,419.9 326.0,420.7 326.8,421.6 327.6,421.7 328.5,423.7 329.5,424.4 330.4,423.7 331.2,424.0 332.0,424.6 332.8,424.3 333.6,422.1 334.2,421.8 334.9,422.5 335.5,420.9 336.0,419.3 336.5,419.3 336.8,420.3 337.1,421.6 337.4,423.0 338.0,424.7 338.8,425.6 339.8,424.0 340.9,426.7 342.0,428.1 343.0,426.5 344.1,427.1 345.2,426.7 346.4,425.5 347.3,425.0 348.0,423.6" fill="none" stroke="#f7a23d" stroke-width="1.0" stroke-linejoin="round" stroke-linecap="round"/>
<polyline points="318.2,420.2 318.2,419.5 318.2,418.5 318.2,417.3 318.3,415.8 318.3,414.3 318.3,412.6 318.3,411.0 318.3,409.4 318.4,408.0 318.4,406.7 318.4,405.7 318.4,405.0 318.4,404.8 318.5,404.9 318.5,405.6 318.5,405.9 318.5,406.4 318.5,407.0 318.5,407.7 318.5,408.4 318.6,409.3 318.6,410.2 318.6,411.2 318.6,412.2 318.6,413.3 318.6,414.5 318.6,415.7 318.6,416.9 318.6,418.2 318.7,419.5 318.7,420.9 318.7,422.2 318.7,423.6 318.7,425.0 318.7,426.4 318.7,427.8 318.7,429.2 318.7,430.6 318.8,431.9 318.8,433.3 318.8,434.6 318.8,435.9 318.8,437.2 318.8,438.4 318.8,439.6 318.8,440.7 318.9,441.8 318.9,442.8 318.9,443.7 318.9,444.6 318.9,445.4 318.9,446.1 318.9,446.7 319.0,447.3 319.0,447.7 319.0,448.0 319.0,448.2 319.0,448.4 319.0,448.3 319.1,448.1 319.1,447.7 319.1,447.2 319.1,446.5 319.1,445.7 319.2,444.8 319.2,443.7 319.2,442.6 319.2,441.4 319.2,440.2 319.3,438.9 319.3,437.5 319.3,436.1 319.3,434.7 319.3,433.3 319.4,431.9 319.4,430.5 319.4,429.1 319.4,427.7 319.5,426.5 319.5,425.2 319.5,424.1 319.6,423.0 319.6,422.0 319.7,421.2 319.7,420.4 319.8,419.8 319.8,419.3 320.7,419.7 322.0,422.1 322.7,421.8 323.4,420.5 324.2,418.6 325.0,419.2 326.0,418.9 326.8,418.1 327.6,417.1 328.5,418.7 329.5,419.5 330.4,419.6 331.2,423.4 332.0,424.3 332.8,423.4 333.6,420.4 334.2,418.5 334.9,417.3 335.5,417.3 336.0,418.0 336.5,418.1 336.8,418.4 337.1,419.0 337.4,419.5 338.0,420.4 338.8,421.0 339.8,421.6 340.9,422.8 342.0,424.3 343.0,425.8 344.1,423.9 345.2,423.6 346.4,423.6 347.3,422.3 348.0,422.8" fill="none" stroke="#cc80d8" stroke-width="1.0" stroke-linejoin="round" stroke-linecap="round"/>
<polyline points="318.2,422.4 318.2,421.7 318.2,420.7 318.2,419.4 318.3,417.9 318.3,416.3 318.3,414.6 318.3,412.9 318.3,411.3 318.4,409.8 318.4,408.5 318.4,407.4 318.4,406.6 318.4,406.3 318.5,406.3 318.5,406.9 318.5,407.3 318.5,407.7 318.5,408.3 318.5,408.9 318.5,409.6 318.6,410.4 318.6,411.3 318.6,412.3 318.6,413.3 318.6,414.3 318.6,415.5 318.6,416.6 318.6,417.8 318.6,419.1 318.7,420.3 318.7,421.7 318.7,423.0 318.7,424.3 318.7,425.7 318.7,427.0 318.7,428.4 318.7,429.8 318.7,431.1 318.8,432.4 318.8,433.7 318.8,435.0 318.8,436.3 318.8,437.5 318.8,438.7 318.8,439.8 318.8,440.9 318.9,442.0 318.9,442.9 318.9,443.8 318.9,444.7 318.9,445.4 318.9,446.1 318.9,446.7 319.0,447.2 319.0,447.6 319.0,447.9 319.0,448.1 319.0,448.2 319.0,448.1 319.1,447.8 319.1,447.3 319.1,446.7 319.1,445.9 319.1,445.0 319.2,443.9 319.2,442.8 319.2,441.5 319.2,440.2 319.2,438.8 319.3,437.3 319.3,435.8 319.3,434.3 319.3,432.8 319.4,431.3 319.4,429.7 319.4,428.4 319.5,427.1 319.5,425.9 319.5,424.7 319.6,423.7 319.6,422.7 319.7,421.9 319.7,421.2 319.7,420.6 319.8,420.2 320.7,422.3 322.0,424.3 322.7,422.6 323.4,421.5 324.2,421.3 325.0,418.9 326.0,418.0 326.8,418.4 327.6,419.2 328.5,421.4 329.5,422.1 330.4,421.9 331.2,425.2 332.0,423.6 332.8,420.9 333.6,420.4 334.2,419.1 334.9,417.7 335.5,418.1 336.0,419.3 336.5,419.8 336.8,420.3 337.1,421.1 337.4,421.9 338.0,423.1 338.8,423.9 339.8,423.9 340.9,425.7 342.0,425.2 343.0,424.3 344.1,424.3 345.2,423.8 346.4,422.2 347.3,422.0 348.0,423.6" fill="none" stroke="#f27fb8" stroke-width="1.0" stroke-linejoin="round" stroke-linecap="round"/>
<polyline points="318.2,420.2 318.2,419.5 318.2,418.5 318.2,417.3 318.3,415.9 318.3,414.3 318.3,412.7 318.3,411.1 318.3,409.5 318.4,408.1 318.4,406.9 318.4,405.9 318.4,405.2 318.4,404.9 318.5,405.1 318.5,405.8 318.5,406.2 318.5,406.7 318.5,407.3 318.5,407.9 318.5,408.7 318.6,409.5 318.6,410.5 318.6,411.5 318.6,412.5 318.6,413.6 318.6,414.8 318.6,416.0 318.6,417.3 318.6,418.5 318.7,419.9 318.7,421.2 318.7,422.6 318.7,424.0 318.7,425.4 318.7,426.8 318.7,428.2 318.7,429.6 318.7,431.0 318.8,432.4 318.8,433.8 318.8,435.1 318.8,436.4 318.8,437.7 318.8,438.9 318.8,440.1 318.8,441.2 318.9,442.3 318.9,443.3 318.9,444.3 318.9,445.1 318.9,445.9 318.9,446.7 318.9,447.3 319.0,447.8 319.0,448.2 319.0,448.6 319.0,448.8 319.0,448.9 319.0,448.9 319.1,448.7 319.1,448.3 319.1,447.8 319.1,447.1 319.1,446.3 319.2,445.5 319.2,444.5 319.2,443.4 319.2,442.3 319.2,441.0 319.2,439.8 319.3,438.4 319.3,437.1 319.3,435.7 319.3,434.3 319.4,432.9 319.4,431.5 319.4,430.1 319.4,428.7 319.5,427.3 319.5,425.9 319.5,424.6 319.6,423.3 319.6,422.2 319.6,421.1 319.7,420.1 319.7,419.2 319.8,418.5 319.8,417.8 320.7,415.8 322.0,421.0 322.7,420.3 323.4,419.0 324.2,417.4 325.0,417.5 326.0,417.5 326.8,417.2 327.6,415.9 328.5,417.9 329.5,419.9 330.4,420.9 331.2,421.0 332.0,422.0 332.8,422.4 333.6,421.0 334.2,419.0 334.9,416.8 335.5,415.4 336.0,414.7 336.5,414.9 336.8,415.7 337.1,416.9 337.4,418.2 338.0,420.8 338.8,423.2 339.8,423.3 340.9,423.3 342.0,422.8 343.0,422.9 344.1,421.9 345.2,421.4 346.4,420.4 347.3,419.3 348.0,420.2" fill="none" stroke="#57c45e" stroke-width="1.0" stroke-linejoin="round" stroke-linecap="round"/>
<polyline points="318.2,424.5 318.2,423.8 318.2,422.7 318.2,421.5 318.3,420.0 318.3,418.3 318.3,416.6 318.3,414.9 318.3,413.3 318.4,411.8 318.4,410.4 318.4,409.3 318.4,408.6 318.4,408.2 318.5,408.2 318.5,408.8 318.5,409.2 318.5,409.6 318.5,410.2 318.5,410.8 318.5,411.5 318.6,412.3 318.6,413.2 318.6,414.1 318.6,415.1 318.6,416.1 318.6,417.2 318.6,418.4 318.6,419.6 318.6,420.8 318.7,422.1 318.7,423.4 318.7,424.7 318.7,426.0 318.7,427.4 318.7,428.7 318.7,430.1 318.7,431.4 318.7,432.7 318.8,434.1 318.8,435.4 318.8,436.7 318.8,437.9 318.8,439.1 318.8,440.3 318.8,441.4 318.8,442.5 318.9,443.5 318.9,444.5 318.9,445.4 318.9,446.2 318.9,447.0 318.9,447.7 318.9,448.3 319.0,448.8 319.0,449.2 319.0,449.5 319.0,449.7 319.0,449.8 319.0,449.7 319.1,449.4 319.1,448.9 319.1,448.3 319.1,447.5 319.2,446.5 319.2,445.5 319.2,444.3 319.2,443.0 319.2,441.7 319.3,440.2 319.3,438.8 319.3,437.3 319.3,435.7 319.4,434.2 319.4,432.7 319.4,431.2 319.5,429.8 319.5,428.5 319.5,427.3 319.6,426.1 319.6,425.1 319.6,424.2 319.7,423.4 319.7,422.7 319.8,422.2 320.7,422.6 322.0,424.8 322.7,422.9 323.4,421.1 324.2,419.8 325.0,421.0 326.0,420.3 326.8,419.5 327.6,421.1 328.5,423.7 329.5,425.5 330.4,425.7 331.2,423.4 332.0,422.9 332.8,422.5 333.6,422.0 334.2,422.2 334.9,422.7 335.5,420.4 336.0,418.2 336.5,418.2 336.8,419.5 337.1,421.0 337.4,422.6 338.0,423.3 338.8,423.6 339.8,424.3 340.9,426.6 342.0,425.7 343.0,426.1 344.1,427.2 345.2,427.2 346.4,425.6 347.3,424.6 348.0,425.2" fill="none" stroke="#c09a3c" stroke-width="1.0" stroke-linejoin="round" stroke-linecap="round"/>
<polyline points="318.2,424.4 318.2,423.7 318.2,422.7 318.2,421.4 318.3,420.0 318.3,418.4 318.3,416.7 318.3,415.0 318.3,413.4 318.4,412.0 318.4,410.7 318.4,409.6 318.4,408.9 318.4,408.6 318.5,408.7 318.5,409.3 318.5,409.6 318.5,410.1 318.5,410.7 318.5,411.3 318.5,412.1 318.6,412.9 318.6,413.8 318.6,414.7 318.6,415.8 318.6,416.8 318.6,418.0 318.6,419.2 318.6,420.4 318.6,421.6 318.7,422.9 318.7,424.3 318.7,425.6 318.7,427.0 318.7,428.3 318.7,429.7 318.7,431.1 318.7,432.5 318.7,433.8 318.8,435.2 318.8,436.5 318.8,437.8 318.8,439.1 318.8,440.3 318.8,441.5 318.8,442.7 318.8,443.8 318.9,444.9 318.9,445.8 318.9,446.8 318.9,447.6 318.9,448.4 318.9,449.1 318.9,449.7 319.0,450.2 319.0,450.6 319.0,450.9 319.0,451.1 319.0,451.2 319.0,451.1 319.1,450.8 319.1,450.4 319.1,449.8 319.1,449.1 319.1,448.2 319.2,447.2 319.2,446.1 319.2,444.9 319.2,443.6 319.2,442.3 319.3,440.9 319.3,439.5 319.3,438.0 319.3,436.5 319.4,435.0 319.4,433.5 319.4,432.1 319.4,430.6 319.5,429.2 319.5,427.9 319.5,426.6 319.6,425.4 319.6,424.3 319.7,423.4 319.7,422.5 319.7,421.8 319.8,421.2 320.7,419.8 322.0,420.2 322.7,420.1 323.4,420.1 324.2,420.5 325.0,420.2 326.0,418.0 326.8,416.4 327.6,417.5 328.5,420.8 329.5,421.5 330.4,420.2 331.2,422.8 332.0,422.5 332.8,421.5 333.6,421.6 334.2,421.1 334.9,420.5 335.5,419.2 336.0,418.2 336.5,418.1 336.8,418.9 337.1,419.9 337.4,421.0 338.0,421.8 338.8,422.5 339.8,424.4 340.9,424.9 342.0,424.2 343.0,424.2 344.1,424.2 345.2,422.9 346.4,421.3 347.3,420.9 348.0,421.5" fill="none" stroke="#e9d23a" stroke-width="1.0" stroke-linejoin="round" stroke-linecap="round"/>
<line x1="350.6" y1="420" x2="350.6" y2="432.5" stroke="#f7a23d" stroke-width="1.0"/>
<polyline points="350.8,415.7 350.8,415.2 350.8,414.6 350.8,414.0 350.8,413.3 350.8,412.7 350.8,412.0 350.8,411.2 350.8,410.4 350.8,409.6 350.8,408.8 350.8,407.9 350.8,407.0 350.8,406.1 350.8,405.1 350.8,404.1 350.8,403.1 350.8,402.1 350.8,401.0 350.8,399.9 350.8,398.8 350.8,397.7 350.8,396.6 350.8,395.4 350.8,394.3 350.8,393.1 350.8,391.9 350.8,390.6 350.8,389.4 350.9,388.2 350.9,386.9 350.9,385.7 350.9,384.4 350.9,383.1 350.9,381.8 350.9,380.5 350.9,379.2 350.9,377.9 350.9,376.6 350.9,375.3 350.9,374.0 350.9,372.7 350.9,371.4 350.9,370.1 350.9,368.8 350.9,367.6 350.9,366.3 350.9,365.0 350.9,363.7 350.9,362.5 350.9,361.2 350.9,360.0 350.9,358.8 350.9,357.6 350.9,356.4 350.9,355.2 350.9,354.0 350.9,352.9 350.9,351.7 350.9,350.6 350.9,349.5 350.9,348.5 350.9,347.4 350.9,346.4 350.9,345.4 350.9,344.4 351.0,343.5 351.0,342.5 351.0,341.7 351.0,340.8 351.0,340.0 351.0,339.2 351.0,338.4 351.0,337.7 351.0,337.0 351.0,336.3 351.0,335.7 351.0,335.1 351.0,334.5 351.0,334.0 351.0,333.6 351.0,333.1 351.0,332.7 351.0,331.7 351.0,331.0 351.0,330.8 351.0,330.9 351.0,331.3 351.0,332.0 351.1,333.0 351.1,334.2 351.1,335.6 351.1,337.1 351.1,338.8 351.1,340.5 351.1,342.4 351.1,344.2 351.1,346.0 351.1,347.8 351.2,349.5 351.2,351.1 351.2,352.6 351.2,353.9 351.2,355.0 351.3,355.8 351.3,356.3 351.5,357.1 351.9,355.7 352.2,353.4 352.5,351.9 352.7,350.7 352.8,349.2 353.0,348.1 353.2,347.9 353.4,348.5 353.5,349.5 353.7,350.7 353.9,352.1 354.1,353.5 354.3,354.7 354.5,355.7 354.8,356.8 355.2,357.3 356.0,357.8 356.4,358.1 356.8,359.1 357.3,360.2 357.9,361.4 358.5,362.0 359.1,362.6 359.8,363.3 360.5,364.0 361.2,364.9 362.0,365.7 362.8,366.7 363.7,367.2 364.6,366.8 365.6,367.4 366.6,367.9 367.6,367.8 368.7,367.7 369.7,368.2 370.9,368.6 372.0,368.9 372.9,369.3 373.9,370.0 374.9,370.7 375.9,371.1 376.9,370.6 378.0,371.1 379.0,372.1 380.1,371.9 381.1,372.6 382.1,373.0 383.1,373.1 384.1,373.1 385.0,373.0 386.1,373.4 387.2,374.6 388.2,375.1 389.1,375.2 390.1,375.0 391.0,374.7 391.9,375.3 392.9,376.3 393.9,376.5 395.0,376.9 396.0,377.3 397.0,377.6 398.1,377.9 399.3,377.9 400.5,377.6 401.6,377.6 402.7,378.0 403.8,378.2 404.8,378.6 405.7,379.0 406.4,379.0 407.0,379.1" fill="none" stroke="#e9d23a" stroke-width="1.2" stroke-linejoin="round" stroke-linecap="round"/>
<polyline points="351.0,372.4 351.1,371.6 351.2,370.5 351.3,369.4 351.5,368.5 352.1,367.0 353.0,366.0 353.4,366.2 353.8,366.6 354.2,368.2 354.7,370.0 355.3,371.8 356.0,372.9 356.6,373.6 357.2,373.9 357.9,374.2 358.6,375.5 359.3,377.2 360.1,378.0 361.0,378.6 362.0,378.4 362.8,379.2 363.7,380.2 364.6,379.7 365.6,379.5 366.6,379.8 367.6,380.1 368.7,380.3 369.7,380.4 370.9,380.5 372.0,380.0 372.9,380.4 373.9,380.6 374.9,380.4 375.9,380.8 376.9,381.4 378.0,381.6 379.0,381.4 380.1,382.0 381.1,382.8 382.1,383.2 383.1,382.6 384.1,383.0 385.0,383.2 386.1,382.9 387.2,384.0 388.2,383.7 389.1,383.3 390.1,383.5 391.0,384.1 391.9,384.5 392.9,384.2 393.9,384.4 395.0,384.6 396.0,384.8 397.0,384.8 398.1,384.9 399.3,384.8 400.5,384.8 401.6,385.0 402.7,385.3 403.8,385.5 404.8,385.8 405.7,386.1 406.4,386.8 407.0,387.3" fill="none" stroke="#cc80d8" stroke-width="1.2" stroke-linejoin="round" stroke-linecap="round"/>
<polyline points="351.0,391.5 351.1,390.8 351.1,389.7 351.2,388.4 351.3,387.2 351.5,386.4 352.0,385.0 353.0,384.9 353.6,385.6 354.3,386.0 355.2,386.4 356.4,386.9 358.0,387.3 358.7,387.3 359.5,387.5 360.3,388.6 361.2,389.2 362.2,389.1 363.2,388.7 364.2,388.9 365.2,389.5 366.3,389.9 367.4,390.4 368.6,390.1 369.7,389.8 370.9,390.1 372.0,390.1 372.9,390.8 373.8,391.5 374.8,392.1 375.8,392.1 376.7,391.8 377.7,391.4 378.8,392.0 379.8,392.0 380.8,392.0 381.8,392.4 382.9,393.1 383.9,393.1 385.0,393.1 386.0,393.5 387.0,393.7 388.0,394.1 389.0,394.6 390.0,395.3 391.1,395.0 392.1,395.0 393.3,395.6 394.4,395.5 395.6,395.5 396.8,395.7 397.9,396.3 399.1,397.0 400.2,397.2 401.3,397.3 402.3,397.6 403.3,397.8 404.2,397.7 405.0,397.4 405.8,397.2 406.4,397.3 407.0,397.3" fill="none" stroke="#c09a3c" stroke-width="1.2" stroke-linejoin="round" stroke-linecap="round"/>
<polyline points="351.0,408.3 351.1,407.7 351.2,406.7 351.3,405.7 351.5,404.8 351.7,403.8 352.0,402.6 352.4,401.9 353.0,401.6 353.5,401.9 353.9,402.5 354.4,403.0 355.0,403.5 355.8,404.2 356.8,404.9 358.0,405.5 358.7,405.6 359.5,405.7 360.3,406.0 361.2,406.3 362.2,406.4 363.2,407.4 364.2,407.4 365.2,406.8 366.3,406.9 367.4,408.0 368.6,408.5 369.7,408.0 370.9,407.3 372.0,407.8 372.9,408.7 373.8,408.9 374.8,408.3 375.8,408.7 376.7,409.0 377.7,409.1 378.8,409.2 379.8,408.7 380.8,408.7 381.8,409.7 382.9,409.9 383.9,409.7 385.0,409.5 386.0,409.5 387.0,410.1 388.0,410.6 389.0,411.0 390.0,411.0 391.1,410.3 392.1,410.3 393.3,411.0 394.4,410.7 395.6,411.6 396.8,411.9 397.9,411.5 399.1,411.5 400.2,412.1 401.3,412.2 402.3,411.4 403.3,411.2 404.2,411.7 405.0,412.4 405.8,412.7 406.4,412.2 407.0,411.7" fill="none" stroke="#f27fb8" stroke-width="1.2" stroke-linejoin="round" stroke-linecap="round"/>
<polyline points="351.0,415.6 350.7,413.9 351.5,412.9 352.0,413.2 352.6,413.7 353.3,414.3 354.1,414.7 355.0,414.8 356.0,415.8 357.2,416.9 358.5,417.6 360.0,417.4 360.7,417.4 361.6,417.7 362.4,417.8 363.3,417.4 364.3,417.1 365.3,417.2 366.3,417.9 367.4,417.0 368.5,417.2 369.6,417.8 370.7,417.6 371.8,417.0 372.9,416.8 374.0,416.4 375.1,415.9 376.1,415.9 377.2,416.6 378.2,416.8 379.1,416.7 380.0,416.6 381.2,416.0 382.3,415.9 383.4,416.7 384.4,417.0 385.5,416.9 386.5,416.7 387.5,416.4 388.5,416.1 389.5,416.0 390.4,415.9 391.3,415.6 392.3,415.4 393.2,415.6 394.1,416.7 395.0,416.7 396.1,416.2 397.3,416.4 398.5,416.7 399.7,417.6 400.8,417.9 401.9,417.9 403.0,417.9 404.0,418.3 404.9,418.2 405.7,418.2 406.4,418.5 407.0,418.7" fill="none" stroke="#f7a23d" stroke-width="1.2" stroke-linejoin="round" stroke-linecap="round"/>
<polyline points="351.0,414.8 351.0,413.5 351.1,411.8 351.5,410.6 352.0,410.5 352.7,411.1 353.6,412.6 355.0,412.9 355.6,413.3 356.4,414.0 357.1,414.4 357.9,414.7 358.8,415.5 359.8,416.1 360.7,416.0 361.7,416.9 362.8,417.5 363.9,417.6 365.0,417.6 365.8,418.6 366.7,419.3 367.5,419.6 368.3,419.2 369.2,418.4 370.1,419.0 371.0,419.3 371.9,419.2 372.9,419.1 373.9,419.2 375.0,419.4 376.2,419.6 377.4,419.0 378.6,419.1 380.0,419.3 380.8,419.7 381.7,420.3 382.6,420.3 383.6,420.3 384.6,420.1 385.7,419.7 386.8,420.1 388.0,420.5 389.1,420.6 390.3,420.4 391.5,419.4 392.7,419.6 393.8,419.6 395.0,419.7 396.2,420.1 397.3,420.6 398.5,420.2 399.6,419.9 400.6,419.7 401.6,419.6 402.6,419.6 403.5,420.2 404.3,420.9 405.1,421.1 405.8,421.2 406.5,421.1 407.0,421.1" fill="none" stroke="#57c45e" stroke-width="1.2" stroke-linejoin="round" stroke-linecap="round"/>
<polyline points="351.0,418.6 351.0,417.1 351.5,415.5 352.0,415.2 352.7,415.6 353.6,417.1 355.0,417.4 355.7,417.6 356.6,417.9 357.5,418.5 358.5,418.8 359.6,418.8 360.7,419.3 361.8,420.1 362.9,420.5 364.0,420.9 365.0,421.8 366.0,421.8 367.0,421.9 368.0,422.0 369.0,422.1 370.0,422.2 371.0,422.6 372.0,423.4 373.0,423.8 374.0,423.6 375.0,423.3 376.0,424.2 377.0,424.0 378.0,424.1 379.0,425.0 380.0,424.6 381.0,424.8 382.0,425.4 383.0,425.3 384.0,425.9 385.0,426.2 386.0,426.0 387.0,425.1 387.9,424.5 388.9,424.2 389.9,424.4 390.9,424.0 391.9,423.5 392.9,423.3 393.9,424.0 395.0,424.3 396.0,424.1 397.0,422.8 398.1,422.7 399.3,423.3 400.5,424.2 401.6,424.7 402.7,424.7 403.8,424.6 404.8,424.6 405.7,424.8 406.4,424.6 407.0,424.5" fill="none" stroke="#f26b32" stroke-width="1.2" stroke-linejoin="round" stroke-linecap="round"/>
<path d="M407.9,376.1V389.8M411.7,380.4V391.7" stroke="#2c3a52" stroke-width="1.9" fill="none"/>
<line x1="407.9" y1="379.4" x2="411.7" y2="382.0" stroke="#2c3a52" stroke-width="1.8"/>
<line x1="407.9" y1="387.0" x2="411.7" y2="389.0" stroke="#2c3a52" stroke-width="1.8"/>
<path d="M407.9,395.5V401.1M411.7,398.3V403.5" stroke="#2c3a52" stroke-width="1.9" fill="none"/>
<line x1="407.9" y1="397.5" x2="411.7" y2="400.5" stroke="#2c3a52" stroke-width="1.8"/>
<path d="M407.9,408.7V428.0M411.7,408.7V428.0" stroke="#2c3a52" stroke-width="1.9" fill="none"/>
<line x1="407.9" y1="411.5" x2="411.7" y2="411.5" stroke="#2c3a52" stroke-width="1.8"/>
<line x1="407.9" y1="418.0" x2="411.7" y2="418.0" stroke="#2c3a52" stroke-width="1.8"/>
<line x1="407.9" y1="422.4" x2="411.7" y2="422.4" stroke="#2c3a52" stroke-width="1.8"/>
<line x1="407.9" y1="426.6" x2="411.7" y2="426.6" stroke="#2c3a52" stroke-width="1.8"/>
<line x1="415.3" y1="425" x2="415.3" y2="451" stroke="#f7a23d" stroke-width="1.1"/>
<polyline points="415.5,431.9 415.6,431.2 415.8,430.0 416.1,428.9 416.5,428.2 416.9,427.8 417.5,427.9 420.0,427.9 420.6,428.0 421.3,428.1 422.1,428.2 422.9,428.5 423.8,428.8 424.8,428.9 425.8,428.8 426.8,428.4 427.9,427.6 429.0,426.9 430.1,427.1 431.2,427.4 432.3,427.8 433.5,428.1 434.6,428.0 435.7,428.4 436.8,429.3 437.9,429.7 439.0,429.4 440.0,429.0 441.0,428.6 442.0,428.2 443.0,428.0 444.1,427.8 445.1,427.6 446.2,427.3 447.2,427.7 448.2,428.2 449.3,428.6 450.3,429.0 451.3,428.4 452.4,427.2 453.4,426.7 454.4,427.0 455.4,427.2 456.3,427.0 457.3,426.7 458.2,427.0 459.1,427.3 460.0,427.1 461.1,426.4 462.2,425.9 463.2,425.5 464.2,425.5 465.2,426.2 466.1,426.9 467.0,426.2 468.0,425.6 468.9,425.6 469.8,426.0 470.8,426.3 471.8,426.6 472.8,426.9 473.9,426.3 475.0,425.8 475.9,426.2 476.8,426.6 477.7,426.7 478.6,426.5 479.6,426.2 480.5,425.1 481.5,424.1 482.5,424.4 483.5,424.7 484.5,425.3 485.5,426.0 486.5,426.1 487.6,425.8 488.6,425.4 489.7,424.7 490.7,424.8 491.8,426.1 492.9,426.9 493.9,426.6 495.0,426.4 496.0,426.1 497.0,425.8 498.0,426.0 499.1,426.2 500.2,425.6 501.4,425.1 502.5,425.8 503.7,426.2 504.9,425.6 506.0,425.3 507.2,426.2 508.3,427.0 509.4,427.5 510.5,427.3 511.6,426.2 512.6,425.5 513.6,425.6 514.5,425.7 515.3,426.1 516.1,426.4 516.8,426.8 517.5,427.1 518.0,427.3" fill="none" stroke="#57c45e" stroke-width="1.2" stroke-linejoin="round" stroke-linecap="round"/>
<polyline points="415.5,430.5 415.6,429.9 415.8,429.0 416.1,428.2 416.5,427.7 416.8,427.2 417.1,426.6 417.9,426.7 420.0,426.1 420.6,425.5 421.3,424.9 422.1,424.3 422.9,425.2 423.8,426.1 424.8,426.5 425.8,426.3 426.8,426.6 427.9,427.9 429.0,429.0 430.1,429.3 431.2,429.3 432.3,428.7 433.5,428.5 434.6,429.3 435.7,429.7 436.8,429.7 437.9,429.7 439.0,429.5 440.0,429.4 441.0,429.6 442.0,429.8 443.0,429.7 444.1,429.5 445.1,429.5 446.2,429.5 447.2,430.0 448.2,430.5 449.3,430.2 450.3,429.7 451.3,428.7 452.4,427.5 453.4,426.9 454.4,427.2 455.4,427.5 456.3,428.2 457.3,428.9 458.2,428.5 459.1,428.1 460.0,427.7 461.1,427.3 462.2,427.1 463.2,427.1 464.2,427.1 465.2,427.0 466.1,427.0 467.0,426.2 468.0,425.5 468.9,425.4 469.8,425.7 470.8,425.8 471.8,425.6 472.8,425.4 473.9,425.2 475.0,425.1 475.9,425.7 476.8,426.3 477.7,425.9 478.6,425.0 479.6,424.4 480.5,424.6 481.5,424.7 482.5,425.5 483.5,426.2 484.5,426.6 485.5,426.8 486.5,426.3 487.6,425.4 488.6,425.4 489.7,426.2 490.7,426.7 491.8,426.6 492.9,426.2 493.9,425.2 495.0,424.7 496.0,425.8 497.0,426.7 498.0,425.6 499.1,424.4 500.2,424.9 501.4,425.3 502.5,424.7 503.7,424.1 504.9,424.2 506.0,424.4 507.2,425.4 508.3,426.1 509.4,426.4 510.5,426.1 511.6,425.0 512.6,424.3 513.6,424.6 514.5,424.9 515.3,425.3 516.1,425.6 516.8,425.9 517.5,425.8 518.0,425.8" fill="none" stroke="#cc80d8" stroke-width="1.2" stroke-linejoin="round" stroke-linecap="round"/>
<polyline points="415.5,431.2 415.6,430.4 415.8,429.2 416.1,428.0 416.5,427.0 416.9,426.1 417.5,425.5 420.0,427.0 420.6,426.6 421.3,426.2 422.1,425.7 422.9,426.2 423.8,426.8 424.8,426.8 425.8,426.1 426.8,426.1 427.9,427.5 429.0,428.4 430.1,428.0 431.2,427.5 432.3,427.0 433.5,426.5 434.6,426.2 435.7,426.5 436.8,427.8 437.9,428.6 439.0,428.7 440.0,428.5 441.0,427.7 442.0,426.9 443.0,426.5 444.1,426.1 445.1,427.3 446.2,428.6 447.2,428.6 448.2,428.4 449.3,427.8 450.3,427.0 451.3,426.4 452.4,425.8 453.4,425.8 454.4,426.7 455.4,427.3 456.3,427.5 457.3,427.7 458.2,426.8 459.1,425.8 460.0,425.4 461.1,425.4 462.2,425.7 463.2,426.4 464.2,426.7 465.2,426.4 466.1,426.1 467.0,426.2 468.0,426.3 468.9,426.0 469.8,425.5 470.8,425.0 471.8,424.3 472.8,423.8 473.9,424.9 475.0,425.9 475.9,425.7 476.8,425.5 477.7,425.5 478.6,425.6 479.6,425.5 480.5,424.8 481.5,424.1 482.5,424.1 483.5,424.1 484.5,424.9 485.5,425.9 486.5,426.3 487.6,426.3 488.6,425.6 489.7,424.4 490.7,423.7 491.8,423.7 492.9,423.7 493.9,423.8 495.0,424.1 496.0,424.8 497.0,425.4 498.0,424.8 499.1,424.1 500.2,423.9 501.4,423.8 502.5,424.3 503.7,424.9 504.9,425.6 506.0,425.9 507.2,425.0 508.3,424.2 509.4,423.5 510.5,423.1 511.6,423.1 512.6,423.2 513.6,423.4 514.5,423.5 515.3,423.5 516.1,423.5 516.8,423.5 517.5,423.4 518.0,423.2" fill="none" stroke="#f27fb8" stroke-width="1.2" stroke-linejoin="round" stroke-linecap="round"/>
<polyline points="415.5,433.3 415.6,432.4 415.8,431.0 416.1,429.6 416.5,428.3 416.9,427.3 417.5,426.4 420.0,425.8 420.6,425.7 421.3,425.7 422.1,425.7 422.9,426.4 423.8,427.2 424.8,427.7 425.8,427.8 426.8,428.0 427.9,428.2 429.0,428.2 430.1,427.7 431.2,427.3 432.3,427.2 433.5,427.1 434.6,427.2 435.7,427.1 436.8,426.7 437.9,426.6 439.0,426.6 440.0,426.5 441.0,425.8 442.0,425.3 443.0,425.1 444.1,424.9 445.1,426.1 446.2,427.3 447.2,427.3 448.2,427.2 449.3,427.3 450.3,427.5 451.3,427.3 452.4,426.9 453.4,426.6 454.4,426.3 455.4,426.0 456.3,425.3 457.3,424.7 458.2,425.5 459.1,426.4 460.0,426.4 461.1,425.8 462.2,425.6 463.2,426.0 464.2,426.1 465.2,425.8 466.1,425.5 467.0,425.4 468.0,425.2 468.9,424.9 469.8,424.6 470.8,424.3 471.8,424.5 472.8,424.5 473.9,423.9 475.0,423.3 475.9,423.7 476.8,424.0 477.7,424.0 478.6,423.8 479.6,423.7 480.5,423.8 481.5,424.0 482.5,424.6 483.5,425.2 484.5,425.2 485.5,425.2 486.5,425.0 487.6,424.9 488.6,424.7 489.7,424.6 490.7,424.3 491.8,423.8 492.9,423.8 493.9,424.9 495.0,425.4 496.0,424.8 497.0,424.3 498.0,424.3 499.1,424.3 500.2,425.1 501.4,425.9 502.5,425.3 503.7,424.9 504.9,425.3 506.0,425.4 507.2,424.6 508.3,424.4 509.4,425.4 510.5,426.1 511.6,426.5 512.6,426.6 513.6,426.1 514.5,425.7 515.3,426.0 516.1,426.3 516.8,426.5 517.5,426.3 518.0,426.1" fill="none" stroke="#f7a23d" stroke-width="1.2" stroke-linejoin="round" stroke-linecap="round"/>
<polyline points="415.5,433.0 415.6,432.2 415.8,431.1 416.1,429.8 416.5,428.7 416.8,427.9 417.1,427.2 417.9,426.6 420.0,426.6 420.6,425.9 421.3,425.2 422.1,424.5 422.9,425.3 423.8,426.2 424.8,426.7 425.8,426.9 426.8,427.0 427.9,426.7 429.0,426.5 430.1,426.6 431.2,426.5 432.3,426.2 433.5,426.1 434.6,426.5 435.7,426.8 436.8,427.1 437.9,427.5 439.0,427.9 440.0,428.0 441.0,427.6 442.0,427.1 443.0,426.8 444.1,426.6 445.1,426.2 446.2,425.9 447.2,426.3 448.2,426.9 449.3,426.4 450.3,425.6 451.3,425.0 452.4,424.4 453.4,424.4 454.4,425.0 455.4,425.3 456.3,425.1 457.3,424.9 458.2,425.2 459.1,425.5 460.0,425.3 461.1,424.5 462.2,424.2 463.2,424.4 464.2,424.3 465.2,423.7 466.1,423.2 467.0,423.2 468.0,423.2 468.9,422.8 469.8,422.1 470.8,421.8 471.8,422.2 472.8,422.6 473.9,422.2 475.0,421.8 475.9,422.0 476.8,422.3 477.7,422.3 478.6,422.1 479.6,422.2 480.5,422.9 481.5,423.6 482.5,423.2 483.5,422.7 484.5,422.8 485.5,422.9 486.5,423.0 487.6,423.1 488.6,423.4 489.7,423.8 490.7,423.9 491.8,423.6 492.9,423.6 493.9,424.3 495.0,424.7 496.0,424.7 497.0,424.6 498.0,424.1 499.1,423.6 500.2,424.0 501.4,424.5 502.5,424.6 503.7,424.6 504.9,423.6 506.0,423.1 507.2,423.8 508.3,424.2 509.4,424.0 510.5,424.0 511.6,424.2 512.6,424.3 513.6,424.4 514.5,424.5 515.3,425.2 516.1,425.9 516.8,426.4 517.5,426.2 518.0,426.1" fill="none" stroke="#f26b32" stroke-width="1.2" stroke-linejoin="round" stroke-linecap="round"/>
<polyline points="415.5,431.2 415.6,430.3 415.8,429.1 416.1,427.9 416.5,427.1 416.9,426.7 417.5,426.7 420.0,427.6 420.6,427.5 421.3,427.2 422.1,427.0 422.9,427.4 423.8,427.8 424.8,427.8 425.8,427.4 426.8,427.4 427.9,428.1 429.0,428.7 430.1,428.8 431.2,428.8 432.3,428.5 433.5,428.6 434.6,429.4 435.7,429.4 436.8,428.2 437.9,428.1 439.0,429.5 440.0,430.3 441.0,429.5 442.0,428.7 443.0,428.3 444.1,427.9 445.1,428.1 446.2,428.4 447.2,428.5 448.2,428.5 449.3,428.0 450.3,427.3 451.3,427.6 452.4,428.6 453.4,429.0 454.4,428.9 455.4,428.7 456.3,428.6 457.3,428.5 458.2,428.5 459.1,428.5 460.0,428.6 461.1,429.0 462.2,428.8 463.2,428.1 464.2,427.7 465.2,427.7 466.1,427.7 467.0,428.2 468.0,428.6 468.9,428.7 469.8,428.6 470.8,428.1 471.8,427.1 472.8,426.0 473.9,425.9 475.0,425.9 475.9,426.9 476.8,427.9 477.7,428.0 478.6,427.6 479.6,427.1 480.5,426.2 481.5,425.4 482.5,425.6 483.5,425.9 484.5,426.1 485.5,426.3 486.5,426.5 487.6,426.6 488.6,426.5 489.7,426.3 490.7,426.2 491.8,426.3 492.9,426.5 493.9,426.9 495.0,427.3 496.0,427.9 497.0,428.3 498.0,428.0 499.1,427.7 500.2,428.1 501.4,428.4 502.5,426.9 503.7,425.7 504.9,426.2 506.0,426.8 507.2,427.9 508.3,428.3 509.4,427.9 510.5,427.4 511.6,427.1 512.6,426.8 513.6,426.7 514.5,426.6 515.3,427.4 516.1,428.1 516.8,428.6 517.5,428.8 518.0,428.9" fill="none" stroke="#c09a3c" stroke-width="1.2" stroke-linejoin="round" stroke-linecap="round"/>
<polyline points="415.3,406.4 415.3,407.0 415.4,407.7 415.4,408.6 415.5,409.6 415.5,410.6 415.6,411.8 415.6,412.9 415.7,414.0 415.8,415.2 415.8,416.2 415.9,417.2 416.0,418.1 416.1,419.2 416.3,420.3 416.4,421.3 416.6,422.2 416.7,423.1 416.9,424.0 417.1,424.9 417.3,425.7 417.5,426.5 417.7,427.5 417.9,428.6 418.1,429.7 418.4,430.8 418.7,431.7 419.2,432.5 420.0,433.2 420.7,433.7 421.5,434.2 422.4,434.6 423.5,435.1 424.5,435.6 425.6,435.9 426.8,435.6 427.9,435.4 429.0,436.0 430.0,436.6 431.0,436.8 432.0,436.7 433.0,436.7 434.0,436.8 435.0,436.8 436.0,437.0 437.0,437.2 438.0,437.4 439.0,437.5 440.0,437.6 441.0,437.8 442.0,437.9 443.0,438.1 444.0,438.5 445.0,438.9 446.0,439.0 447.0,439.0 448.0,439.0 449.0,438.8 450.0,438.7 451.0,438.2 452.0,437.6 453.0,437.1 454.0,437.0 455.0,436.9 456.0,436.5 457.0,436.2 458.0,435.9 459.0,436.2 460.0,436.6 461.0,436.6 461.8,436.4 462.7,436.2 463.5,435.6 464.4,434.9 465.3,434.3 466.3,434.4 467.4,434.6 468.6,434.1 470.0,433.3 470.8,433.4 471.6,434.0 472.5,434.6 473.4,434.4 474.4,433.9 475.4,433.5 476.5,434.2 477.5,434.9 478.6,435.1 479.7,435.1 480.8,435.2 481.9,435.5 483.0,435.7 484.1,435.7 485.1,435.7 486.2,435.5 487.2,435.3 488.2,435.1 489.1,434.8 490.0,434.5 491.1,434.3 492.3,434.3 493.4,434.5 494.4,434.8 495.4,435.1 496.5,434.7 497.4,434.2 498.4,433.6 499.4,432.8 500.3,432.0 501.3,432.3 502.2,432.7 503.1,432.6 504.1,431.8 505.0,431.1 506.1,430.7 507.2,430.4 508.4,430.6 509.6,431.2 510.7,431.5 511.9,431.4 513.0,431.1 514.0,430.4 515.0,429.8 515.9,429.8 516.7,429.9 517.4,430.1 518.0,430.0" fill="none" stroke="#e9d23a" stroke-width="1.2" stroke-linejoin="round" stroke-linecap="round"/>
<line x1="425.1" y1="330.4" x2="425.1" y2="386.8" stroke="#9aa3b5" stroke-width="1.0"/>
<line x1="424.6" y1="386.8" x2="528.2" y2="386.8" stroke="#9aa3b5" stroke-width="1.0"/>
<line x1="423.1" y1="381.8" x2="425.1" y2="381.8" stroke="#7f8ea3" stroke-width="0.8"/>
<text x="422.1" y="383.1" font-size="3.4" fill="#5a6578" font-weight="normal" text-anchor="end">0.5</text>
<line x1="423.1" y1="373.4" x2="425.1" y2="373.4" stroke="#7f8ea3" stroke-width="0.8"/>
<text x="422.1" y="374.7" font-size="3.4" fill="#5a6578" font-weight="normal" text-anchor="end">0.5</text>
<line x1="423.1" y1="365.0" x2="425.1" y2="365.0" stroke="#7f8ea3" stroke-width="0.8"/>
<text x="422.1" y="366.3" font-size="3.4" fill="#5a6578" font-weight="normal" text-anchor="end">0.5</text>
<line x1="423.1" y1="356.6" x2="425.1" y2="356.6" stroke="#7f8ea3" stroke-width="0.8"/>
<text x="422.1" y="357.90000000000003" font-size="3.4" fill="#5a6578" font-weight="normal" text-anchor="end">0.5</text>
<line x1="423.1" y1="348.2" x2="425.1" y2="348.2" stroke="#7f8ea3" stroke-width="0.8"/>
<text x="422.1" y="349.5" font-size="3.4" fill="#5a6578" font-weight="normal" text-anchor="end">0.5</text>
<line x1="423.1" y1="339.79999999999995" x2="425.1" y2="339.79999999999995" stroke="#7f8ea3" stroke-width="0.8"/>
<text x="422.1" y="341.09999999999997" font-size="3.4" fill="#5a6578" font-weight="normal" text-anchor="end">0.5</text>
<line x1="423.1" y1="331.4" x2="425.1" y2="331.4" stroke="#7f8ea3" stroke-width="0.8"/>
<text x="422.1" y="332.7" font-size="3.4" fill="#5a6578" font-weight="normal" text-anchor="end">0.5</text>
<line x1="433.1" y1="386.8" x2="433.1" y2="388.3" stroke="#7f8ea3" stroke-width="0.8"/>
<text x="433.1" y="392.8" font-size="3.2" fill="#5a6578" font-weight="normal" text-anchor="middle">0.0004</text>
<line x1="451.32000000000005" y1="386.8" x2="451.32000000000005" y2="388.3" stroke="#7f8ea3" stroke-width="0.8"/>
<text x="451.32000000000005" y="392.8" font-size="3.2" fill="#5a6578" font-weight="normal" text-anchor="middle">0.0004</text>
<line x1="469.54" y1="386.8" x2="469.54" y2="388.3" stroke="#7f8ea3" stroke-width="0.8"/>
<text x="469.54" y="392.8" font-size="3.2" fill="#5a6578" font-weight="normal" text-anchor="middle">0.0004</text>
<line x1="487.76000000000005" y1="386.8" x2="487.76000000000005" y2="388.3" stroke="#7f8ea3" stroke-width="0.8"/>
<text x="487.76000000000005" y="392.8" font-size="3.2" fill="#5a6578" font-weight="normal" text-anchor="middle">0.0004</text>
<line x1="505.98" y1="386.8" x2="505.98" y2="388.3" stroke="#7f8ea3" stroke-width="0.8"/>
<text x="505.98" y="392.8" font-size="3.2" fill="#5a6578" font-weight="normal" text-anchor="middle">0.0004</text>
<line x1="524.2" y1="386.8" x2="524.2" y2="388.3" stroke="#7f8ea3" stroke-width="0.8"/>
<text x="524.2" y="392.8" font-size="3.2" fill="#5a6578" font-weight="normal" text-anchor="middle">0.0004</text>
<line x1="462.7" y1="330.4" x2="462.7" y2="386.8" stroke="#6cb2e8" stroke-width="1.15"/>
<polyline points="433.3,384.9 433.6,384.4 433.9,383.7 434.3,382.9 434.7,382.0 435.2,381.0 435.7,380.0 436.3,379.0 436.8,378.0 437.4,377.0 438.0,376.0 438.6,375.1 439.2,374.3 439.8,373.3 440.5,372.4 441.1,371.5 441.8,370.6 442.5,369.7 443.2,368.8 443.8,368.0 444.4,367.2 445.0,366.4 445.7,365.4 446.4,364.6 447.0,363.7 447.6,363.0 448.1,362.2 448.7,361.5 449.3,360.8 450.0,360.0 450.7,359.2 451.4,358.4 452.1,357.7 452.8,356.9 453.6,356.1 454.3,355.4 455.1,354.7 455.9,354.0 456.7,353.4 457.5,352.8 458.4,352.2 459.2,351.6 460.1,351.1 460.9,350.6 461.8,350.0 462.7,349.5 463.6,349.0 464.4,348.5 465.3,348.0 466.2,347.4 467.1,347.0 468.0,346.5 469.0,346.0 470.0,345.5 470.9,345.1 471.8,344.6 472.8,344.2 473.8,343.8 474.8,343.4 475.8,343.0 476.8,342.6 477.9,342.2 479.0,341.8 479.9,341.5 480.9,341.2 481.9,340.9 482.9,340.6 483.9,340.4 485.0,340.1 486.0,339.8 487.0,339.6 488.0,339.3 489.0,339.1 490.0,338.8 491.0,338.5 492.1,338.3 493.1,338.0 494.1,337.7 495.1,337.5 496.0,337.2 497.0,337.0 498.0,336.8 499.0,336.5 500.0,336.3 501.0,336.1 502.0,335.9 503.0,335.6 503.9,335.4 504.9,335.2 505.9,335.0 506.9,334.8 507.9,334.6 508.9,334.4 510.0,334.2 511.0,334.0 512.1,333.8 513.3,333.6 514.5,333.4 515.7,333.2 516.9,333.0 518.0,332.8 519.1,332.7 520.0,332.5 520.8,332.4 521.4,332.3" fill="none" stroke="#858585" stroke-width="1.0" stroke-linejoin="round" stroke-linecap="round"/>
<polyline points="433.3,384.9 433.6,384.4 433.9,383.7 434.3,382.9 434.7,382.0 435.2,381.0 435.7,380.0 436.3,379.0 436.8,378.0 437.4,377.0 438.0,376.0 438.6,375.1 439.2,374.3 439.8,373.3 440.5,372.4 441.1,371.5 441.8,370.6 442.5,369.7 443.2,368.8 443.8,368.0 444.4,367.2 445.0,366.4 445.7,365.4 446.4,364.6 447.0,363.7 447.6,363.0 448.1,362.2 448.7,361.5 449.3,360.8 450.0,360.0 450.7,359.2 451.4,358.4 452.1,357.7 452.8,356.9 453.6,356.1 454.3,355.4 455.1,354.7 455.9,354.0 456.7,353.4 457.5,352.8 458.4,352.2 459.2,351.6 460.1,351.1 460.9,350.6 461.8,350.0 462.7,349.5 463.6,349.0 464.4,348.5 465.3,348.0 466.2,347.4 467.1,347.0 468.0,346.5 469.0,346.0 470.0,345.5 470.9,345.1 471.8,344.6 472.8,344.2 473.8,343.8 474.8,343.4 475.8,343.0 476.8,342.6 477.9,342.2 479.0,341.8 479.9,341.5 480.9,341.2 481.9,340.9 482.9,340.6 483.9,340.4 485.0,340.1 486.0,339.8 487.0,339.6 488.0,339.3 489.0,339.1 490.0,338.8 491.0,338.5 492.1,338.3 493.1,338.0 494.1,337.7 495.1,337.5 496.0,337.2 497.0,337.0 498.0,336.8 499.0,336.5 500.0,336.3 501.0,336.1 502.0,335.9 503.0,335.6 503.9,335.4 504.9,335.2 505.9,335.0 506.9,334.8 507.9,334.6 508.9,334.4 510.0,334.2 511.0,334.0 512.1,333.8 513.3,333.6 514.5,333.4 515.7,333.2 516.9,333.0 518.0,332.8 519.1,332.7 520.0,332.5 520.8,332.4 521.4,332.3" fill="none" stroke="#2a2a2a" stroke-width="1.1" stroke-dasharray="0.9 2.6"/>
<circle cx="433.3" cy="384.9" r="0.95" fill="#f7a23d" fill-opacity="0.8"/>
<circle cx="435" cy="376" r="0.95" fill="#f7a23d" fill-opacity="0.8"/>
<circle cx="437" cy="378" r="0.95" fill="#57c45e" fill-opacity="0.8"/>
<circle cx="445" cy="366.4" r="0.95" fill="#f27fb8" fill-opacity="0.8"/>
<circle cx="455.9" cy="354" r="0.95" fill="#f7a23d" fill-opacity="0.8"/>
<circle cx="479" cy="341.8" r="0.95" fill="#cc80d8" fill-opacity="0.8"/>
<circle cx="521.4" cy="332.3" r="0.95" fill="#e9d23a" fill-opacity="0.8"/>
<text transform="translate(467.29,373.30) scale(1.0876,1)" font-size="14.35" font-weight="normal" fill="#ff0c0c" stroke="#ff0c0c" stroke-width="0.2">4.1 µM</text>
<line x1="46.6" y1="485.7" x2="46.6" y2="617.7" stroke="#6e7f96" stroke-width="1.3"/>
<line x1="46.0" y1="617.7" x2="278" y2="617.7" stroke="#6e7f96" stroke-width="1.3"/>
<line x1="43.4" y1="488.4" x2="46.6" y2="488.4" stroke="#6e7f96" stroke-width="1.2"/>
<text x="41.6" y="490.5" font-size="6" fill="#36425c" font-weight="normal" text-anchor="end">4</text>
<line x1="43.4" y1="513.8" x2="46.6" y2="513.8" stroke="#6e7f96" stroke-width="1.2"/>
<text x="41.6" y="515.9" font-size="6" fill="#36425c" font-weight="normal" text-anchor="end">3</text>
<line x1="43.4" y1="539.2" x2="46.6" y2="539.2" stroke="#6e7f96" stroke-width="1.2"/>
<text x="41.6" y="541.3000000000001" font-size="6" fill="#36425c" font-weight="normal" text-anchor="end">2</text>
<line x1="43.4" y1="564.6" x2="46.6" y2="564.6" stroke="#6e7f96" stroke-width="1.2"/>
<text x="41.6" y="566.7" font-size="6" fill="#36425c" font-weight="normal" text-anchor="end">1</text>
<line x1="43.4" y1="590" x2="46.6" y2="590" stroke="#6e7f96" stroke-width="1.2"/>
<text x="41.6" y="592.1" font-size="6" fill="#36425c" font-weight="normal" text-anchor="end">0</text>
<line x1="43.4" y1="615.4" x2="46.6" y2="615.4" stroke="#6e7f96" stroke-width="1.2"/>
<text x="41.6" y="617.5" font-size="6" fill="#36425c" font-weight="normal" text-anchor="end">-1</text>
<line x1="44.800000000000004" y1="501.1" x2="46.6" y2="501.1" stroke="#6e7f96" stroke-width="1.0"/>
<line x1="44.800000000000004" y1="526.5" x2="46.6" y2="526.5" stroke="#6e7f96" stroke-width="1.0"/>
<line x1="44.800000000000004" y1="551.9" x2="46.6" y2="551.9" stroke="#6e7f96" stroke-width="1.0"/>
<line x1="44.800000000000004" y1="577.3" x2="46.6" y2="577.3" stroke="#6e7f96" stroke-width="1.0"/>
<line x1="44.800000000000004" y1="602.7" x2="46.6" y2="602.7" stroke="#6e7f96" stroke-width="1.0"/>
<line x1="54.3" y1="617.7" x2="54.3" y2="621.5" stroke="#6e7f96" stroke-width="1.2"/>
<line x1="93.4" y1="617.7" x2="93.4" y2="621.5" stroke="#6e7f96" stroke-width="1.2"/>
<line x1="134.3" y1="617.7" x2="134.3" y2="621.5" stroke="#6e7f96" stroke-width="1.2"/>
<line x1="173.4" y1="617.7" x2="173.4" y2="621.5" stroke="#6e7f96" stroke-width="1.2"/>
<line x1="213" y1="617.7" x2="213" y2="621.5" stroke="#6e7f96" stroke-width="1.2"/>
<line x1="252.3" y1="617.7" x2="252.3" y2="621.5" stroke="#6e7f96" stroke-width="1.2"/>
<text x="93.4" y="629.3" font-size="6" fill="#36425c" font-weight="normal" text-anchor="middle">0</text>
<text x="173.4" y="629.3" font-size="6" fill="#36425c" font-weight="normal" text-anchor="middle">100</text>
<text x="252.3" y="629.3" font-size="6" fill="#36425c" font-weight="normal" text-anchor="middle">200</text>
<path d="M117.70,484.10L121.10,484.10L121.10,498.50L117.70,498.50L117.70,489.28Q116.26,490.15 114.40,490.72L114.40,487.84Q117.28,486.69 117.41,484.10Z" fill="#000" stroke="#000" stroke-width="0.5" stroke-linejoin="round"/>
<text transform="translate(124.41,498.50) scale(0.9625,1)" font-size="20.57" font-weight="bold" fill="#000" stroke="#000" stroke-width="0.5">d</text>
<text transform="translate(112.01,596.50) scale(0.9732,1)" font-size="16.62" font-weight="bold" fill="#000" stroke="#000" stroke-width="0.5">S2</text>
<polyline points="63.6,590.4 63.6,589.9 63.6,589.2 63.6,588.5 63.6,587.7 63.6,586.9 63.6,585.9 63.6,585.0 63.6,583.9 63.6,582.8 63.6,581.6 63.6,580.4 63.6,579.2 63.6,577.9 63.6,576.6 63.6,575.2 63.6,573.9 63.6,572.5 63.6,571.1 63.6,569.7 63.6,568.2 63.6,566.8 63.6,565.4 63.6,564.0 63.6,562.6 63.6,561.2 63.6,559.8 63.6,558.4 63.6,557.1 63.6,555.8 63.6,554.6 63.6,553.4 63.6,552.2 63.6,551.1 63.6,550.0 63.6,549.0 63.6,548.0 63.6,547.2 63.6,546.4 63.7,545.6 63.7,545.0 63.7,544.4 63.7,543.9 63.7,543.5 63.7,543.2 63.7,543.0 63.7,543.0 63.7,543.0 63.7,543.1 63.7,543.3 63.7,543.6 63.7,543.9 63.7,544.3 63.7,544.8 63.7,545.4 63.8,546.0 63.8,546.7 63.8,547.4 63.8,548.2 63.8,549.1 63.8,550.0 63.8,551.0 63.8,552.0 63.8,553.0 63.8,554.1 63.8,555.2 63.9,556.4 63.9,557.6 63.9,558.8 63.9,560.0 63.9,561.3 63.9,562.6 63.9,563.9 63.9,565.2 63.9,566.6 63.9,567.9 64.0,569.3 64.0,570.6 64.0,572.0 64.0,573.3 64.0,574.7 64.0,576.1 64.0,577.4 64.0,578.7 64.1,580.0 64.1,581.3 64.1,582.6 64.1,583.9 64.1,585.1 64.1,586.3 64.1,587.5 64.1,588.6 64.2,589.7 64.2,590.8 64.2,591.8 64.2,592.8 64.2,593.7 64.2,594.6 64.2,595.4 64.3,596.2 64.3,596.9 64.3,597.5 64.3,598.1 64.4,602.1 64.6,604.3 64.8,605.0 65.0,604.9 65.1,604.4 65.3,603.9 65.4,603.5 65.5,602.8 65.6,601.8 65.8,600.6 65.9,599.3 66.0,598.0 66.1,596.8 66.2,595.9 66.4,594.6 66.5,593.6 66.6,592.8 67.0,592.0 67.5,591.1 68.2,590.2 69.1,589.4 70.0,589.1 70.9,589.0 71.9,588.6 72.9,588.4 74.0,588.3 75.0,588.2 76.0,588.0 77.0,588.2 77.9,588.5 78.9,588.9 80.0,589.3 80.9,589.4 81.9,589.3 82.9,589.0 84.0,589.1 85.0,589.6 86.0,589.5 87.1,589.4 88.2,589.9 89.4,590.2 90.4,590.4 91.3,590.5 92.0,590.6" fill="none" stroke="#f7a23d" stroke-width="1.0" stroke-linejoin="round" stroke-linecap="round"/>
<polyline points="63.6,590.0 63.6,589.5 63.6,588.8 63.6,588.1 63.6,587.3 63.6,586.5 63.6,585.5 63.6,584.5 63.6,583.5 63.6,582.4 63.6,581.2 63.6,580.0 63.6,578.8 63.6,577.5 63.6,576.2 63.6,574.8 63.6,573.5 63.6,572.1 63.6,570.7 63.6,569.2 63.6,567.8 63.6,566.4 63.6,565.0 63.6,563.6 63.6,562.1 63.6,560.8 63.6,559.4 63.6,558.0 63.6,556.7 63.6,555.4 63.6,554.2 63.6,552.9 63.6,551.8 63.6,550.7 63.6,549.6 63.6,548.6 63.6,547.6 63.6,546.8 63.6,546.0 63.7,545.2 63.7,544.6 63.7,544.0 63.7,543.5 63.7,543.1 63.7,542.8 63.7,542.7 63.7,542.6 63.7,542.6 63.7,542.7 63.7,542.9 63.7,543.2 63.7,543.5 63.7,544.0 63.7,544.4 63.7,545.0 63.8,545.6 63.8,546.3 63.8,547.1 63.8,547.9 63.8,548.7 63.8,549.6 63.8,550.6 63.8,551.6 63.8,552.6 63.8,553.7 63.8,554.9 63.9,556.0 63.9,557.2 63.9,558.4 63.9,559.7 63.9,561.0 63.9,562.2 63.9,563.6 63.9,564.9 63.9,566.2 63.9,567.6 64.0,568.9 64.0,570.3 64.0,571.7 64.0,573.0 64.0,574.4 64.0,575.7 64.0,577.1 64.0,578.4 64.1,579.7 64.1,581.0 64.1,582.3 64.1,583.6 64.1,584.8 64.1,586.0 64.1,587.2 64.1,588.3 64.2,589.4 64.2,590.5 64.2,591.5 64.2,592.5 64.2,593.4 64.2,594.3 64.2,595.2 64.3,595.9 64.3,596.6 64.3,597.3 64.3,597.9 64.4,601.9 64.6,604.1 64.8,604.9 65.0,604.8 65.1,604.3 65.3,603.9 65.4,603.5 65.5,602.8 65.6,601.8 65.8,600.6 65.9,599.3 66.0,598.0 66.1,596.9 66.2,596.0 66.4,594.7 66.5,593.7 66.6,592.9 67.0,592.2 67.5,591.3 68.2,590.3 69.1,589.5 70.0,588.9 70.9,588.6 71.9,588.7 72.9,588.7 74.0,588.2 75.0,588.2 76.0,588.6 77.0,588.5 77.9,588.3 78.9,588.4 80.0,588.6 80.9,588.7 81.9,588.9 82.9,589.2 84.0,589.5 85.0,589.8 86.0,589.8 87.1,589.9 88.2,589.9 89.4,590.0 90.4,590.1 91.3,590.3 92.0,590.6" fill="none" stroke="#57c45e" stroke-width="1.0" stroke-linejoin="round" stroke-linecap="round"/>
<polyline points="63.6,589.6 63.6,589.0 63.6,588.4 63.6,587.7 63.6,586.9 63.6,586.0 63.6,585.1 63.6,584.1 63.6,583.1 63.6,582.0 63.6,580.8 63.6,579.6 63.6,578.3 63.6,577.1 63.6,575.7 63.6,574.4 63.6,573.0 63.6,571.6 63.6,570.2 63.6,568.8 63.6,567.4 63.6,566.0 63.6,564.6 63.6,563.1 63.6,561.7 63.6,560.3 63.6,559.0 63.6,557.6 63.6,556.3 63.6,555.0 63.6,553.7 63.6,552.5 63.6,551.4 63.6,550.2 63.6,549.2 63.6,548.2 63.6,547.2 63.6,546.4 63.6,545.5 63.7,544.8 63.7,544.2 63.7,543.6 63.7,543.1 63.7,542.7 63.7,542.4 63.7,542.3 63.7,542.2 63.7,542.2 63.7,542.3 63.7,542.5 63.7,542.8 63.7,543.2 63.7,543.6 63.7,544.1 63.7,544.6 63.8,545.3 63.8,546.0 63.8,546.7 63.8,547.5 63.8,548.4 63.8,549.3 63.8,550.3 63.8,551.3 63.8,552.3 63.8,553.4 63.8,554.5 63.9,555.7 63.9,556.9 63.9,558.1 63.9,559.4 63.9,560.7 63.9,562.0 63.9,563.3 63.9,564.6 63.9,566.0 63.9,567.3 64.0,568.7 64.0,570.0 64.0,571.4 64.0,572.8 64.0,574.1 64.0,575.5 64.0,576.9 64.0,578.2 64.1,579.5 64.1,580.8 64.1,582.1 64.1,583.4 64.1,584.6 64.1,585.8 64.1,587.0 64.1,588.2 64.2,589.3 64.2,590.3 64.2,591.4 64.2,592.4 64.2,593.3 64.2,594.2 64.2,595.0 64.3,595.8 64.3,596.5 64.3,597.2 64.3,597.8 64.4,601.9 64.6,604.1 64.8,605.0 65.0,605.0 65.1,604.6 65.3,604.3 65.4,603.9 65.5,603.1 65.6,602.1 65.8,600.8 65.9,599.4 66.0,598.1 66.1,596.9 66.2,596.0 66.4,594.6 66.5,593.5 66.6,592.6 67.0,591.7 67.5,590.9 68.2,590.3 69.1,589.7 70.0,589.0 70.9,588.7 71.9,588.5 72.9,588.5 74.0,588.7 75.0,588.6 76.0,588.3 77.0,588.5 77.9,588.9 78.9,588.8 80.0,588.8 80.9,589.0 81.9,589.2 82.9,589.5 84.0,589.6 85.0,589.7 86.0,589.7 87.1,589.8 88.2,590.2 89.4,590.2 90.4,590.0 91.3,590.3 92.0,590.6" fill="none" stroke="#5aa6e6" stroke-width="1.0" stroke-linejoin="round" stroke-linecap="round"/>
<polyline points="63.6,590.0 63.6,589.5 63.6,588.8 63.6,588.1 63.6,587.3 63.6,586.5 63.6,585.5 63.6,584.5 63.6,583.5 63.6,582.4 63.6,581.2 63.6,580.0 63.6,578.8 63.6,577.5 63.6,576.2 63.6,574.8 63.6,573.5 63.6,572.1 63.6,570.7 63.6,569.2 63.6,567.8 63.6,566.4 63.6,565.0 63.6,563.6 63.6,562.1 63.6,560.8 63.6,559.4 63.6,558.0 63.6,556.7 63.6,555.4 63.6,554.2 63.6,552.9 63.6,551.8 63.6,550.7 63.6,549.6 63.6,548.6 63.6,547.6 63.6,546.8 63.6,546.0 63.7,545.2 63.7,544.6 63.7,544.0 63.7,543.5 63.7,543.1 63.7,542.9 63.7,542.7 63.7,542.6 63.7,542.6 63.7,542.7 63.7,542.9 63.7,543.2 63.7,543.6 63.7,544.0 63.7,544.5 63.7,545.0 63.8,545.7 63.8,546.4 63.8,547.1 63.8,547.9 63.8,548.8 63.8,549.7 63.8,550.6 63.8,551.6 63.8,552.7 63.8,553.8 63.8,554.9 63.9,556.1 63.9,557.3 63.9,558.5 63.9,559.7 63.9,561.0 63.9,562.3 63.9,563.6 63.9,565.0 63.9,566.3 63.9,567.7 64.0,569.0 64.0,570.4 64.0,571.7 64.0,573.1 64.0,574.5 64.0,575.8 64.0,577.2 64.0,578.5 64.1,579.8 64.1,581.1 64.1,582.4 64.1,583.7 64.1,584.9 64.1,586.1 64.1,587.3 64.1,588.5 64.2,589.6 64.2,590.6 64.2,591.7 64.2,592.6 64.2,593.6 64.2,594.5 64.2,595.3 64.3,596.1 64.3,596.8 64.3,597.5 64.3,598.0 64.4,602.1 64.6,604.3 64.8,605.1 65.0,605.1 65.1,604.7 65.3,604.3 65.4,603.9 65.5,603.1 65.6,602.1 65.8,600.8 65.9,599.4 66.0,598.1 66.1,596.9 66.2,596.0 66.4,594.6 66.5,593.5 66.6,592.6 67.0,591.6 67.5,590.8 68.2,590.2 69.1,589.8 70.0,589.1 70.9,588.8 71.9,588.7 72.9,588.6 74.0,588.4 75.0,588.5 76.0,588.7 77.0,588.8 77.9,588.8 78.9,588.8 80.0,588.8 80.9,588.7 81.9,588.7 82.9,589.0 84.0,589.3 85.0,589.8 86.0,589.8 87.1,589.7 88.2,589.9 89.4,590.2 90.4,590.5 91.3,590.6 92.0,590.6" fill="none" stroke="#f27fb8" stroke-width="1.0" stroke-linejoin="round" stroke-linecap="round"/>
<polyline points="63.6,589.6 63.6,589.0 63.6,588.4 63.6,587.7 63.6,586.9 63.6,586.0 63.6,585.1 63.6,584.1 63.6,583.0 63.6,581.9 63.6,580.8 63.6,579.6 63.6,578.3 63.6,577.0 63.6,575.7 63.6,574.4 63.6,573.0 63.6,571.6 63.6,570.2 63.6,568.8 63.6,567.4 63.6,565.9 63.6,564.5 63.6,563.1 63.6,561.7 63.6,560.3 63.6,558.9 63.6,557.6 63.6,556.2 63.6,555.0 63.6,553.7 63.6,552.5 63.6,551.3 63.6,550.2 63.6,549.1 63.6,548.1 63.6,547.2 63.6,546.3 63.6,545.5 63.7,544.8 63.7,544.1 63.7,543.5 63.7,543.1 63.7,542.7 63.7,542.4 63.7,542.2 63.7,542.1 63.7,542.2 63.7,542.3 63.7,542.5 63.7,542.7 63.7,543.1 63.7,543.5 63.7,544.0 63.7,544.6 63.8,545.2 63.8,545.9 63.8,546.6 63.8,547.4 63.8,548.3 63.8,549.2 63.8,550.2 63.8,551.2 63.8,552.2 63.8,553.3 63.8,554.4 63.9,555.6 63.9,556.8 63.9,558.0 63.9,559.3 63.9,560.6 63.9,561.8 63.9,563.2 63.9,564.5 63.9,565.8 63.9,567.2 64.0,568.5 64.0,569.9 64.0,571.3 64.0,572.6 64.0,574.0 64.0,575.4 64.0,576.7 64.0,578.0 64.1,579.4 64.1,580.7 64.1,582.0 64.1,583.2 64.1,584.5 64.1,585.7 64.1,586.8 64.1,588.0 64.2,589.1 64.2,590.2 64.2,591.2 64.2,592.2 64.2,593.1 64.2,594.0 64.2,594.8 64.3,595.6 64.3,596.3 64.3,597.0 64.3,597.6 64.4,601.6 64.6,603.8 64.8,604.7 65.0,604.6 65.1,604.2 65.3,603.8 65.4,603.4 65.5,602.7 65.6,601.6 65.8,600.4 65.9,599.1 66.0,597.8 66.1,596.6 66.2,595.7 66.4,594.4 66.5,593.4 66.6,592.5 67.0,591.7 67.5,590.8 68.2,589.8 69.1,589.0 70.0,588.8 70.9,588.9 71.9,588.3 72.9,588.0 74.0,588.3 75.0,588.4 76.0,588.3 77.0,588.5 77.9,588.9 78.9,588.7 80.0,588.5 80.9,588.7 81.9,588.8 82.9,588.9 84.0,589.0 85.0,589.1 86.0,589.1 87.1,589.2 88.2,589.7 89.4,590.0 90.4,590.1 91.3,590.5 92.0,590.8" fill="none" stroke="#c09a3c" stroke-width="1.0" stroke-linejoin="round" stroke-linecap="round"/>
<polyline points="63.6,590.5 63.6,589.9 63.6,589.3 63.6,588.6 63.6,587.8 63.6,586.9 63.6,586.0 63.6,585.0 63.6,583.9 63.6,582.8 63.6,581.7 63.6,580.5 63.6,579.2 63.6,577.9 63.6,576.6 63.6,575.3 63.6,573.9 63.6,572.5 63.6,571.1 63.6,569.7 63.6,568.3 63.6,566.8 63.6,565.4 63.6,564.0 63.6,562.6 63.6,561.2 63.6,559.8 63.6,558.5 63.6,557.2 63.6,555.9 63.6,554.6 63.6,553.4 63.6,552.2 63.6,551.1 63.6,550.0 63.6,549.0 63.6,548.1 63.6,547.2 63.6,546.4 63.7,545.7 63.7,545.0 63.7,544.4 63.7,544.0 63.7,543.6 63.7,543.3 63.7,543.1 63.7,543.0 63.7,543.0 63.7,543.2 63.7,543.3 63.7,543.6 63.7,544.0 63.7,544.4 63.7,544.9 63.7,545.4 63.8,546.1 63.8,546.8 63.8,547.5 63.8,548.3 63.8,549.2 63.8,550.1 63.8,551.0 63.8,552.0 63.8,553.1 63.8,554.2 63.8,555.3 63.9,556.5 63.9,557.6 63.9,558.9 63.9,560.1 63.9,561.4 63.9,562.7 63.9,564.0 63.9,565.3 63.9,566.7 63.9,568.0 64.0,569.4 64.0,570.7 64.0,572.1 64.0,573.5 64.0,574.8 64.0,576.2 64.0,577.5 64.0,578.8 64.1,580.2 64.1,581.5 64.1,582.7 64.1,584.0 64.1,585.2 64.1,586.4 64.1,587.6 64.1,588.8 64.2,589.9 64.2,590.9 64.2,592.0 64.2,592.9 64.2,593.9 64.2,594.7 64.2,595.6 64.3,596.3 64.3,597.1 64.3,597.7 64.3,598.3 64.4,602.3 64.6,604.5 64.8,605.3 65.0,605.2 65.1,604.7 65.3,604.3 65.4,603.9 65.5,603.1 65.6,602.0 65.8,600.7 65.9,599.4 66.0,598.0 66.1,596.8 66.2,595.9 66.4,594.5 66.5,593.4 66.6,592.5 67.0,591.5 67.5,590.7 68.2,590.2 69.1,589.8 70.0,589.0 70.9,588.5 71.9,588.5 72.9,588.5 74.0,588.1 75.0,588.0 76.0,588.1 77.0,588.5 77.9,589.0 78.9,589.1 80.0,589.0 80.9,588.7 81.9,588.6 82.9,589.0 84.0,589.2 85.0,589.3 86.0,589.3 87.1,589.4 88.2,589.6 89.4,589.9 90.4,590.2 91.3,590.4 92.0,590.5" fill="none" stroke="#cc80d8" stroke-width="1.0" stroke-linejoin="round" stroke-linecap="round"/>
<polyline points="95.6,520.4 95.6,519.8 95.6,519.1 95.6,518.3 95.6,517.4 95.6,516.4 95.6,515.3 95.6,514.2 95.6,513.0 95.6,511.7 95.6,510.4 95.6,509.1 95.6,507.7 95.6,506.4 95.6,505.0 95.6,503.7 95.6,502.4 95.6,501.1 95.6,499.9 95.6,498.7 95.6,497.6 95.6,496.6 95.6,495.7 95.6,494.8 95.7,494.1 95.7,493.5 95.7,493.0 95.7,492.7 95.7,492.4 95.8,492.6 95.8,493.2 95.9,494.1 95.9,495.3 96.0,496.7 96.0,498.2 96.1,499.8 96.2,501.3 96.3,502.8 96.3,504.0 96.4,505.1 96.5,505.8 98.0,506.6 98.3,507.4 98.6,508.5 98.9,509.6 99.3,510.9 99.6,511.9 100.0,512.9 100.4,513.9 100.7,515.0 101.0,516.1 101.4,517.3 101.9,518.3 102.5,519.2 103.4,519.5 104.6,519.3 105.8,519.2 106.9,519.1 108.0,519.1 108.9,519.0 109.5,519.0 110.4,519.2 112.0,520.1 112.7,520.1 113.5,520.0 114.3,520.3 115.3,520.7 116.3,521.1 117.3,521.4 118.4,521.5 119.4,521.8 120.6,522.1 121.7,522.2 122.8,522.2 123.9,522.7 125.0,523.0 125.9,523.1 126.8,523.5 127.8,524.0 128.7,524.3 129.7,524.5 130.7,525.3 131.7,526.1 132.7,526.1 133.7,526.4 134.7,527.0 135.6,527.5 136.6,527.8 137.5,528.2 138.4,528.5 139.2,529.0 140.0,529.5 141.2,530.1 142.5,530.5 143.7,531.1 144.8,531.5 145.9,531.6 147.0,532.1 147.9,532.5 148.7,532.8 149.4,533.1 150.0,533.5" fill="none" stroke="#cc80d8" stroke-width="1.2" stroke-linejoin="round" stroke-linecap="round"/>
<polyline points="95.6,506.8 95.7,507.4 95.7,508.1 95.8,509.0 95.9,510.0 95.9,511.1 96.0,512.3 96.1,513.5 96.2,514.7 96.3,515.9 96.4,517.1 96.6,518.2 96.7,519.3 96.8,520.2 97.0,521.1 97.3,522.5 97.7,523.7 98.2,524.8 98.6,525.8 99.1,526.6 99.6,527.4 100.0,528.2 100.7,529.4 101.2,530.3 102.0,530.9 103.0,531.3 103.8,531.4 104.6,531.4 105.6,531.2 106.6,530.9 107.7,530.8 108.8,531.0 110.0,531.4 110.8,531.3 111.6,531.2 112.5,531.5 113.3,532.0 114.2,532.3 115.1,532.4 116.2,532.6 117.3,532.9 118.6,533.5 120.0,533.9 120.7,533.9 121.6,534.2 122.4,534.5 123.3,534.9 124.3,535.4 125.3,535.6 126.3,535.8 127.3,536.1 128.4,536.4 129.5,536.4 130.5,536.9 131.6,537.7 132.7,537.8 133.7,538.0 134.7,538.3 135.7,538.8 136.7,539.3 137.6,539.7 138.4,539.9 139.3,540.1 140.0,540.3 141.3,540.8 142.6,541.5 143.7,541.9 144.8,542.4 145.8,543.0 146.7,543.6 147.5,544.2 148.3,544.4 148.9,544.5 149.5,544.6 150.0,545.0" fill="none" stroke="#c09a3c" stroke-width="1.2" stroke-linejoin="round" stroke-linecap="round"/>
<polyline points="95.6,519.5 95.7,520.2 95.8,521.0 95.9,522.1 96.0,523.2 96.2,524.4 96.4,525.7 96.6,526.9 96.8,528.1 97.0,529.3 97.3,530.4 97.6,531.6 97.9,532.7 98.2,533.8 98.6,534.9 98.9,536.0 99.3,536.9 99.7,537.7 100.0,538.4 100.7,539.4 101.2,540.1 102.0,540.5 103.0,540.8 103.7,541.2 104.5,541.5 105.3,541.2 106.2,540.7 107.3,540.4 108.5,540.3 110.0,540.7 110.7,540.9 111.5,541.1 112.3,541.0 113.2,540.9 114.0,541.0 114.9,541.5 115.9,541.7 116.9,541.5 117.9,541.9 119.0,542.5 120.1,542.6 121.2,542.7 122.4,542.6 123.7,543.3 125.0,543.8 125.8,543.6 126.7,543.7 127.6,544.0 128.5,544.4 129.6,545.0 130.6,545.6 131.7,546.1 132.8,545.9 133.9,546.2 135.0,547.1 136.2,547.5 137.3,547.7 138.4,548.1 139.6,548.3 140.7,548.5 141.8,548.9 142.8,549.2 143.8,549.5 144.8,549.9 145.7,550.3 146.6,550.6 147.4,550.7 148.2,550.9 148.9,551.1 149.5,551.2 150.0,551.5" fill="none" stroke="#f27fb8" stroke-width="1.2" stroke-linejoin="round" stroke-linecap="round"/>
<polyline points="95.6,532.7 95.8,533.3 96.1,534.1 96.5,535.1 97.0,536.3 97.3,537.0 97.6,538.0 98.0,539.2 98.4,540.4 98.8,541.6 99.2,542.8 99.6,543.7 100.0,544.4 100.5,545.5 101.0,546.4 101.5,547.2 102.1,547.8 103.0,548.2 103.7,548.4 104.5,548.3 105.3,548.2 106.2,548.1 107.3,547.7 108.5,547.5 110.0,547.9 110.7,548.0 111.5,548.1 112.3,548.2 113.2,548.3 114.0,548.4 114.9,548.3 115.9,548.4 116.9,548.7 117.9,549.1 119.0,549.5 120.1,549.9 121.2,550.4 122.4,551.2 123.7,551.6 125.0,551.9 125.8,552.1 126.6,552.3 127.5,552.5 128.4,552.9 129.4,553.5 130.4,554.1 131.4,554.9 132.4,555.4 133.5,555.8 134.6,555.9 135.7,556.3 136.8,556.8 137.9,557.3 139.0,557.8 140.1,558.5 141.1,559.2 142.1,559.8 143.1,560.0 144.1,560.1 145.0,560.7 145.9,561.3 146.8,561.4 147.5,561.5 148.3,561.9 148.9,562.5 149.5,562.9 150.0,563.1" fill="none" stroke="#57c45e" stroke-width="1.2" stroke-linejoin="round" stroke-linecap="round"/>
<polyline points="95.6,538.6 96.1,539.4 96.9,540.5 98.0,541.7 98.6,542.2 99.2,542.8 99.9,543.9 100.6,545.0 101.3,545.9 102.2,546.6 103.0,547.1 103.8,547.4 104.6,547.4 105.4,547.2 106.3,546.9 107.4,546.6 108.6,546.5 110.0,547.0 110.7,546.8 111.5,546.7 112.3,546.8 113.2,547.2 114.0,547.4 114.9,547.3 115.9,547.6 116.9,548.2 117.9,548.4 119.0,548.5 120.1,548.9 121.2,549.1 122.4,548.9 123.7,549.5 125.0,550.1 125.8,550.3 126.7,550.3 127.7,550.1 128.7,550.2 129.8,550.5 130.9,550.7 132.0,551.0 133.1,551.4 134.3,551.9 135.5,552.3 136.7,552.1 137.8,552.7 139.0,553.3 140.2,553.3 141.3,553.4 142.4,553.5 143.5,553.7 144.5,553.9 145.5,554.1 146.4,554.4 147.3,554.8 148.1,555.0 148.8,555.0 149.5,555.0 150.0,555.2" fill="none" stroke="#f7a23d" stroke-width="1.2" stroke-linejoin="round" stroke-linecap="round"/>
<polyline points="95.6,541.6 95.6,542.3 95.6,543.1 95.6,544.2 95.6,545.3 95.6,546.5 95.6,547.7 95.7,548.9 95.8,549.9 96.0,550.8 96.5,551.8 97.1,552.7 97.8,553.7 98.6,554.7 99.3,555.5 100.0,556.2 101.0,557.2 101.9,557.8 103.0,558.1 103.9,557.9 105.0,557.6 106.1,557.7 107.2,557.6 108.0,557.4 109.0,556.8 110.0,556.5 110.6,556.5 111.3,556.8 112.1,557.2 113.3,557.6 115.0,558.1 115.7,558.2 116.5,558.1 117.3,558.0 118.2,558.4 119.1,558.8 120.0,558.9 121.0,558.9 122.1,558.8 123.2,558.8 124.3,559.0 125.4,559.2 126.5,559.5 127.7,560.0 128.8,560.0 130.0,559.8 130.9,559.8 131.9,560.0 132.9,560.6 134.0,561.1 135.1,561.3 136.3,561.3 137.4,561.4 138.6,561.9 139.8,562.3 140.9,562.5 142.1,562.4 143.2,562.7 144.3,563.0 145.3,563.2 146.3,563.4 147.2,563.6 148.0,563.7 148.8,563.9 149.4,564.0 150.0,564.2" fill="none" stroke="#5aa6e6" stroke-width="1.2" stroke-linejoin="round" stroke-linecap="round"/>
<path d="M151.8,531.4V538.4M155.4,531.9V538.9" stroke="#2c3a52" stroke-width="1.9" fill="none"/>
<line x1="151.8" y1="534.9" x2="155.4" y2="535.4" stroke="#2c3a52" stroke-width="1.8"/>
<path d="M151.8,542.8V567.5M155.3,544.9V567.5" stroke="#2c3a52" stroke-width="1.9" fill="none"/>
<line x1="151.8" y1="545.5" x2="155.3" y2="546.0" stroke="#2c3a52" stroke-width="1.8"/>
<line x1="151.8" y1="550.0" x2="155.3" y2="550.5" stroke="#2c3a52" stroke-width="1.8"/>
<line x1="151.8" y1="556.0" x2="155.3" y2="556.5" stroke="#2c3a52" stroke-width="1.8"/>
<line x1="151.8" y1="560.5" x2="155.3" y2="561.0" stroke="#2c3a52" stroke-width="1.8"/>
<line x1="151.8" y1="565.0" x2="155.3" y2="565.5" stroke="#2c3a52" stroke-width="1.8"/>
<line x1="159.8" y1="589.2" x2="159.8" y2="605.6" stroke="#cc80d8" stroke-width="1.1"/>
<polyline points="159.8,595.9 160.5,594.6 161.1,594.7 161.8,594.9 162.5,594.9 163.4,594.4 164.3,594.0 165.3,593.8 166.3,593.9 167.4,594.0 168.5,594.0 169.6,594.0 170.8,594.3 172.0,594.7 173.2,594.4 174.4,594.0 175.5,593.9 176.7,594.0 177.8,593.9 178.9,593.5 180.0,593.2 181.0,593.2 181.9,593.2 182.9,593.4 183.8,593.7 184.7,593.9 185.6,593.8 186.6,593.7 187.5,593.6 188.4,593.7 189.3,593.7 190.3,593.6 191.3,593.4 192.2,593.2 193.2,593.2 194.3,593.2 195.4,593.0 196.5,592.8 197.6,592.6 198.8,592.6 200.0,592.5 200.8,592.4 201.7,592.3 202.6,592.2 203.5,592.3 204.4,592.3 205.4,592.4 206.3,592.6 207.3,592.8 208.3,592.8 209.2,592.9 210.3,593.0 211.3,593.1 212.3,593.1 213.3,593.1 214.4,593.0 215.4,593.0 216.4,593.1 217.5,593.2 218.6,593.1 219.6,593.0 220.7,592.6 221.7,592.1 222.8,592.1 223.8,592.7 224.9,593.2 225.9,592.9 226.9,592.6 228.0,592.5 229.0,592.4 230.0,592.4 231.0,592.1 232.1,591.9 233.2,591.8 234.3,591.9 235.4,591.8 236.5,591.7 237.7,591.7 238.8,591.7 240.0,591.8 241.2,592.3 242.4,592.7 243.6,592.4 244.7,592.1 245.9,592.3 247.0,592.6 248.2,592.8 249.3,592.9 250.3,592.8 251.4,592.6 252.4,592.3 253.4,592.0 254.4,591.7 255.3,591.6 256.2,591.6 257.0,591.5 257.8,591.7 258.5,592.1 259.2,592.4 259.8,592.7 260.3,592.6" fill="none" stroke="#cc80d8" stroke-width="1.2" stroke-linejoin="round" stroke-linecap="round"/>
<polyline points="159.8,594.4 160.5,592.9 161.1,592.8 161.8,592.7 162.5,592.8 163.4,593.0 164.3,593.2 165.3,593.3 166.3,593.3 167.4,593.2 168.5,592.8 169.6,592.3 170.8,592.6 172.0,592.9 173.2,593.1 174.4,593.1 175.5,593.1 176.7,592.9 177.8,592.6 178.9,592.0 180.0,591.6 181.0,592.2 181.9,592.7 182.9,592.6 183.8,592.2 184.7,591.7 185.6,591.9 186.6,592.2 187.5,592.3 188.4,591.9 189.3,591.5 190.3,591.4 191.3,591.6 192.2,591.8 193.2,591.7 194.3,591.6 195.4,591.6 196.5,591.7 197.6,591.9 198.8,591.9 200.0,591.9 200.8,592.0 201.7,592.0 202.6,592.0 203.5,592.0 204.4,592.0 205.4,592.0 206.3,592.0 207.3,592.0 208.3,591.8 209.2,591.7 210.3,591.5 211.3,591.5 212.3,591.4 213.3,591.6 214.4,591.7 215.4,591.7 216.4,591.6 217.5,591.5 218.6,591.7 219.6,591.8 220.7,591.6 221.7,591.3 222.8,591.3 223.8,591.7 224.9,592.0 225.9,592.0 226.9,591.9 228.0,591.6 229.0,591.1 230.0,590.8 231.0,591.2 232.1,591.6 233.2,591.6 234.3,591.4 235.4,591.3 236.5,591.3 237.7,591.4 238.8,591.5 240.0,591.6 241.2,591.5 242.4,591.4 243.6,591.4 244.7,591.4 245.9,591.5 247.0,591.7 248.2,591.3 249.3,590.8 250.3,590.5 251.4,590.4 252.4,590.4 253.4,590.5 254.4,590.6 255.3,590.7 256.2,590.8 257.0,590.8 257.8,590.7 258.5,590.6 259.2,590.5 259.8,590.4 260.3,590.4" fill="none" stroke="#c09a3c" stroke-width="1.2" stroke-linejoin="round" stroke-linecap="round"/>
<polyline points="159.8,594.0 160.5,592.5 161.1,592.4 161.8,592.4 162.5,592.4 163.4,592.5 164.3,592.6 165.3,592.6 166.3,592.6 167.4,592.6 168.5,592.2 169.6,591.9 170.8,591.9 172.0,592.0 173.2,592.1 174.4,592.1 175.5,592.1 176.7,592.2 177.8,592.2 178.9,592.4 180.0,592.4 181.0,592.3 181.9,592.1 182.9,592.1 183.8,592.1 184.7,592.1 185.6,592.0 186.6,591.8 187.5,591.6 188.4,591.4 189.3,591.1 190.3,590.9 191.3,590.9 192.2,590.9 193.2,590.7 194.3,590.4 195.4,590.5 196.5,590.8 197.6,591.0 198.8,590.7 200.0,590.5 200.8,590.5 201.7,590.6 202.6,590.6 203.5,590.5 204.4,590.4 205.4,590.3 206.3,590.2 207.3,590.1 208.3,590.6 209.2,591.1 210.3,591.2 211.3,590.9 212.3,590.6 213.3,590.8 214.4,591.0 215.4,591.2 216.4,591.4 217.5,591.5 218.6,591.0 219.6,590.6 220.7,590.7 221.7,590.9 222.8,590.9 223.8,590.6 224.9,590.3 225.9,590.3 226.9,590.3 228.0,590.5 229.0,590.9 230.0,591.1 231.0,590.7 232.1,590.3 233.2,590.7 234.3,591.3 235.4,591.3 236.5,590.8 237.7,590.6 238.8,591.0 240.0,591.4 241.2,591.5 242.4,591.5 243.6,590.8 244.7,590.1 245.9,590.3 247.0,590.5 248.2,590.7 249.3,590.7 250.3,590.6 251.4,590.5 252.4,590.3 253.4,590.3 254.4,590.3 255.3,590.4 256.2,590.4 257.0,590.5 257.8,590.6 258.5,590.6 259.2,590.6 259.8,590.7 260.3,590.6" fill="none" stroke="#f27fb8" stroke-width="1.2" stroke-linejoin="round" stroke-linecap="round"/>
<polyline points="159.8,592.0 160.5,590.3 161.1,590.2 161.8,590.0 162.5,590.0 163.4,590.3 164.3,590.8 165.3,591.0 166.3,590.9 167.4,590.8 168.5,590.6 169.6,590.5 170.8,590.5 172.0,590.5 173.2,590.1 174.4,589.4 175.5,589.5 176.7,590.0 177.8,590.0 178.9,589.5 180.0,589.2 181.0,589.3 181.9,589.4 182.9,589.5 183.8,589.5 184.7,589.5 185.6,589.3 186.6,589.2 187.5,589.0 188.4,589.2 189.3,589.3 190.3,589.3 191.3,589.2 192.2,589.1 193.2,588.8 194.3,588.5 195.4,588.4 196.5,588.6 197.6,588.7 198.8,588.9 200.0,589.1 200.8,589.2 201.7,589.3 202.6,589.4 203.5,589.4 204.4,589.4 205.4,589.2 206.3,588.9 207.3,588.6 208.3,589.0 209.2,589.4 210.3,589.6 211.3,589.5 212.3,589.4 213.3,589.4 214.4,589.4 215.4,589.2 216.4,588.9 217.5,588.8 218.6,589.2 219.6,589.7 220.7,589.8 221.7,589.8 222.8,589.7 223.8,589.3 224.9,589.0 225.9,589.3 226.9,589.5 228.0,589.7 229.0,589.8 230.0,589.9 231.0,589.9 232.1,589.9 233.2,589.8 234.3,589.6 235.4,589.6 236.5,589.6 237.7,589.4 238.8,589.1 240.0,588.9 241.2,589.4 242.4,589.9 243.6,589.8 244.7,589.7 245.9,589.6 247.0,589.5 248.2,589.6 249.3,589.9 250.3,590.0 251.4,590.0 252.4,590.0 253.4,590.1 254.4,590.1 255.3,590.1 256.2,590.0 257.0,589.9 257.8,589.8 258.5,589.7 259.2,589.6 259.8,589.5 260.3,589.5" fill="none" stroke="#5aa6e6" stroke-width="1.2" stroke-linejoin="round" stroke-linecap="round"/>
<polyline points="159.8,591.6 160.5,590.1 161.1,590.0 161.8,589.9 162.5,589.8 163.4,589.8 164.3,589.7 165.3,589.6 166.3,589.5 167.4,589.5 168.5,589.7 169.6,589.9 170.8,589.5 172.0,588.9 173.2,588.8 174.4,588.9 175.5,589.1 176.7,589.3 177.8,589.2 178.9,588.9 180.0,588.7 181.0,588.9 181.9,589.2 182.9,589.2 183.8,589.0 184.7,588.7 185.6,589.0 186.6,589.2 187.5,589.3 188.4,588.9 189.3,588.5 190.3,588.5 191.3,588.8 192.2,589.1 193.2,589.2 194.3,589.2 195.4,589.0 196.5,588.5 197.6,588.2 198.8,588.1 200.0,588.1 200.8,588.0 201.7,587.8 202.6,587.8 203.5,588.0 204.4,588.1 205.4,588.2 206.3,588.2 207.3,588.2 208.3,588.4 209.2,588.6 210.3,588.8 211.3,589.1 212.3,589.5 213.3,589.0 214.4,588.6 215.4,588.6 216.4,588.9 217.5,589.1 218.6,588.9 219.6,588.7 220.7,588.7 221.7,588.7 222.8,588.7 223.8,588.6 224.9,588.6 225.9,589.1 226.9,589.5 228.0,589.7 229.0,589.8 230.0,589.8 231.0,589.3 232.1,588.9 233.2,589.0 234.3,589.4 235.4,589.6 236.5,589.6 237.7,589.7 238.8,589.7 240.0,589.6 241.2,589.4 242.4,589.2 243.6,589.0 244.7,588.9 245.9,589.3 247.0,589.8 248.2,589.8 249.3,589.6 250.3,589.5 251.4,589.5 252.4,589.5 253.4,589.8 254.4,590.0 255.3,590.0 256.2,589.6 257.0,589.3 257.8,589.2 258.5,589.3 259.2,589.3 259.8,589.4 260.3,589.4" fill="none" stroke="#f7a23d" stroke-width="1.2" stroke-linejoin="round" stroke-linecap="round"/>
<polyline points="159.8,601.1 160.5,599.6 161.1,599.5 161.8,599.4 162.5,599.3 163.4,599.2 164.3,599.1 165.3,599.1 166.3,599.3 167.4,599.4 168.5,599.1 169.6,598.9 170.8,598.6 172.0,598.4 173.2,598.5 174.4,598.8 175.5,598.7 176.7,598.2 177.8,598.3 178.9,598.8 180.0,599.2 181.0,599.0 181.9,598.7 182.9,598.4 183.8,598.0 184.7,597.6 185.6,597.6 186.6,597.6 187.5,597.7 188.4,598.1 189.3,598.4 190.3,598.5 191.3,598.4 192.2,598.2 193.2,598.1 194.3,597.9 195.4,597.8 196.5,597.6 197.6,597.5 198.8,597.7 200.0,597.9 200.8,597.9 201.7,597.9 202.6,597.7 203.5,597.3 204.4,596.9 205.4,597.0 206.3,597.3 207.3,597.7 208.3,597.4 209.2,597.1 210.3,597.1 211.3,597.4 212.3,597.6 213.3,597.2 214.4,596.8 215.4,596.8 216.4,597.3 217.5,597.5 218.6,597.2 219.6,596.8 220.7,597.0 221.7,597.5 222.8,597.7 223.8,597.7 224.9,597.7 225.9,597.4 226.9,597.2 228.0,596.9 229.0,596.7 230.0,596.6 231.0,596.6 232.1,596.6 233.2,596.9 234.3,597.2 235.4,597.3 236.5,597.2 237.7,597.1 238.8,597.1 240.0,597.1 241.2,597.1 242.4,597.1 243.6,596.7 244.7,596.3 245.9,596.5 247.0,596.7 248.2,596.5 249.3,596.1 250.3,596.0 251.4,596.3 252.4,596.5 253.4,596.4 254.4,596.4 255.3,596.3 256.2,596.0 257.0,595.7 257.8,595.7 258.5,595.9 259.2,596.1 259.8,596.2 260.3,596.3" fill="none" stroke="#57c45e" stroke-width="1.2" stroke-linejoin="round" stroke-linecap="round"/>
<line x1="179.1" y1="485.7" x2="179.1" y2="567.1" stroke="#9aa3b5" stroke-width="1.0"/>
<line x1="178.6" y1="567.1" x2="264.3" y2="567.1" stroke="#9aa3b5" stroke-width="1.0"/>
<line x1="177.1" y1="562.1" x2="179.1" y2="562.1" stroke="#7f8ea3" stroke-width="0.8"/>
<text x="176.1" y="563.4" font-size="3.4" fill="#5a6578" font-weight="normal" text-anchor="end">0.5</text>
<line x1="177.1" y1="543.25" x2="179.1" y2="543.25" stroke="#7f8ea3" stroke-width="0.8"/>
<text x="176.1" y="544.55" font-size="3.4" fill="#5a6578" font-weight="normal" text-anchor="end">0.5</text>
<line x1="177.1" y1="524.4" x2="179.1" y2="524.4" stroke="#7f8ea3" stroke-width="0.8"/>
<text x="176.1" y="525.6999999999999" font-size="3.4" fill="#5a6578" font-weight="normal" text-anchor="end">0.5</text>
<line x1="177.1" y1="505.55" x2="179.1" y2="505.55" stroke="#7f8ea3" stroke-width="0.8"/>
<text x="176.1" y="506.85" font-size="3.4" fill="#5a6578" font-weight="normal" text-anchor="end">0.5</text>
<line x1="177.1" y1="486.7" x2="179.1" y2="486.7" stroke="#7f8ea3" stroke-width="0.8"/>
<text x="176.1" y="488.0" font-size="3.4" fill="#5a6578" font-weight="normal" text-anchor="end">0.5</text>
<line x1="187.1" y1="567.1" x2="187.1" y2="568.6" stroke="#7f8ea3" stroke-width="0.8"/>
<text x="187.1" y="573.1" font-size="3.2" fill="#5a6578" font-weight="normal" text-anchor="middle">0.0004</text>
<line x1="211.5" y1="567.1" x2="211.5" y2="568.6" stroke="#7f8ea3" stroke-width="0.8"/>
<text x="211.5" y="573.1" font-size="3.2" fill="#5a6578" font-weight="normal" text-anchor="middle">0.0004</text>
<line x1="235.9" y1="567.1" x2="235.9" y2="568.6" stroke="#7f8ea3" stroke-width="0.8"/>
<text x="235.9" y="573.1" font-size="3.2" fill="#5a6578" font-weight="normal" text-anchor="middle">0.0004</text>
<line x1="260.3" y1="567.1" x2="260.3" y2="568.6" stroke="#7f8ea3" stroke-width="0.8"/>
<text x="260.3" y="573.1" font-size="3.2" fill="#5a6578" font-weight="normal" text-anchor="middle">0.0004</text>
<polyline points="190.0,528.6 190.5,528.1 191.1,527.5 191.8,526.7 192.6,525.9 193.5,525.0 194.4,524.1 195.3,523.2 196.2,522.3 197.0,521.5 197.8,520.7 198.6,520.0 199.4,519.2 200.3,518.5 201.1,517.8 201.9,517.1 202.7,516.4 203.5,515.7 204.3,515.1 205.2,514.4 206.0,513.8 206.8,513.2 207.7,512.7 208.5,512.1 209.3,511.6 210.2,511.0 211.0,510.5 211.8,510.0 212.6,509.5 213.4,509.0 214.2,508.6 215.0,508.1 215.9,507.5 216.9,507.0 218.0,506.3 218.7,505.9 219.5,505.4 220.4,504.9 221.2,504.4 222.1,503.9 223.0,503.3 223.9,502.8 224.9,502.2 225.9,501.6 226.9,501.0 227.9,500.5 228.9,499.9 230.0,499.3 230.9,498.8 231.8,498.4 232.8,497.9 233.8,497.3 234.8,496.8 235.9,496.3 237.0,495.7 238.1,495.2 239.1,494.6 240.2,494.1 241.2,493.6 242.1,493.2 243.0,492.7 243.8,492.3 244.5,492.0 245.2,491.7 245.7,491.4" fill="none" stroke="#3a3a3a" stroke-width="1.15" stroke-linejoin="round" stroke-linecap="round"/>
<circle cx="191.4" cy="529.4" r="0.95" fill="#5aa6e6" fill-opacity="0.8"/>
<circle cx="193" cy="518.6" r="0.95" fill="#f7a23d" fill-opacity="0.8"/>
<circle cx="197" cy="526.3" r="0.95" fill="#57c45e" fill-opacity="0.8"/>
<circle cx="204.3" cy="514.3" r="0.95" fill="#f27fb8" fill-opacity="0.8"/>
<circle cx="218" cy="506" r="0.95" fill="#e9d23a" fill-opacity="0.8"/>
<circle cx="245.7" cy="491.4" r="0.95" fill="#cc80d8" fill-opacity="0.8"/>
<text transform="translate(207.16,539.70) scale(1.0983,1)" font-size="14.14" font-weight="normal" fill="#ff0c0c" stroke="#ff0c0c" stroke-width="0.2">10.0 µM</text>
<line x1="301.4" y1="481.4" x2="301.4" y2="623.4" stroke="#6e7f96" stroke-width="1.3"/>
<line x1="300.79999999999995" y1="623.4" x2="542.9" y2="623.4" stroke="#6e7f96" stroke-width="1.3"/>
<line x1="298.2" y1="483.5" x2="301.4" y2="483.5" stroke="#6e7f96" stroke-width="1.2"/>
<text x="296.4" y="485.6" font-size="6" fill="#36425c" font-weight="normal" text-anchor="end">4</text>
<line x1="298.2" y1="503.2" x2="301.4" y2="503.2" stroke="#6e7f96" stroke-width="1.2"/>
<text x="296.4" y="505.3" font-size="6" fill="#36425c" font-weight="normal" text-anchor="end">3</text>
<line x1="298.2" y1="522.9" x2="301.4" y2="522.9" stroke="#6e7f96" stroke-width="1.2"/>
<text x="296.4" y="525.0" font-size="6" fill="#36425c" font-weight="normal" text-anchor="end">2</text>
<line x1="298.2" y1="542.6" x2="301.4" y2="542.6" stroke="#6e7f96" stroke-width="1.2"/>
<text x="296.4" y="544.7" font-size="6" fill="#36425c" font-weight="normal" text-anchor="end">1</text>
<line x1="298.2" y1="562.3" x2="301.4" y2="562.3" stroke="#6e7f96" stroke-width="1.2"/>
<text x="296.4" y="564.4" font-size="6" fill="#36425c" font-weight="normal" text-anchor="end">0</text>
<line x1="298.2" y1="582" x2="301.4" y2="582" stroke="#6e7f96" stroke-width="1.2"/>
<text x="296.4" y="584.1" font-size="6" fill="#36425c" font-weight="normal" text-anchor="end">-1</text>
<line x1="298.2" y1="601.7" x2="301.4" y2="601.7" stroke="#6e7f96" stroke-width="1.2"/>
<text x="296.4" y="603.8000000000001" font-size="6" fill="#36425c" font-weight="normal" text-anchor="end">-2</text>
<line x1="298.2" y1="621.4" x2="301.4" y2="621.4" stroke="#6e7f96" stroke-width="1.2"/>
<text x="296.4" y="623.5" font-size="6" fill="#36425c" font-weight="normal" text-anchor="end">-3</text>
<line x1="299.59999999999997" y1="493.4" x2="301.4" y2="493.4" stroke="#6e7f96" stroke-width="1.0"/>
<line x1="299.59999999999997" y1="513" x2="301.4" y2="513" stroke="#6e7f96" stroke-width="1.0"/>
<line x1="299.59999999999997" y1="532.7" x2="301.4" y2="532.7" stroke="#6e7f96" stroke-width="1.0"/>
<line x1="299.59999999999997" y1="552.5" x2="301.4" y2="552.5" stroke="#6e7f96" stroke-width="1.0"/>
<line x1="299.59999999999997" y1="572.2" x2="301.4" y2="572.2" stroke="#6e7f96" stroke-width="1.0"/>
<line x1="299.59999999999997" y1="591.8" x2="301.4" y2="591.8" stroke="#6e7f96" stroke-width="1.0"/>
<line x1="299.59999999999997" y1="611.5" x2="301.4" y2="611.5" stroke="#6e7f96" stroke-width="1.0"/>
<line x1="309.1" y1="623.4" x2="309.1" y2="627.1999999999999" stroke="#6e7f96" stroke-width="1.2"/>
<line x1="351.4" y1="623.4" x2="351.4" y2="627.1999999999999" stroke="#6e7f96" stroke-width="1.2"/>
<line x1="393.7" y1="623.4" x2="393.7" y2="627.1999999999999" stroke="#6e7f96" stroke-width="1.2"/>
<line x1="434.9" y1="623.4" x2="434.9" y2="627.1999999999999" stroke="#6e7f96" stroke-width="1.2"/>
<line x1="476.3" y1="623.4" x2="476.3" y2="627.1999999999999" stroke="#6e7f96" stroke-width="1.2"/>
<line x1="517.7" y1="623.4" x2="517.7" y2="627.1999999999999" stroke="#6e7f96" stroke-width="1.2"/>
<text x="351.4" y="635.8" font-size="6" fill="#36425c" font-weight="normal" text-anchor="middle">0</text>
<text x="434.9" y="635.8" font-size="6" fill="#36425c" font-weight="normal" text-anchor="middle">100</text>
<text x="517.7" y="635.8" font-size="6" fill="#36425c" font-weight="normal" text-anchor="middle">200</text>
<text transform="translate(373.63,502.40) scale(0.9300,1)" font-size="20.00" font-weight="bold" fill="#000" stroke="#000" stroke-width="0.5">3</text>
<text transform="translate(372.40,596.80) scale(1.0046,1)" font-size="16.62" font-weight="bold" fill="#000" stroke="#000" stroke-width="0.5">S2</text>
<polyline points="320.0,561.5 320.0,560.9 320.0,560.2 320.0,559.4 320.0,558.5 320.0,557.5 320.0,556.4 320.0,555.3 320.0,554.0 320.0,552.8 320.1,551.4 320.1,550.0 320.1,548.6 320.1,547.2 320.1,545.7 320.1,544.3 320.1,542.8 320.1,541.4 320.1,539.9 320.1,538.5 320.1,537.2 320.1,535.9 320.2,534.6 320.2,533.4 320.2,532.3 320.2,531.2 320.2,530.2 320.2,529.4 320.2,528.6 320.2,527.9 320.2,527.4 320.3,527.0 320.3,526.7 320.3,526.6 320.3,526.6 320.3,526.8 320.3,527.1 320.3,527.4 320.3,527.9 320.4,528.4 320.4,529.1 320.4,529.8 320.4,530.6 320.4,531.5 320.4,532.4 320.4,533.4 320.5,534.5 320.5,535.6 320.5,536.7 320.5,537.9 320.5,539.2 320.5,540.5 320.6,541.8 320.6,543.1 320.6,544.5 320.6,545.8 320.6,547.2 320.6,548.6 320.7,550.0 320.7,551.4 320.7,552.8 320.7,554.1 320.7,555.5 320.7,556.8 320.8,558.1 320.8,559.3 320.8,560.6 320.8,561.7 320.8,562.9 320.9,564.0 320.9,565.0 320.9,566.0 320.9,566.9 320.9,567.7 321.0,568.4 321.0,569.1 321.0,569.7 321.4,574.0 322.0,572.2 322.3,571.7 322.6,570.8 322.9,569.7 323.2,568.6 323.6,567.5 324.0,566.6 324.5,565.4 324.9,564.2 325.4,563.1 326.1,562.2 327.0,561.7 327.8,561.7 328.7,561.9 329.8,562.2 330.9,562.5 332.0,562.7 333.1,562.6 334.1,562.5 335.0,562.8 336.1,562.9 337.0,562.6 337.8,562.2 338.8,561.9 340.0,561.5 340.9,561.3 342.0,561.2 343.2,561.5 344.4,561.8 345.6,562.0 346.8,561.9 347.9,561.8 348.7,561.8 349.4,561.9" fill="none" stroke="#57c45e" stroke-width="1.2" stroke-linejoin="round" stroke-linecap="round"/>
<polyline points="320.0,561.6 320.0,561.1 320.0,560.4 320.0,559.6 320.0,558.7 320.0,557.7 320.0,556.6 320.0,555.4 320.0,554.2 320.0,552.9 320.1,551.6 320.1,550.2 320.1,548.8 320.1,547.3 320.1,545.9 320.1,544.4 320.1,543.0 320.1,541.5 320.1,540.1 320.1,538.7 320.1,537.3 320.1,536.0 320.2,534.7 320.2,533.5 320.2,532.4 320.2,531.3 320.2,530.4 320.2,529.5 320.2,528.7 320.2,528.1 320.2,527.5 320.3,527.1 320.3,526.9 320.3,526.7 320.3,526.8 320.3,526.9 320.3,527.2 320.3,527.5 320.3,528.0 320.4,528.6 320.4,529.2 320.4,529.9 320.4,530.7 320.4,531.6 320.4,532.5 320.4,533.5 320.5,534.6 320.5,535.7 320.5,536.8 320.5,538.1 320.5,539.3 320.5,540.6 320.6,541.9 320.6,543.2 320.6,544.6 320.6,546.0 320.6,547.3 320.6,548.7 320.7,550.1 320.7,551.5 320.7,552.9 320.7,554.2 320.7,555.6 320.7,556.9 320.8,558.2 320.8,559.4 320.8,560.7 320.8,561.8 320.8,563.0 320.9,564.1 320.9,565.1 320.9,566.1 320.9,567.0 320.9,567.8 321.0,568.5 321.0,569.2 321.0,569.8 321.4,574.1 322.0,572.2 322.3,571.7 322.6,570.8 322.9,569.6 323.2,568.4 323.6,567.2 324.0,566.2 324.5,565.1 324.9,564.0 325.4,563.0 326.1,562.2 327.0,562.0 327.8,562.2 328.7,562.0 329.8,561.7 330.9,561.7 332.0,561.8 333.1,562.1 334.1,562.4 335.0,562.4 336.1,562.2 337.0,562.1 337.8,562.1 338.8,562.0 340.0,562.0 340.9,562.1 342.0,562.2 343.2,562.1 344.4,562.1 345.6,562.0 346.8,562.4 347.9,562.8 348.7,562.7 349.4,562.7" fill="none" stroke="#f7a23d" stroke-width="1.2" stroke-linejoin="round" stroke-linecap="round"/>
<polyline points="320.0,561.4 320.0,560.8 320.0,560.1 320.0,559.3 320.0,558.4 320.0,557.4 320.0,556.3 320.0,555.2 320.0,554.0 320.0,552.7 320.1,551.3 320.1,550.0 320.1,548.6 320.1,547.1 320.1,545.7 320.1,544.2 320.1,542.8 320.1,541.3 320.1,539.9 320.1,538.5 320.1,537.1 320.1,535.8 320.2,534.5 320.2,533.3 320.2,532.2 320.2,531.1 320.2,530.2 320.2,529.3 320.2,528.5 320.2,527.9 320.2,527.4 320.3,527.0 320.3,526.7 320.3,526.6 320.3,526.6 320.3,526.8 320.3,527.0 320.3,527.4 320.3,527.9 320.4,528.4 320.4,529.1 320.4,529.8 320.4,530.6 320.4,531.5 320.4,532.4 320.4,533.4 320.5,534.5 320.5,535.6 320.5,536.7 320.5,538.0 320.5,539.2 320.5,540.5 320.6,541.8 320.6,543.1 320.6,544.5 320.6,545.9 320.6,547.3 320.6,548.7 320.7,550.0 320.7,551.4 320.7,552.8 320.7,554.2 320.7,555.5 320.7,556.9 320.8,558.2 320.8,559.4 320.8,560.6 320.8,561.8 320.8,563.0 320.9,564.1 320.9,565.1 320.9,566.1 320.9,567.0 320.9,567.8 321.0,568.6 321.0,569.2 321.0,569.8 321.4,574.2 322.0,572.5 322.3,571.9 322.6,570.9 322.9,569.7 323.2,568.4 323.6,567.1 324.0,566.0 324.5,565.1 324.9,564.3 325.4,563.5 326.1,562.9 327.0,562.5 327.8,562.4 328.7,562.2 329.8,562.2 330.9,562.3 332.0,562.5 333.1,562.5 334.1,562.5 335.0,562.5 336.1,562.4 337.0,562.4 337.8,562.3 338.8,562.0 340.0,561.8 340.9,561.6 342.0,561.4 343.2,561.9 344.4,562.2 345.6,561.8 346.8,562.1 347.9,562.6 348.7,562.8 349.4,562.9" fill="none" stroke="#e9d23a" stroke-width="1.2" stroke-linejoin="round" stroke-linecap="round"/>
<polyline points="320.0,562.3 320.0,561.7 320.0,561.1 320.0,560.2 320.0,559.3 320.0,558.3 320.0,557.2 320.0,556.1 320.0,554.9 320.0,553.6 320.1,552.2 320.1,550.8 320.1,549.4 320.1,548.0 320.1,546.5 320.1,545.1 320.1,543.6 320.1,542.2 320.1,540.7 320.1,539.3 320.1,537.9 320.1,536.6 320.2,535.3 320.2,534.1 320.2,533.0 320.2,531.9 320.2,530.9 320.2,530.1 320.2,529.3 320.2,528.6 320.2,528.1 320.3,527.7 320.3,527.4 320.3,527.3 320.3,527.3 320.3,527.4 320.3,527.7 320.3,528.1 320.3,528.5 320.4,529.0 320.4,529.7 320.4,530.4 320.4,531.2 320.4,532.0 320.4,533.0 320.4,534.0 320.5,535.0 320.5,536.1 320.5,537.3 320.5,538.5 320.5,539.7 320.5,541.0 320.6,542.3 320.6,543.6 320.6,544.9 320.6,546.3 320.6,547.7 320.6,549.1 320.7,550.4 320.7,551.8 320.7,553.2 320.7,554.5 320.7,555.9 320.7,557.2 320.8,558.4 320.8,559.7 320.8,560.9 320.8,562.1 320.8,563.2 320.9,564.3 320.9,565.3 320.9,566.2 320.9,567.1 320.9,567.9 321.0,568.7 321.0,569.3 321.0,569.9 321.4,574.0 322.0,571.8 322.3,571.3 322.6,570.3 322.9,569.1 323.2,567.9 323.6,566.7 324.0,565.7 324.5,564.8 324.9,563.9 325.4,563.1 326.1,562.5 327.0,561.8 327.8,561.4 328.7,561.6 329.8,562.1 330.9,562.0 332.0,561.6 333.1,561.9 334.1,562.1 335.0,562.4 336.1,562.6 337.0,562.4 337.8,562.2 338.8,561.8 340.0,561.4 340.9,561.7 342.0,562.2 343.2,562.2 344.4,562.2 345.6,561.8 346.8,561.8 347.9,561.9 348.7,562.3 349.4,562.7" fill="none" stroke="#f25a55" stroke-width="1.2" stroke-linejoin="round" stroke-linecap="round"/>
<line x1="352.6" y1="512" x2="352.6" y2="559" stroke="#f7a23d" stroke-width="1.0"/>
<polyline points="352.6,520.0 352.6,519.4 352.6,518.7 352.6,517.9 352.6,517.0 352.6,515.9 352.6,514.8 352.6,513.6 352.6,512.4 352.6,511.1 352.6,509.7 352.6,508.4 352.6,507.0 352.6,505.6 352.6,504.2 352.6,502.8 352.6,501.5 352.6,500.2 352.6,498.9 352.6,497.7 352.7,496.5 352.7,495.5 352.7,494.5 352.7,493.6 352.7,492.9 352.7,492.2 352.7,491.7 352.7,491.4 352.7,491.2 352.7,491.2 352.7,491.4 352.7,491.9 352.7,492.5 352.7,493.4 352.7,494.3 352.8,495.5 352.8,496.7 352.8,498.0 352.8,499.4 352.8,500.9 352.8,502.4 352.8,503.8 352.8,505.3 352.8,506.7 352.9,508.1 352.9,509.3 352.9,510.5 352.9,511.5 352.9,512.4 353.0,513.1 353.0,513.7 353.2,514.4 353.4,513.0 353.7,510.8 354.0,509.4 354.9,508.7 356.0,509.0 356.9,509.6 358.0,510.3 359.0,511.3 359.4,511.9 359.8,512.7 360.2,513.7 360.6,514.9 361.1,516.0 361.5,517.0 362.0,517.9 362.7,518.8 363.3,519.4 364.0,519.8 364.9,520.1 366.0,520.6 366.7,520.9 367.5,521.1 368.4,521.4 369.3,521.6 370.3,521.8 371.4,522.0 372.5,522.1 373.7,522.4 375.0,522.6 375.8,522.6 376.7,522.6 377.6,522.5 378.6,522.5 379.6,522.6 380.6,522.7 381.6,522.8 382.7,522.9 383.7,523.1 384.8,523.4 385.8,523.5 386.9,523.7 388.0,523.8 389.0,523.8 390.0,523.8 391.0,524.1 392.1,524.6 393.2,524.9 394.3,525.1 395.4,525.3 396.5,525.6 397.6,525.9 398.7,526.4 399.7,526.9 400.7,527.2 401.7,527.4 402.6,527.5 403.5,527.9 404.3,528.2 405.0,528.5 406.7,528.9 408.0,529.2 408.8,529.5 409.5,529.7 410.0,529.9" fill="none" stroke="#f25a55" stroke-width="1.2" stroke-linejoin="round" stroke-linecap="round"/>
<polyline points="352.6,519.0 353.2,519.5 353.9,520.2 354.9,521.1 356.0,522.1 356.6,522.7 357.3,523.4 358.0,524.2 358.7,525.0 359.5,525.9 360.3,526.7 361.1,527.4 362.0,528.0 362.8,528.5 363.6,529.1 364.3,529.6 365.1,530.1 366.0,530.3 367.1,530.4 368.4,530.6 370.0,530.9 370.7,531.0 371.5,531.2 372.3,531.4 373.2,531.6 374.2,531.9 375.1,532.1 376.1,532.4 377.1,532.6 378.2,532.7 379.2,532.8 380.3,532.8 381.4,532.8 382.5,532.8 383.6,533.0 384.7,533.2 385.8,533.4 386.9,533.5 387.9,533.6 389.0,533.9 390.0,534.1 391.0,534.4 392.1,534.6 393.2,534.9 394.3,535.4 395.5,535.7 396.6,535.8 397.8,536.0 399.0,536.3 400.1,536.7 401.2,537.0 402.4,537.2 403.4,537.3 404.5,537.3 405.5,537.4 406.4,537.7 407.3,537.9 408.1,538.2 408.8,538.5 409.5,538.9 410.0,539.1" fill="none" stroke="#e9d23a" stroke-width="1.2" stroke-linejoin="round" stroke-linecap="round"/>
<polyline points="352.6,524.3 353.2,524.8 353.9,525.6 354.9,526.4 356.0,527.1 356.7,527.6 357.5,528.1 358.3,528.8 359.2,529.6 360.1,530.3 361.0,531.0 362.0,531.6 362.8,532.0 363.6,532.5 364.3,532.9 365.1,533.3 366.0,533.5 367.1,533.7 368.4,534.0 370.0,534.4 370.7,534.6 371.5,534.8 372.3,535.0 373.2,535.1 374.2,535.2 375.1,535.4 376.1,535.6 377.1,535.9 378.2,536.0 379.2,535.9 380.3,535.9 381.4,536.3 382.5,536.7 383.6,537.0 384.7,537.3 385.8,537.5 386.9,537.5 387.9,537.6 389.0,537.6 390.0,537.6 391.0,538.0 392.1,538.4 393.2,538.8 394.3,539.0 395.5,539.2 396.6,539.1 397.8,539.1 399.0,539.4 400.1,539.6 401.2,539.8 402.4,540.0 403.4,540.1 404.5,540.2 405.5,540.3 406.4,540.7 407.3,541.0 408.1,541.1 408.8,541.2 409.5,541.2 410.0,541.3" fill="none" stroke="#cc80d8" stroke-width="1.2" stroke-linejoin="round" stroke-linecap="round"/>
<polyline points="352.6,528.1 353.4,528.5 354.5,529.1 356.0,530.2 356.7,530.9 357.5,531.8 358.3,532.6 359.2,533.4 360.1,534.1 361.0,534.9 362.0,535.5 362.8,535.9 363.6,536.0 364.3,536.1 365.1,536.1 366.0,536.4 367.1,536.7 368.4,537.0 370.0,537.4 370.7,537.5 371.5,537.6 372.3,537.7 373.2,537.7 374.2,537.8 375.1,537.8 376.1,538.1 377.1,538.3 378.2,538.5 379.2,538.7 380.3,538.9 381.4,539.2 382.5,539.5 383.6,539.7 384.7,539.8 385.8,539.9 386.9,539.8 387.9,539.9 389.0,540.2 390.0,540.6 391.0,540.6 392.1,540.7 393.2,540.8 394.3,541.1 395.5,541.3 396.6,541.5 397.8,541.6 399.0,541.9 400.1,542.3 401.2,542.6 402.4,543.0 403.4,543.2 404.5,543.5 405.5,543.7 406.4,543.9 407.3,544.0 408.1,544.2 408.8,544.4 409.5,544.6 410.0,544.7" fill="none" stroke="#c09a3c" stroke-width="1.2" stroke-linejoin="round" stroke-linecap="round"/>
<polyline points="352.6,533.5 353.2,534.0 353.9,534.8 354.9,535.6 356.0,536.6 356.7,537.2 357.5,537.8 358.3,538.3 359.2,538.7 360.1,539.1 361.0,539.6 362.0,540.0 362.8,540.3 363.6,540.4 364.3,540.5 365.1,540.5 366.0,540.6 367.1,540.8 368.4,540.9 370.0,541.0 370.7,541.1 371.5,541.2 372.3,541.4 373.2,541.5 374.2,541.6 375.1,541.7 376.1,541.7 377.1,541.7 378.2,541.8 379.2,542.0 380.3,542.1 381.4,542.1 382.5,542.1 383.6,542.5 384.7,542.9 385.8,543.0 386.9,542.9 387.9,542.9 389.0,543.1 390.0,543.3 391.0,543.5 392.1,543.7 393.2,544.0 394.3,544.2 395.5,544.4 396.6,544.4 397.8,544.5 399.0,544.7 400.1,545.0 401.2,545.1 402.4,545.2 403.4,545.3 404.5,545.6 405.5,545.8 406.4,546.0 407.3,546.2 408.1,546.2 408.8,546.2 409.5,546.2 410.0,546.2" fill="none" stroke="#f27fb8" stroke-width="1.2" stroke-linejoin="round" stroke-linecap="round"/>
<polyline points="352.6,540.1 353.4,540.7 354.5,541.6 356.0,542.6 356.7,543.2 357.5,543.8 358.3,544.3 359.2,544.8 360.1,545.3 361.0,546.0 362.0,546.6 362.8,546.9 363.6,547.2 364.3,547.4 365.1,547.5 366.0,547.4 367.1,547.3 368.4,547.2 370.0,547.2 370.7,547.5 371.5,547.8 372.3,548.1 373.2,548.2 374.2,548.1 375.1,548.0 376.1,548.3 377.1,548.5 378.2,548.6 379.2,548.7 380.3,548.7 381.4,548.7 382.5,548.8 383.6,549.0 384.7,549.3 385.8,549.5 386.9,549.6 387.9,549.6 389.0,549.5 390.0,549.3 391.0,549.4 392.1,549.5 393.2,549.8 394.3,550.3 395.5,550.6 396.6,550.5 397.8,550.5 399.0,550.5 400.1,550.5 401.2,551.0 402.4,551.5 403.4,551.7 404.5,551.8 405.5,551.9 406.4,552.0 407.3,552.1 408.1,552.2 408.8,552.1 409.5,552.1 410.0,552.1" fill="none" stroke="#57c45e" stroke-width="1.2" stroke-linejoin="round" stroke-linecap="round"/>
<polyline points="352.6,548.7 353.0,549.2 353.4,550.0 354.3,550.8 356.0,551.6 356.7,552.0 357.4,552.3 358.2,552.4 359.1,552.3 360.0,552.2 360.9,552.2 362.0,552.3 363.0,552.4 364.1,552.5 365.3,552.6 366.4,552.7 367.6,552.8 368.8,552.9 370.0,553.0 370.9,553.1 371.8,553.1 372.7,553.2 373.6,553.0 374.6,552.8 375.6,552.8 376.6,553.1 377.6,553.3 378.6,553.3 379.6,553.3 380.7,553.3 381.7,553.2 382.8,553.1 383.8,553.0 384.9,552.9 385.9,553.0 386.9,553.3 388.0,553.4 389.0,553.5 390.0,553.6 391.0,553.7 392.1,553.8 393.2,554.0 394.3,554.3 395.5,554.5 396.6,554.4 397.8,554.5 399.0,554.7 400.1,554.9 401.2,555.0 402.4,555.1 403.4,555.5 404.5,556.0 405.5,556.3 406.4,556.5 407.3,556.6 408.1,556.8 408.8,557.0 409.5,557.1 410.0,557.2" fill="none" stroke="#f7a23d" stroke-width="1.2" stroke-linejoin="round" stroke-linecap="round"/>
<polyline points="352.6,549.4 353.0,550.0 353.4,550.8 354.3,551.7 356.0,552.6 356.7,552.8 357.4,553.0 358.2,552.9 359.1,552.6 360.0,552.4 360.9,552.6 362.0,552.9 363.0,553.2 364.1,553.4 365.3,553.5 366.4,553.2 367.6,553.0 368.8,552.9 370.0,552.9 370.9,553.1 371.8,553.3 372.7,553.4 373.6,553.3 374.6,553.2 375.6,553.1 376.6,553.2 377.6,553.4 378.6,553.6 379.6,553.9 380.7,554.0 381.7,554.0 382.8,554.0 383.8,554.0 384.9,554.1 385.9,554.1 386.9,554.0 388.0,554.0 389.0,554.1 390.0,554.2 391.0,554.2 392.1,554.1 393.2,554.3 394.3,554.6 395.5,554.9 396.6,555.2 397.8,555.5 399.0,555.3 400.1,555.2 401.2,555.8 402.4,556.3 403.4,556.6 404.5,556.8 405.5,557.0 406.4,557.0 407.3,557.0 408.1,557.1 408.8,557.2 409.5,557.3 410.0,557.4" fill="none" stroke="#f26b32" stroke-width="1.2" stroke-linejoin="round" stroke-linecap="round"/>
<path d="M411.9,528.1V534.6M415.6,528.1V534.6" stroke="#2c3a52" stroke-width="1.9" fill="none"/>
<line x1="411.9" y1="531.4" x2="415.6" y2="531.4" stroke="#2c3a52" stroke-width="1.8"/>
<path d="M411.9,537.5V560.4M415.6,537.5V560.4" stroke="#2c3a52" stroke-width="1.9" fill="none"/>
<line x1="411.9" y1="540.5" x2="415.6" y2="540.5" stroke="#2c3a52" stroke-width="1.8"/>
<line x1="411.9" y1="545.0" x2="415.6" y2="545.0" stroke="#2c3a52" stroke-width="1.8"/>
<line x1="411.9" y1="550.0" x2="415.6" y2="550.0" stroke="#2c3a52" stroke-width="1.8"/>
<line x1="411.9" y1="555.0" x2="415.6" y2="555.0" stroke="#2c3a52" stroke-width="1.8"/>
<line x1="411.9" y1="558.5" x2="415.6" y2="558.5" stroke="#2c3a52" stroke-width="1.8"/>
<line x1="419.5" y1="560" x2="419.5" y2="611.4" stroke="#f25a55" stroke-width="1.1"/>
<polyline points="419.5,571.6 419.8,570.5 420.5,569.4 421.0,569.2 421.8,569.2 424.0,569.0 424.6,568.9 425.3,568.7 426.0,568.6 426.8,568.4 427.6,568.3 428.5,568.1 429.4,568.1 430.3,568.2 431.4,568.3 432.4,568.1 433.5,567.8 434.7,567.6 436.0,567.4 437.2,567.2 438.6,566.9 440.0,566.6 440.8,566.6 441.6,566.7 442.4,566.9 443.3,567.1 444.2,566.9 445.1,566.7 446.0,566.4 447.0,566.3 448.0,566.3 449.0,566.2 450.0,566.2 451.0,566.2 452.0,566.3 453.1,566.3 454.1,566.1 455.2,566.0 456.3,566.0 457.3,566.1 458.4,566.2 459.5,566.2 460.6,566.2 461.6,566.2 462.7,566.3 463.8,566.5 464.8,566.5 465.9,566.3 466.9,566.1 468.0,566.0 469.0,566.0 470.0,566.1 471.0,566.0 472.0,565.8 473.0,565.7 474.0,565.6 475.1,565.6 476.1,565.6 477.1,565.7 478.1,565.7 479.2,565.7 480.2,565.8 481.2,566.0 482.2,566.2 483.3,566.0 484.3,565.7 485.3,565.5 486.3,565.4 487.4,565.4 488.4,565.4 489.4,565.4 490.4,565.5 491.4,565.5 492.4,565.5 493.4,565.6 494.3,565.6 495.3,565.6 496.3,565.6 497.2,565.6 498.2,565.5 499.1,565.4 500.0,565.2 501.2,565.2 502.3,565.4 503.5,565.6 504.7,565.4 505.9,565.3 507.1,565.2 508.4,565.3 509.6,565.4 510.8,565.2 512.0,565.1 513.1,565.0 514.3,565.0 515.4,564.9 516.5,564.8 517.5,564.7 518.6,564.7 519.5,564.6 520.5,564.6 521.3,564.5 522.2,564.6 522.9,564.8 523.6,564.9 524.2,565.0 524.8,565.0" fill="none" stroke="#f25a55" stroke-width="1.2" stroke-linejoin="round" stroke-linecap="round"/>
<polyline points="419.5,566.3 419.4,565.3 420.5,564.3 421.0,564.3 421.3,564.3 421.5,564.3 421.9,564.4 422.5,564.4 423.5,564.3 425.0,564.0 427.1,564.0 430.0,564.2 430.6,564.2 431.3,564.3 431.9,564.2 432.6,564.2 433.4,564.1 434.2,564.0 434.9,564.0 435.8,563.9 436.6,563.9 437.5,563.9 438.4,564.1 439.3,564.3 440.2,564.5 441.2,564.5 442.2,564.3 443.2,564.2 444.2,564.3 445.2,564.4 446.3,564.5 447.3,564.6 448.4,564.7 449.5,564.8 450.6,564.6 451.7,564.4 452.8,564.3 453.9,564.4 455.0,564.5 456.2,564.4 457.3,564.1 458.4,563.9 459.6,564.1 460.7,564.4 461.8,564.6 463.0,564.3 464.1,564.0 465.2,564.1 466.4,564.4 467.5,564.6 468.6,564.5 469.7,564.4 470.8,564.3 471.9,564.5 472.9,564.7 474.0,564.7 475.0,564.6 476.1,564.5 477.1,564.4 478.1,564.4 479.0,564.3 480.0,564.2 481.1,564.1 482.2,564.0 483.3,563.9 484.4,563.9 485.6,563.9 486.7,564.2 487.9,564.5 489.1,564.6 490.2,564.5 491.4,564.4 492.6,564.2 493.8,564.1 495.0,564.0 496.2,564.0 497.4,564.1 498.6,564.2 499.7,564.3 500.9,564.4 502.1,564.4 503.2,564.3 504.4,564.3 505.5,564.3 506.6,564.3 507.8,564.3 508.9,564.3 509.9,564.4 511.0,564.5 512.0,564.6 513.0,564.5 514.0,564.2 515.0,564.0 516.0,564.0 516.9,564.2 517.8,564.5 518.6,564.7 519.5,564.6 520.2,564.5 521.0,564.5 521.7,564.5 522.4,564.5 523.1,564.6 523.7,564.7 524.3,564.7 524.8,564.7" fill="none" stroke="#f7a23d" stroke-width="1.2" stroke-linejoin="round" stroke-linecap="round"/>
<polyline points="419.5,566.2 419.4,565.2 420.5,564.3 421.0,564.2 421.3,564.2 421.5,564.2 421.9,564.3 422.5,564.4 423.5,564.4 425.0,564.6 427.1,564.5 430.0,564.1 430.6,564.0 431.3,563.9 431.9,564.0 432.6,564.2 433.4,564.4 434.2,564.6 434.9,564.7 435.8,564.7 436.6,564.6 437.5,564.6 438.4,564.5 439.3,564.4 440.2,564.3 441.2,564.3 442.2,564.2 443.2,564.2 444.2,564.2 445.2,564.2 446.3,564.3 447.3,564.3 448.4,564.2 449.5,564.2 450.6,564.3 451.7,564.4 452.8,564.5 453.9,564.5 455.0,564.5 456.2,564.4 457.3,564.4 458.4,564.4 459.6,564.3 460.7,564.3 461.8,564.3 463.0,564.3 464.1,564.3 465.2,564.2 466.4,564.0 467.5,563.8 468.6,563.9 469.7,564.0 470.8,564.0 471.9,563.9 472.9,563.9 474.0,564.0 475.0,564.2 476.1,564.5 477.1,564.4 478.1,564.2 479.0,564.0 480.0,563.9 481.1,564.0 482.2,564.1 483.3,564.1 484.4,564.1 485.6,564.0 486.7,564.1 487.9,564.1 489.1,564.1 490.2,564.1 491.4,564.0 492.6,564.2 493.8,564.3 495.0,564.3 496.2,564.1 497.4,563.9 498.6,564.1 499.7,564.3 500.9,564.5 502.1,564.6 503.2,564.7 504.4,564.6 505.5,564.5 506.6,564.3 507.8,564.2 508.9,564.0 509.9,563.9 511.0,563.9 512.0,563.8 513.0,563.9 514.0,564.1 515.0,564.4 516.0,564.4 516.9,564.4 517.8,564.3 518.6,564.2 519.5,564.2 520.2,564.2 521.0,564.2 521.7,564.2 522.4,564.2 523.1,564.2 523.7,564.1 524.3,564.1 524.8,564.1" fill="none" stroke="#cc80d8" stroke-width="1.2" stroke-linejoin="round" stroke-linecap="round"/>
<polyline points="419.5,566.5 419.4,565.5 420.5,564.3 421.0,564.1 421.3,563.9 421.5,563.8 421.9,563.7 422.5,563.6 423.5,563.5 425.0,563.3 427.1,563.7 430.0,564.0 430.6,563.9 431.3,563.9 431.9,563.9 432.6,563.8 433.4,563.8 434.2,563.7 434.9,563.7 435.8,563.8 436.6,563.9 437.5,564.0 438.4,563.9 439.3,563.8 440.2,563.7 441.2,563.6 442.2,563.4 443.2,563.2 444.2,563.3 445.2,563.5 446.3,563.8 447.3,563.8 448.4,563.7 449.5,563.7 450.6,563.8 451.7,563.9 452.8,563.9 453.9,563.6 455.0,563.4 456.2,563.5 457.3,563.8 458.4,564.0 459.6,564.0 460.7,563.9 461.8,563.8 463.0,563.6 464.1,563.4 465.2,563.4 466.4,563.5 467.5,563.6 468.6,563.5 469.7,563.3 470.8,563.2 471.9,563.3 472.9,563.3 474.0,563.5 475.0,563.6 476.1,563.8 477.1,563.8 478.1,563.6 479.0,563.5 480.0,563.4 481.1,563.4 482.2,563.4 483.3,563.6 484.4,563.8 485.6,564.0 486.7,564.0 487.9,564.0 489.1,564.0 490.2,563.9 491.4,563.8 492.6,563.7 493.8,563.6 495.0,563.6 496.2,563.8 497.4,563.9 498.6,564.0 499.7,564.0 500.9,563.9 502.1,563.6 503.2,563.3 504.4,563.2 505.5,563.2 506.6,563.2 507.8,563.2 508.9,563.2 509.9,563.2 511.0,563.2 512.0,563.3 513.0,563.3 514.0,563.4 515.0,563.5 516.0,563.5 516.9,563.5 517.8,563.5 518.6,563.4 519.5,563.4 520.2,563.4 521.0,563.3 521.7,563.3 522.4,563.5 523.1,563.6 523.7,563.8 524.3,563.9 524.8,563.9" fill="none" stroke="#f25a55" stroke-width="1.2" stroke-linejoin="round" stroke-linecap="round"/>
<polyline points="419.5,566.5 419.4,565.5 420.5,564.2 421.0,564.0 421.3,563.9 421.5,563.9 421.9,563.9 422.5,563.8 423.5,564.0 425.0,564.2 427.1,564.6 430.0,565.0 430.6,565.0 431.3,565.0 431.9,565.0 432.6,564.9 433.4,564.8 434.2,564.7 434.9,564.7 435.8,564.7 436.6,564.7 437.5,564.7 438.4,564.8 439.3,564.9 440.2,565.0 441.2,565.0 442.2,565.1 443.2,565.1 444.2,565.1 445.2,565.1 446.3,565.0 447.3,565.0 448.4,565.0 449.5,565.0 450.6,564.8 451.7,564.7 452.8,564.6 453.9,564.6 455.0,564.5 456.2,564.5 457.3,564.7 458.4,564.8 459.6,564.9 460.7,565.0 461.8,565.0 463.0,565.0 464.1,564.9 465.2,564.9 466.4,564.9 467.5,564.9 468.6,564.9 469.7,564.9 470.8,564.9 471.9,564.7 472.9,564.6 474.0,564.6 475.0,564.6 476.1,564.7 477.1,564.7 478.1,564.7 479.0,564.7 480.0,564.7 481.1,564.7 482.2,564.7 483.3,564.6 484.4,564.5 485.6,564.3 486.7,564.3 487.9,564.3 489.1,564.3 490.2,564.4 491.4,564.4 492.6,564.6 493.8,564.8 495.0,564.8 496.2,564.6 497.4,564.4 498.6,564.4 499.7,564.4 500.9,564.5 502.1,564.8 503.2,565.0 504.4,564.9 505.5,564.7 506.6,564.5 507.8,564.6 508.9,564.7 509.9,564.8 511.0,564.7 512.0,564.7 513.0,564.6 514.0,564.5 515.0,564.3 516.0,564.3 516.9,564.5 517.8,564.6 518.6,564.7 519.5,564.7 520.2,564.7 521.0,564.7 521.7,564.7 522.4,564.7 523.1,564.7 523.7,564.7 524.3,564.7 524.8,564.7" fill="none" stroke="#57c45e" stroke-width="1.2" stroke-linejoin="round" stroke-linecap="round"/>
<polyline points="419.5,533.7 419.5,534.3 419.5,535.0 419.6,535.8 419.6,536.7 419.6,537.7 419.6,538.8 419.7,539.9 419.7,541.0 419.7,542.2 419.8,543.4 419.8,544.6 419.8,545.7 419.9,546.8 419.9,547.9 420.0,548.9 420.0,549.8 420.1,551.1 420.1,552.3 420.2,553.6 420.2,554.8 420.3,555.9 420.4,557.1 420.5,558.1 420.6,559.1 420.7,560.0 420.8,560.8 421.0,561.6 421.4,563.2 422.0,563.9 424.0,563.9 424.6,563.9 425.2,563.8 425.9,563.8 426.5,563.9 427.2,564.0 428.0,564.1 428.8,564.2 429.7,564.0 430.6,563.8 431.7,563.7 432.8,563.5 434.0,563.3 435.3,563.3 436.8,563.5 438.3,563.6 440.0,563.8 440.7,563.9 441.5,563.8 442.2,563.7 443.0,563.6 443.8,563.6 444.7,563.6 445.5,563.7 446.4,563.8 447.3,563.8 448.2,563.7 449.1,563.7 450.1,563.6 451.1,563.4 452.0,563.3 453.0,563.3 454.0,563.6 455.1,563.8 456.1,563.9 457.1,563.8 458.2,563.7 459.3,563.7 460.3,563.9 461.4,564.0 462.5,563.8 463.6,563.5 464.7,563.3 465.8,563.4 466.9,563.6 468.0,563.7 469.1,563.7 470.2,563.8 471.3,563.9 472.4,563.9 473.5,564.0 474.6,563.9 475.7,563.8 476.8,563.8 477.9,563.8 478.9,563.9 480.0,563.8 481.0,563.7 482.0,563.6 483.0,563.6 484.1,563.6 485.1,563.6 486.2,563.7 487.3,563.9 488.5,564.1 489.6,563.9 490.8,563.8 491.9,563.7 493.1,563.9 494.3,564.0 495.4,563.9 496.6,563.6 497.8,563.5 499.0,563.6 500.2,563.8 501.4,563.9 502.6,563.8 503.7,563.8 504.9,563.6 506.1,563.4 507.2,563.5 508.3,563.6 509.4,563.8 510.5,563.9 511.6,564.0 512.7,564.1 513.7,564.1 514.7,564.1 515.7,564.1 516.6,563.8 517.6,563.6 518.5,563.4 519.3,563.4 520.1,563.5 520.9,563.6 521.7,563.6 522.4,563.7 523.1,563.7 523.7,563.8 524.3,563.8 524.8,563.8" fill="none" stroke="#e9d23a" stroke-width="1.2" stroke-linejoin="round" stroke-linecap="round"/>
<line x1="434.3" y1="484.3" x2="434.3" y2="545.7" stroke="#9aa3b5" stroke-width="1.0"/>
<line x1="433.8" y1="545.7" x2="535.7" y2="545.7" stroke="#9aa3b5" stroke-width="1.0"/>
<line x1="432.3" y1="540.7" x2="434.3" y2="540.7" stroke="#7f8ea3" stroke-width="0.8"/>
<text x="431.3" y="542.0" font-size="3.4" fill="#5a6578" font-weight="normal" text-anchor="end">0.5</text>
<line x1="432.3" y1="531.4666666666667" x2="434.3" y2="531.4666666666667" stroke="#7f8ea3" stroke-width="0.8"/>
<text x="431.3" y="532.7666666666667" font-size="3.4" fill="#5a6578" font-weight="normal" text-anchor="end">0.5</text>
<line x1="432.3" y1="522.2333333333333" x2="434.3" y2="522.2333333333333" stroke="#7f8ea3" stroke-width="0.8"/>
<text x="431.3" y="523.5333333333333" font-size="3.4" fill="#5a6578" font-weight="normal" text-anchor="end">0.5</text>
<line x1="432.3" y1="513.0" x2="434.3" y2="513.0" stroke="#7f8ea3" stroke-width="0.8"/>
<text x="431.3" y="514.3" font-size="3.4" fill="#5a6578" font-weight="normal" text-anchor="end">0.5</text>
<line x1="432.3" y1="503.7666666666667" x2="434.3" y2="503.7666666666667" stroke="#7f8ea3" stroke-width="0.8"/>
<text x="431.3" y="505.0666666666667" font-size="3.4" fill="#5a6578" font-weight="normal" text-anchor="end">0.5</text>
<line x1="432.3" y1="494.53333333333336" x2="434.3" y2="494.53333333333336" stroke="#7f8ea3" stroke-width="0.8"/>
<text x="431.3" y="495.83333333333337" font-size="3.4" fill="#5a6578" font-weight="normal" text-anchor="end">0.5</text>
<line x1="432.3" y1="485.3" x2="434.3" y2="485.3" stroke="#7f8ea3" stroke-width="0.8"/>
<text x="431.3" y="486.6" font-size="3.4" fill="#5a6578" font-weight="normal" text-anchor="end">0.5</text>
<line x1="442.3" y1="545.7" x2="442.3" y2="547.2" stroke="#7f8ea3" stroke-width="0.8"/>
<text x="442.3" y="551.7" font-size="3.2" fill="#5a6578" font-weight="normal" text-anchor="middle">0.0004</text>
<line x1="460.18" y1="545.7" x2="460.18" y2="547.2" stroke="#7f8ea3" stroke-width="0.8"/>
<text x="460.18" y="551.7" font-size="3.2" fill="#5a6578" font-weight="normal" text-anchor="middle">0.0004</text>
<line x1="478.06" y1="545.7" x2="478.06" y2="547.2" stroke="#7f8ea3" stroke-width="0.8"/>
<text x="478.06" y="551.7" font-size="3.2" fill="#5a6578" font-weight="normal" text-anchor="middle">0.0004</text>
<line x1="495.94000000000005" y1="545.7" x2="495.94000000000005" y2="547.2" stroke="#7f8ea3" stroke-width="0.8"/>
<text x="495.94000000000005" y="551.7" font-size="3.2" fill="#5a6578" font-weight="normal" text-anchor="middle">0.0004</text>
<line x1="513.82" y1="545.7" x2="513.82" y2="547.2" stroke="#7f8ea3" stroke-width="0.8"/>
<text x="513.82" y="551.7" font-size="3.2" fill="#5a6578" font-weight="normal" text-anchor="middle">0.0004</text>
<line x1="531.7" y1="545.7" x2="531.7" y2="547.2" stroke="#7f8ea3" stroke-width="0.8"/>
<text x="531.7" y="551.7" font-size="3.2" fill="#5a6578" font-weight="normal" text-anchor="middle">0.0004</text>
<line x1="456.6" y1="484.3" x2="456.6" y2="545.7" stroke="#3d9ae0" stroke-width="1.15"/>
<polyline points="441.4,534.3 441.6,533.7 441.9,533.0 442.2,532.1 442.5,531.1 442.9,530.1 443.3,529.0 443.7,527.8 444.1,526.7 444.6,525.6 445.0,524.6 445.3,523.7 445.7,522.9 446.3,521.8 446.8,520.8 447.4,519.9 447.9,519.1 448.5,518.4 449.0,517.7 449.5,517.0 450.2,516.0 450.9,515.2 451.5,514.4 452.2,513.6 452.9,512.9 453.7,512.1 454.6,511.4 455.5,510.7 456.6,510.0 457.4,509.5 458.2,509.0 459.0,508.5 460.0,508.0 460.9,507.5 462.0,507.0 463.0,506.5 463.9,506.1 464.8,505.8 465.8,505.4 466.7,505.1 467.8,504.7 468.9,504.4 470.1,504.1 471.4,503.7 472.3,503.5 473.2,503.2 474.2,503.0 475.2,502.7 476.2,502.5 477.2,502.2 478.3,502.0 479.4,501.7 480.5,501.4 481.7,501.2 482.8,501.0 483.9,500.7 485.0,500.5 486.0,500.3 486.9,500.1 487.9,499.9 488.9,499.8 489.9,499.6 490.9,499.4 492.0,499.2 493.0,499.1 494.0,498.9 495.0,498.7 496.0,498.6 497.0,498.4 498.0,498.3 499.0,498.1 500.0,498.0 501.0,497.9 502.1,497.7 503.1,497.6 504.1,497.5 505.1,497.3 506.1,497.2 507.1,497.1 508.1,497.0 509.0,496.9 510.0,496.8 511.0,496.7 512.0,496.6 513.0,496.5 514.0,496.4 515.0,496.3 516.1,496.2 517.3,496.1 518.4,496.0 519.6,495.9 520.7,495.8 521.9,495.6 523.0,495.6 524.0,495.5 525.0,495.4 525.9,495.3 526.7,495.2 527.4,495.2 528.0,495.1" fill="none" stroke="#3a3a3a" stroke-width="1.15" stroke-linejoin="round" stroke-linecap="round"/>
<circle cx="442" cy="531" r="0.95" fill="#f25a55" fill-opacity="0.8"/>
<circle cx="445" cy="525" r="0.95" fill="#57c45e" fill-opacity="0.8"/>
<circle cx="452.9" cy="512.6" r="0.95" fill="#f7a23d" fill-opacity="0.8"/>
<circle cx="463" cy="509" r="0.95" fill="#f27fb8" fill-opacity="0.8"/>
<circle cx="485" cy="504.3" r="0.95" fill="#e9d23a" fill-opacity="0.8"/>
<circle cx="528.6" cy="490" r="0.95" fill="#f25a55" fill-opacity="0.8"/>
<text transform="translate(467.00,528.90) scale(1.0618,1)" font-size="14.35" font-weight="normal" fill="#ff0c0c" stroke="#ff0c0c" stroke-width="0.2">4.1 µM</text>
</svg>
</body></html>
